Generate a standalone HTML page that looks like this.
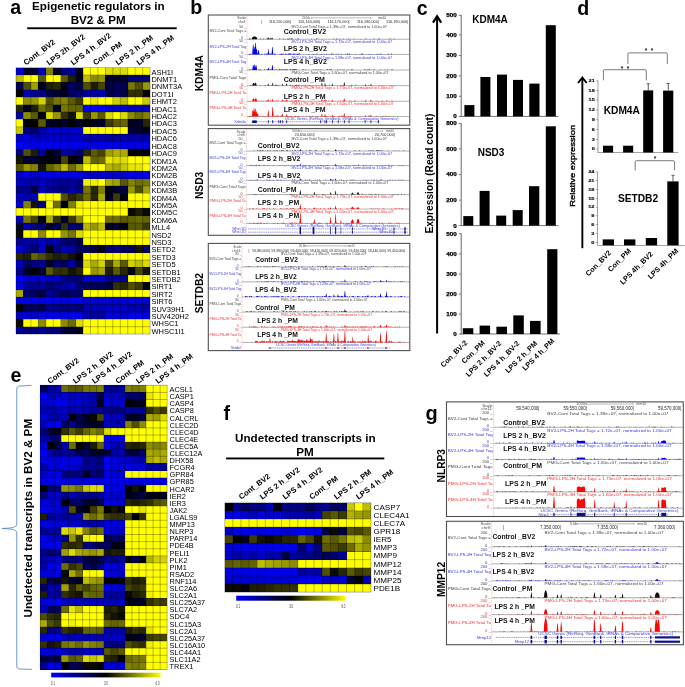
<!DOCTYPE html>
<html lang="en"><head><meta charset="utf-8"><title>Figure</title>
<style>html,body{margin:0;padding:0;background:#fff}svg{display:block}</style>
</head><body>
<svg width="685" height="687" viewBox="0 0 685 687" font-family="'Liberation Sans', Arial, sans-serif">
<rect width="685" height="687" fill="#fff"/>
<text x="10.30" y="14.40" font-size="19.6" font-weight="bold" text-anchor="start" fill="#000" >a</text>
<text x="98.40" y="10.40" font-size="11.65" font-weight="bold" text-anchor="middle" fill="#000" >Epigenetic regulators in</text>
<text x="98.20" y="24.10" font-size="11.65" font-weight="bold" text-anchor="middle" fill="#000" >BV2 &amp; PM</text>
<rect x="27.2" y="27.3" width="149.5" height="1.9" fill="#000"/>
<g shape-rendering="crispEdges">
<rect x="16.00" y="67.50" width="134.10" height="266.58" fill="#000"/>
<rect x="16.00" y="67.50" width="7.45" height="7.41" fill="#0000c8"/>
<rect x="23.45" y="67.50" width="7.45" height="7.41" fill="#000028"/>
<rect x="30.90" y="67.50" width="7.45" height="7.41" fill="#000028"/>
<rect x="38.35" y="67.50" width="7.45" height="7.41" fill="#0000b4"/>
<rect x="45.80" y="67.50" width="7.45" height="7.41" fill="#828200"/>
<rect x="53.25" y="67.50" width="7.45" height="7.41" fill="#000028"/>
<rect x="60.70" y="67.50" width="7.45" height="7.41" fill="#000082"/>
<rect x="68.15" y="67.50" width="7.45" height="7.41" fill="#000096"/>
<rect x="75.60" y="67.50" width="7.45" height="7.41" fill="#00001e"/>
<rect x="83.05" y="67.50" width="7.45" height="7.41" fill="#ffff00"/>
<rect x="90.50" y="67.50" width="7.45" height="7.41" fill="#ffff00"/>
<rect x="97.95" y="67.50" width="7.45" height="7.41" fill="#ffff00"/>
<rect x="105.40" y="67.50" width="7.45" height="7.41" fill="#dcdc00"/>
<rect x="112.85" y="67.50" width="7.45" height="7.41" fill="#dcdc00"/>
<rect x="120.30" y="67.50" width="7.45" height="7.41" fill="#dcdc00"/>
<rect x="127.75" y="67.50" width="7.45" height="7.41" fill="#ffff00"/>
<rect x="135.20" y="67.50" width="7.45" height="7.41" fill="#ffff00"/>
<rect x="142.65" y="67.50" width="7.45" height="7.41" fill="#ffff00"/>
<rect x="16.00" y="74.91" width="7.45" height="7.41" fill="#bebe00"/>
<rect x="23.45" y="74.91" width="7.45" height="7.41" fill="#ffff00"/>
<rect x="30.90" y="74.91" width="7.45" height="7.41" fill="#ffff00"/>
<rect x="38.35" y="74.91" width="7.45" height="7.41" fill="#5a5a00"/>
<rect x="45.80" y="74.91" width="7.45" height="7.41" fill="#ffff00"/>
<rect x="53.25" y="74.91" width="7.45" height="7.41" fill="#ffff00"/>
<rect x="60.70" y="74.91" width="7.45" height="7.41" fill="#5a5a00"/>
<rect x="68.15" y="74.91" width="7.45" height="7.41" fill="#1e1e00"/>
<rect x="75.60" y="74.91" width="7.45" height="7.41" fill="#00001e"/>
<rect x="83.05" y="74.91" width="7.45" height="7.41" fill="#bebe00"/>
<rect x="90.50" y="74.91" width="7.45" height="7.41" fill="#8c8c00"/>
<rect x="97.95" y="74.91" width="7.45" height="7.41" fill="#969600"/>
<rect x="105.40" y="74.91" width="7.45" height="7.41" fill="#000028"/>
<rect x="112.85" y="74.91" width="7.45" height="7.41" fill="#000028"/>
<rect x="120.30" y="74.91" width="7.45" height="7.41" fill="#000028"/>
<rect x="127.75" y="74.91" width="7.45" height="7.41" fill="#000078"/>
<rect x="135.20" y="74.91" width="7.45" height="7.41" fill="#000078"/>
<rect x="142.65" y="74.91" width="7.45" height="7.41" fill="#000078"/>
<rect x="16.00" y="82.31" width="7.45" height="7.41" fill="#000050"/>
<rect x="23.45" y="82.31" width="7.45" height="7.41" fill="#505000"/>
<rect x="30.90" y="82.31" width="7.45" height="7.41" fill="#a0a000"/>
<rect x="38.35" y="82.31" width="7.45" height="7.41" fill="#00001e"/>
<rect x="45.80" y="82.31" width="7.45" height="7.41" fill="#1e1e00"/>
<rect x="53.25" y="82.31" width="7.45" height="7.41" fill="#282800"/>
<rect x="60.70" y="82.31" width="7.45" height="7.41" fill="#00001e"/>
<rect x="68.15" y="82.31" width="7.45" height="7.41" fill="#00005a"/>
<rect x="75.60" y="82.31" width="7.45" height="7.41" fill="#00003c"/>
<rect x="83.05" y="82.31" width="7.45" height="7.41" fill="#505000"/>
<rect x="90.50" y="82.31" width="7.45" height="7.41" fill="#1e1e00"/>
<rect x="97.95" y="82.31" width="7.45" height="7.41" fill="#464600"/>
<rect x="105.40" y="82.31" width="7.45" height="7.41" fill="#000046"/>
<rect x="112.85" y="82.31" width="7.45" height="7.41" fill="#000050"/>
<rect x="120.30" y="82.31" width="7.45" height="7.41" fill="#00005a"/>
<rect x="127.75" y="82.31" width="7.45" height="7.41" fill="#787800"/>
<rect x="135.20" y="82.31" width="7.45" height="7.41" fill="#505000"/>
<rect x="142.65" y="82.31" width="7.45" height="7.41" fill="#969600"/>
<rect x="16.00" y="89.72" width="7.45" height="7.41" fill="#000000"/>
<rect x="23.45" y="89.72" width="7.45" height="7.41" fill="#0000b4"/>
<rect x="30.90" y="89.72" width="7.45" height="7.41" fill="#00008c"/>
<rect x="38.35" y="89.72" width="7.45" height="7.41" fill="#000082"/>
<rect x="45.80" y="89.72" width="7.45" height="7.41" fill="#000046"/>
<rect x="53.25" y="89.72" width="7.45" height="7.41" fill="#000028"/>
<rect x="60.70" y="89.72" width="7.45" height="7.41" fill="#00001e"/>
<rect x="68.15" y="89.72" width="7.45" height="7.41" fill="#000064"/>
<rect x="75.60" y="89.72" width="7.45" height="7.41" fill="#00006e"/>
<rect x="83.05" y="89.72" width="7.45" height="7.41" fill="#000096"/>
<rect x="90.50" y="89.72" width="7.45" height="7.41" fill="#0000a0"/>
<rect x="97.95" y="89.72" width="7.45" height="7.41" fill="#0000aa"/>
<rect x="105.40" y="89.72" width="7.45" height="7.41" fill="#000046"/>
<rect x="112.85" y="89.72" width="7.45" height="7.41" fill="#000064"/>
<rect x="120.30" y="89.72" width="7.45" height="7.41" fill="#000046"/>
<rect x="127.75" y="89.72" width="7.45" height="7.41" fill="#323200"/>
<rect x="135.20" y="89.72" width="7.45" height="7.41" fill="#323200"/>
<rect x="142.65" y="89.72" width="7.45" height="7.41" fill="#000000"/>
<rect x="16.00" y="97.12" width="7.45" height="7.41" fill="#ffff00"/>
<rect x="23.45" y="97.12" width="7.45" height="7.41" fill="#8c8c00"/>
<rect x="30.90" y="97.12" width="7.45" height="7.41" fill="#969600"/>
<rect x="38.35" y="97.12" width="7.45" height="7.41" fill="#d2d200"/>
<rect x="45.80" y="97.12" width="7.45" height="7.41" fill="#505000"/>
<rect x="53.25" y="97.12" width="7.45" height="7.41" fill="#787800"/>
<rect x="60.70" y="97.12" width="7.45" height="7.41" fill="#828200"/>
<rect x="68.15" y="97.12" width="7.45" height="7.41" fill="#5a5a00"/>
<rect x="75.60" y="97.12" width="7.45" height="7.41" fill="#3c3c00"/>
<rect x="83.05" y="97.12" width="7.45" height="7.41" fill="#ffff00"/>
<rect x="90.50" y="97.12" width="7.45" height="7.41" fill="#e6e600"/>
<rect x="97.95" y="97.12" width="7.45" height="7.41" fill="#ffff00"/>
<rect x="105.40" y="97.12" width="7.45" height="7.41" fill="#ffff00"/>
<rect x="112.85" y="97.12" width="7.45" height="7.41" fill="#d2d200"/>
<rect x="120.30" y="97.12" width="7.45" height="7.41" fill="#bebe00"/>
<rect x="127.75" y="97.12" width="7.45" height="7.41" fill="#ffff00"/>
<rect x="135.20" y="97.12" width="7.45" height="7.41" fill="#ffff00"/>
<rect x="142.65" y="97.12" width="7.45" height="7.41" fill="#c8c800"/>
<rect x="16.00" y="104.53" width="7.45" height="7.41" fill="#282800"/>
<rect x="23.45" y="104.53" width="7.45" height="7.41" fill="#00001e"/>
<rect x="30.90" y="104.53" width="7.45" height="7.41" fill="#1e1e00"/>
<rect x="38.35" y="104.53" width="7.45" height="7.41" fill="#6e6e00"/>
<rect x="45.80" y="104.53" width="7.45" height="7.41" fill="#505000"/>
<rect x="53.25" y="104.53" width="7.45" height="7.41" fill="#000032"/>
<rect x="60.70" y="104.53" width="7.45" height="7.41" fill="#787800"/>
<rect x="68.15" y="104.53" width="7.45" height="7.41" fill="#646400"/>
<rect x="75.60" y="104.53" width="7.45" height="7.41" fill="#646400"/>
<rect x="83.05" y="104.53" width="7.45" height="7.41" fill="#0000ff"/>
<rect x="90.50" y="104.53" width="7.45" height="7.41" fill="#0000ff"/>
<rect x="97.95" y="104.53" width="7.45" height="7.41" fill="#0000ff"/>
<rect x="105.40" y="104.53" width="7.45" height="7.41" fill="#0000d2"/>
<rect x="112.85" y="104.53" width="7.45" height="7.41" fill="#0000d2"/>
<rect x="120.30" y="104.53" width="7.45" height="7.41" fill="#0000d2"/>
<rect x="127.75" y="104.53" width="7.45" height="7.41" fill="#0000be"/>
<rect x="135.20" y="104.53" width="7.45" height="7.41" fill="#0000be"/>
<rect x="142.65" y="104.53" width="7.45" height="7.41" fill="#0000be"/>
<rect x="16.00" y="111.93" width="7.45" height="7.41" fill="#000096"/>
<rect x="23.45" y="111.93" width="7.45" height="7.41" fill="#8c8c00"/>
<rect x="30.90" y="111.93" width="7.45" height="7.41" fill="#5a5a00"/>
<rect x="38.35" y="111.93" width="7.45" height="7.41" fill="#000000"/>
<rect x="45.80" y="111.93" width="7.45" height="7.41" fill="#dcdc00"/>
<rect x="53.25" y="111.93" width="7.45" height="7.41" fill="#969600"/>
<rect x="60.70" y="111.93" width="7.45" height="7.41" fill="#323200"/>
<rect x="68.15" y="111.93" width="7.45" height="7.41" fill="#141400"/>
<rect x="75.60" y="111.93" width="7.45" height="7.41" fill="#dcdc00"/>
<rect x="83.05" y="111.93" width="7.45" height="7.41" fill="#3c3c00"/>
<rect x="90.50" y="111.93" width="7.45" height="7.41" fill="#969600"/>
<rect x="97.95" y="111.93" width="7.45" height="7.41" fill="#5a5a00"/>
<rect x="105.40" y="111.93" width="7.45" height="7.41" fill="#dcdc00"/>
<rect x="112.85" y="111.93" width="7.45" height="7.41" fill="#ffff00"/>
<rect x="120.30" y="111.93" width="7.45" height="7.41" fill="#dcdc00"/>
<rect x="127.75" y="111.93" width="7.45" height="7.41" fill="#8c8c00"/>
<rect x="135.20" y="111.93" width="7.45" height="7.41" fill="#6e6e00"/>
<rect x="142.65" y="111.93" width="7.45" height="7.41" fill="#828200"/>
<rect x="16.00" y="119.34" width="7.45" height="7.41" fill="#ffff00"/>
<rect x="23.45" y="119.34" width="7.45" height="7.41" fill="#000000"/>
<rect x="30.90" y="119.34" width="7.45" height="7.41" fill="#000000"/>
<rect x="38.35" y="119.34" width="7.45" height="7.41" fill="#5a5a00"/>
<rect x="45.80" y="119.34" width="7.45" height="7.41" fill="#000028"/>
<rect x="53.25" y="119.34" width="7.45" height="7.41" fill="#00001e"/>
<rect x="60.70" y="119.34" width="7.45" height="7.41" fill="#000028"/>
<rect x="68.15" y="119.34" width="7.45" height="7.41" fill="#00000a"/>
<rect x="75.60" y="119.34" width="7.45" height="7.41" fill="#000028"/>
<rect x="83.05" y="119.34" width="7.45" height="7.41" fill="#000000"/>
<rect x="90.50" y="119.34" width="7.45" height="7.41" fill="#00001e"/>
<rect x="97.95" y="119.34" width="7.45" height="7.41" fill="#000028"/>
<rect x="105.40" y="119.34" width="7.45" height="7.41" fill="#3c3c00"/>
<rect x="112.85" y="119.34" width="7.45" height="7.41" fill="#5a5a00"/>
<rect x="120.30" y="119.34" width="7.45" height="7.41" fill="#646400"/>
<rect x="127.75" y="119.34" width="7.45" height="7.41" fill="#00001e"/>
<rect x="135.20" y="119.34" width="7.45" height="7.41" fill="#000028"/>
<rect x="142.65" y="119.34" width="7.45" height="7.41" fill="#282800"/>
<rect x="16.00" y="126.74" width="7.45" height="7.41" fill="#c8c800"/>
<rect x="23.45" y="126.74" width="7.45" height="7.41" fill="#000082"/>
<rect x="30.90" y="126.74" width="7.45" height="7.41" fill="#000064"/>
<rect x="38.35" y="126.74" width="7.45" height="7.41" fill="#0000aa"/>
<rect x="45.80" y="126.74" width="7.45" height="7.41" fill="#0000c8"/>
<rect x="53.25" y="126.74" width="7.45" height="7.41" fill="#0000c8"/>
<rect x="60.70" y="126.74" width="7.45" height="7.41" fill="#0000c8"/>
<rect x="68.15" y="126.74" width="7.45" height="7.41" fill="#0000c8"/>
<rect x="75.60" y="126.74" width="7.45" height="7.41" fill="#0000c8"/>
<rect x="83.05" y="126.74" width="7.45" height="7.41" fill="#ffff00"/>
<rect x="90.50" y="126.74" width="7.45" height="7.41" fill="#ffff00"/>
<rect x="97.95" y="126.74" width="7.45" height="7.41" fill="#ffff00"/>
<rect x="105.40" y="126.74" width="7.45" height="7.41" fill="#ffff00"/>
<rect x="112.85" y="126.74" width="7.45" height="7.41" fill="#ffff00"/>
<rect x="120.30" y="126.74" width="7.45" height="7.41" fill="#ffff00"/>
<rect x="127.75" y="126.74" width="7.45" height="7.41" fill="#00003c"/>
<rect x="135.20" y="126.74" width="7.45" height="7.41" fill="#000028"/>
<rect x="142.65" y="126.74" width="7.45" height="7.41" fill="#00001e"/>
<rect x="16.00" y="134.14" width="7.45" height="7.41" fill="#0000be"/>
<rect x="23.45" y="134.14" width="7.45" height="7.41" fill="#0000dc"/>
<rect x="30.90" y="134.14" width="7.45" height="7.41" fill="#0000c8"/>
<rect x="38.35" y="134.14" width="7.45" height="7.41" fill="#0000c8"/>
<rect x="45.80" y="134.14" width="7.45" height="7.41" fill="#0000c8"/>
<rect x="53.25" y="134.14" width="7.45" height="7.41" fill="#0000c8"/>
<rect x="60.70" y="134.14" width="7.45" height="7.41" fill="#0000c8"/>
<rect x="68.15" y="134.14" width="7.45" height="7.41" fill="#0000c8"/>
<rect x="75.60" y="134.14" width="7.45" height="7.41" fill="#0000c8"/>
<rect x="83.05" y="134.14" width="7.45" height="7.41" fill="#0000aa"/>
<rect x="90.50" y="134.14" width="7.45" height="7.41" fill="#0000aa"/>
<rect x="97.95" y="134.14" width="7.45" height="7.41" fill="#0000aa"/>
<rect x="105.40" y="134.14" width="7.45" height="7.41" fill="#000096"/>
<rect x="112.85" y="134.14" width="7.45" height="7.41" fill="#000096"/>
<rect x="120.30" y="134.14" width="7.45" height="7.41" fill="#0000aa"/>
<rect x="127.75" y="134.14" width="7.45" height="7.41" fill="#0000aa"/>
<rect x="135.20" y="134.14" width="7.45" height="7.41" fill="#0000aa"/>
<rect x="142.65" y="134.14" width="7.45" height="7.41" fill="#0000aa"/>
<rect x="16.00" y="141.55" width="7.45" height="7.41" fill="#0000ff"/>
<rect x="23.45" y="141.55" width="7.45" height="7.41" fill="#0000f0"/>
<rect x="30.90" y="141.55" width="7.45" height="7.41" fill="#0000f0"/>
<rect x="38.35" y="141.55" width="7.45" height="7.41" fill="#0000f0"/>
<rect x="45.80" y="141.55" width="7.45" height="7.41" fill="#0000f0"/>
<rect x="53.25" y="141.55" width="7.45" height="7.41" fill="#0000f0"/>
<rect x="60.70" y="141.55" width="7.45" height="7.41" fill="#0000f0"/>
<rect x="68.15" y="141.55" width="7.45" height="7.41" fill="#0000f0"/>
<rect x="75.60" y="141.55" width="7.45" height="7.41" fill="#0000f0"/>
<rect x="83.05" y="141.55" width="7.45" height="7.41" fill="#0000e6"/>
<rect x="90.50" y="141.55" width="7.45" height="7.41" fill="#0000e6"/>
<rect x="97.95" y="141.55" width="7.45" height="7.41" fill="#0000e6"/>
<rect x="105.40" y="141.55" width="7.45" height="7.41" fill="#0000e6"/>
<rect x="112.85" y="141.55" width="7.45" height="7.41" fill="#0000e6"/>
<rect x="120.30" y="141.55" width="7.45" height="7.41" fill="#0000e6"/>
<rect x="127.75" y="141.55" width="7.45" height="7.41" fill="#0000e6"/>
<rect x="135.20" y="141.55" width="7.45" height="7.41" fill="#0000e6"/>
<rect x="142.65" y="141.55" width="7.45" height="7.41" fill="#0000e6"/>
<rect x="16.00" y="148.95" width="7.45" height="7.41" fill="#000078"/>
<rect x="23.45" y="148.95" width="7.45" height="7.41" fill="#505000"/>
<rect x="30.90" y="148.95" width="7.45" height="7.41" fill="#1e1e00"/>
<rect x="38.35" y="148.95" width="7.45" height="7.41" fill="#000096"/>
<rect x="45.80" y="148.95" width="7.45" height="7.41" fill="#000014"/>
<rect x="53.25" y="148.95" width="7.45" height="7.41" fill="#000032"/>
<rect x="60.70" y="148.95" width="7.45" height="7.41" fill="#0000a0"/>
<rect x="68.15" y="148.95" width="7.45" height="7.41" fill="#000096"/>
<rect x="75.60" y="148.95" width="7.45" height="7.41" fill="#00006e"/>
<rect x="83.05" y="148.95" width="7.45" height="7.41" fill="#282800"/>
<rect x="90.50" y="148.95" width="7.45" height="7.41" fill="#5a5a00"/>
<rect x="97.95" y="148.95" width="7.45" height="7.41" fill="#464600"/>
<rect x="105.40" y="148.95" width="7.45" height="7.41" fill="#a0a000"/>
<rect x="112.85" y="148.95" width="7.45" height="7.41" fill="#b4b400"/>
<rect x="120.30" y="148.95" width="7.45" height="7.41" fill="#aaaa00"/>
<rect x="127.75" y="148.95" width="7.45" height="7.41" fill="#000000"/>
<rect x="135.20" y="148.95" width="7.45" height="7.41" fill="#000000"/>
<rect x="142.65" y="148.95" width="7.45" height="7.41" fill="#000000"/>
<rect x="16.00" y="156.36" width="7.45" height="7.41" fill="#141400"/>
<rect x="23.45" y="156.36" width="7.45" height="7.41" fill="#000032"/>
<rect x="30.90" y="156.36" width="7.45" height="7.41" fill="#00003c"/>
<rect x="38.35" y="156.36" width="7.45" height="7.41" fill="#000014"/>
<rect x="45.80" y="156.36" width="7.45" height="7.41" fill="#000000"/>
<rect x="53.25" y="156.36" width="7.45" height="7.41" fill="#00001e"/>
<rect x="60.70" y="156.36" width="7.45" height="7.41" fill="#464600"/>
<rect x="68.15" y="156.36" width="7.45" height="7.41" fill="#000000"/>
<rect x="75.60" y="156.36" width="7.45" height="7.41" fill="#000028"/>
<rect x="83.05" y="156.36" width="7.45" height="7.41" fill="#bebe00"/>
<rect x="90.50" y="156.36" width="7.45" height="7.41" fill="#646400"/>
<rect x="97.95" y="156.36" width="7.45" height="7.41" fill="#6e6e00"/>
<rect x="105.40" y="156.36" width="7.45" height="7.41" fill="#e6e600"/>
<rect x="112.85" y="156.36" width="7.45" height="7.41" fill="#dcdc00"/>
<rect x="120.30" y="156.36" width="7.45" height="7.41" fill="#dcdc00"/>
<rect x="127.75" y="156.36" width="7.45" height="7.41" fill="#ffff00"/>
<rect x="135.20" y="156.36" width="7.45" height="7.41" fill="#ffff00"/>
<rect x="142.65" y="156.36" width="7.45" height="7.41" fill="#ffff00"/>
<rect x="16.00" y="163.76" width="7.45" height="7.41" fill="#5a5a00"/>
<rect x="23.45" y="163.76" width="7.45" height="7.41" fill="#969600"/>
<rect x="30.90" y="163.76" width="7.45" height="7.41" fill="#828200"/>
<rect x="38.35" y="163.76" width="7.45" height="7.41" fill="#141400"/>
<rect x="45.80" y="163.76" width="7.45" height="7.41" fill="#646400"/>
<rect x="53.25" y="163.76" width="7.45" height="7.41" fill="#828200"/>
<rect x="60.70" y="163.76" width="7.45" height="7.41" fill="#bebe00"/>
<rect x="68.15" y="163.76" width="7.45" height="7.41" fill="#6e6e00"/>
<rect x="75.60" y="163.76" width="7.45" height="7.41" fill="#a0a000"/>
<rect x="83.05" y="163.76" width="7.45" height="7.41" fill="#ffff00"/>
<rect x="90.50" y="163.76" width="7.45" height="7.41" fill="#ffff00"/>
<rect x="97.95" y="163.76" width="7.45" height="7.41" fill="#ffff00"/>
<rect x="105.40" y="163.76" width="7.45" height="7.41" fill="#b4b400"/>
<rect x="112.85" y="163.76" width="7.45" height="7.41" fill="#aaaa00"/>
<rect x="120.30" y="163.76" width="7.45" height="7.41" fill="#c8c800"/>
<rect x="127.75" y="163.76" width="7.45" height="7.41" fill="#e6e600"/>
<rect x="135.20" y="163.76" width="7.45" height="7.41" fill="#e6e600"/>
<rect x="142.65" y="163.76" width="7.45" height="7.41" fill="#ffff00"/>
<rect x="16.00" y="171.17" width="7.45" height="7.41" fill="#0000c8"/>
<rect x="23.45" y="171.17" width="7.45" height="7.41" fill="#0000e6"/>
<rect x="30.90" y="171.17" width="7.45" height="7.41" fill="#0000c8"/>
<rect x="38.35" y="171.17" width="7.45" height="7.41" fill="#0000e6"/>
<rect x="45.80" y="171.17" width="7.45" height="7.41" fill="#0000e6"/>
<rect x="53.25" y="171.17" width="7.45" height="7.41" fill="#0000e6"/>
<rect x="60.70" y="171.17" width="7.45" height="7.41" fill="#0000e6"/>
<rect x="68.15" y="171.17" width="7.45" height="7.41" fill="#0000e6"/>
<rect x="75.60" y="171.17" width="7.45" height="7.41" fill="#0000e6"/>
<rect x="83.05" y="171.17" width="7.45" height="7.41" fill="#0000c8"/>
<rect x="90.50" y="171.17" width="7.45" height="7.41" fill="#0000c8"/>
<rect x="97.95" y="171.17" width="7.45" height="7.41" fill="#0000c8"/>
<rect x="105.40" y="171.17" width="7.45" height="7.41" fill="#0000c8"/>
<rect x="112.85" y="171.17" width="7.45" height="7.41" fill="#0000c8"/>
<rect x="120.30" y="171.17" width="7.45" height="7.41" fill="#0000c8"/>
<rect x="127.75" y="171.17" width="7.45" height="7.41" fill="#0000e6"/>
<rect x="135.20" y="171.17" width="7.45" height="7.41" fill="#0000e6"/>
<rect x="142.65" y="171.17" width="7.45" height="7.41" fill="#0000e6"/>
<rect x="16.00" y="178.57" width="7.45" height="7.41" fill="#0000c8"/>
<rect x="23.45" y="178.57" width="7.45" height="7.41" fill="#0000aa"/>
<rect x="30.90" y="178.57" width="7.45" height="7.41" fill="#0000b4"/>
<rect x="38.35" y="178.57" width="7.45" height="7.41" fill="#0000c8"/>
<rect x="45.80" y="178.57" width="7.45" height="7.41" fill="#0000a0"/>
<rect x="53.25" y="178.57" width="7.45" height="7.41" fill="#000096"/>
<rect x="60.70" y="178.57" width="7.45" height="7.41" fill="#000096"/>
<rect x="68.15" y="178.57" width="7.45" height="7.41" fill="#000096"/>
<rect x="75.60" y="178.57" width="7.45" height="7.41" fill="#000082"/>
<rect x="83.05" y="178.57" width="7.45" height="7.41" fill="#f0f000"/>
<rect x="90.50" y="178.57" width="7.45" height="7.41" fill="#f0f000"/>
<rect x="97.95" y="178.57" width="7.45" height="7.41" fill="#ffff00"/>
<rect x="105.40" y="178.57" width="7.45" height="7.41" fill="#aaaa00"/>
<rect x="112.85" y="178.57" width="7.45" height="7.41" fill="#a0a000"/>
<rect x="120.30" y="178.57" width="7.45" height="7.41" fill="#5a5a00"/>
<rect x="127.75" y="178.57" width="7.45" height="7.41" fill="#828200"/>
<rect x="135.20" y="178.57" width="7.45" height="7.41" fill="#6e6e00"/>
<rect x="142.65" y="178.57" width="7.45" height="7.41" fill="#787800"/>
<rect x="16.00" y="185.98" width="7.45" height="7.41" fill="#000082"/>
<rect x="23.45" y="185.98" width="7.45" height="7.41" fill="#000096"/>
<rect x="30.90" y="185.98" width="7.45" height="7.41" fill="#000046"/>
<rect x="38.35" y="185.98" width="7.45" height="7.41" fill="#0000b4"/>
<rect x="45.80" y="185.98" width="7.45" height="7.41" fill="#000096"/>
<rect x="53.25" y="185.98" width="7.45" height="7.41" fill="#00008c"/>
<rect x="60.70" y="185.98" width="7.45" height="7.41" fill="#000082"/>
<rect x="68.15" y="185.98" width="7.45" height="7.41" fill="#0000aa"/>
<rect x="75.60" y="185.98" width="7.45" height="7.41" fill="#000082"/>
<rect x="83.05" y="185.98" width="7.45" height="7.41" fill="#787800"/>
<rect x="90.50" y="185.98" width="7.45" height="7.41" fill="#282800"/>
<rect x="97.95" y="185.98" width="7.45" height="7.41" fill="#828200"/>
<rect x="105.40" y="185.98" width="7.45" height="7.41" fill="#000014"/>
<rect x="112.85" y="185.98" width="7.45" height="7.41" fill="#000032"/>
<rect x="120.30" y="185.98" width="7.45" height="7.41" fill="#000046"/>
<rect x="127.75" y="185.98" width="7.45" height="7.41" fill="#969600"/>
<rect x="135.20" y="185.98" width="7.45" height="7.41" fill="#505000"/>
<rect x="142.65" y="185.98" width="7.45" height="7.41" fill="#a0a000"/>
<rect x="16.00" y="193.38" width="7.45" height="7.41" fill="#0000be"/>
<rect x="23.45" y="193.38" width="7.45" height="7.41" fill="#0000aa"/>
<rect x="30.90" y="193.38" width="7.45" height="7.41" fill="#0000b4"/>
<rect x="38.35" y="193.38" width="7.45" height="7.41" fill="#ffff00"/>
<rect x="45.80" y="193.38" width="7.45" height="7.41" fill="#ffff00"/>
<rect x="53.25" y="193.38" width="7.45" height="7.41" fill="#ffff00"/>
<rect x="60.70" y="193.38" width="7.45" height="7.41" fill="#505000"/>
<rect x="68.15" y="193.38" width="7.45" height="7.41" fill="#282800"/>
<rect x="75.60" y="193.38" width="7.45" height="7.41" fill="#3c3c00"/>
<rect x="83.05" y="193.38" width="7.45" height="7.41" fill="#6e6e00"/>
<rect x="90.50" y="193.38" width="7.45" height="7.41" fill="#282800"/>
<rect x="97.95" y="193.38" width="7.45" height="7.41" fill="#aaaa00"/>
<rect x="105.40" y="193.38" width="7.45" height="7.41" fill="#00001e"/>
<rect x="112.85" y="193.38" width="7.45" height="7.41" fill="#3c3c00"/>
<rect x="120.30" y="193.38" width="7.45" height="7.41" fill="#000014"/>
<rect x="127.75" y="193.38" width="7.45" height="7.41" fill="#ffff00"/>
<rect x="135.20" y="193.38" width="7.45" height="7.41" fill="#ffff00"/>
<rect x="142.65" y="193.38" width="7.45" height="7.41" fill="#ffff00"/>
<rect x="16.00" y="200.79" width="7.45" height="7.41" fill="#0000c8"/>
<rect x="23.45" y="200.79" width="7.45" height="7.41" fill="#828200"/>
<rect x="30.90" y="200.79" width="7.45" height="7.41" fill="#141400"/>
<rect x="38.35" y="200.79" width="7.45" height="7.41" fill="#00008c"/>
<rect x="45.80" y="200.79" width="7.45" height="7.41" fill="#ffff00"/>
<rect x="53.25" y="200.79" width="7.45" height="7.41" fill="#6e6e00"/>
<rect x="60.70" y="200.79" width="7.45" height="7.41" fill="#000000"/>
<rect x="68.15" y="200.79" width="7.45" height="7.41" fill="#828200"/>
<rect x="75.60" y="200.79" width="7.45" height="7.41" fill="#f0f000"/>
<rect x="83.05" y="200.79" width="7.45" height="7.41" fill="#ffff00"/>
<rect x="90.50" y="200.79" width="7.45" height="7.41" fill="#ffff00"/>
<rect x="97.95" y="200.79" width="7.45" height="7.41" fill="#ffff00"/>
<rect x="105.40" y="200.79" width="7.45" height="7.41" fill="#ffff00"/>
<rect x="112.85" y="200.79" width="7.45" height="7.41" fill="#ffff00"/>
<rect x="120.30" y="200.79" width="7.45" height="7.41" fill="#ffff00"/>
<rect x="127.75" y="200.79" width="7.45" height="7.41" fill="#ffff00"/>
<rect x="135.20" y="200.79" width="7.45" height="7.41" fill="#ffff00"/>
<rect x="142.65" y="200.79" width="7.45" height="7.41" fill="#ffff00"/>
<rect x="16.00" y="208.19" width="7.45" height="7.41" fill="#ffff00"/>
<rect x="23.45" y="208.19" width="7.45" height="7.41" fill="#ffff00"/>
<rect x="30.90" y="208.19" width="7.45" height="7.41" fill="#ffff00"/>
<rect x="38.35" y="208.19" width="7.45" height="7.41" fill="#ffff00"/>
<rect x="45.80" y="208.19" width="7.45" height="7.41" fill="#ffff00"/>
<rect x="53.25" y="208.19" width="7.45" height="7.41" fill="#ffff00"/>
<rect x="60.70" y="208.19" width="7.45" height="7.41" fill="#ffff00"/>
<rect x="68.15" y="208.19" width="7.45" height="7.41" fill="#ffff00"/>
<rect x="75.60" y="208.19" width="7.45" height="7.41" fill="#ffff00"/>
<rect x="83.05" y="208.19" width="7.45" height="7.41" fill="#ffff00"/>
<rect x="90.50" y="208.19" width="7.45" height="7.41" fill="#ffff00"/>
<rect x="97.95" y="208.19" width="7.45" height="7.41" fill="#ffff00"/>
<rect x="105.40" y="208.19" width="7.45" height="7.41" fill="#ffff00"/>
<rect x="112.85" y="208.19" width="7.45" height="7.41" fill="#ffff00"/>
<rect x="120.30" y="208.19" width="7.45" height="7.41" fill="#ffff00"/>
<rect x="127.75" y="208.19" width="7.45" height="7.41" fill="#0a0a00"/>
<rect x="135.20" y="208.19" width="7.45" height="7.41" fill="#1e1e00"/>
<rect x="142.65" y="208.19" width="7.45" height="7.41" fill="#0a0a00"/>
<rect x="16.00" y="215.60" width="7.45" height="7.41" fill="#0000aa"/>
<rect x="23.45" y="215.60" width="7.45" height="7.41" fill="#787800"/>
<rect x="30.90" y="215.60" width="7.45" height="7.41" fill="#464600"/>
<rect x="38.35" y="215.60" width="7.45" height="7.41" fill="#000014"/>
<rect x="45.80" y="215.60" width="7.45" height="7.41" fill="#aaaa00"/>
<rect x="53.25" y="215.60" width="7.45" height="7.41" fill="#323200"/>
<rect x="60.70" y="215.60" width="7.45" height="7.41" fill="#000028"/>
<rect x="68.15" y="215.60" width="7.45" height="7.41" fill="#3c3c00"/>
<rect x="75.60" y="215.60" width="7.45" height="7.41" fill="#8c8c00"/>
<rect x="83.05" y="215.60" width="7.45" height="7.41" fill="#ffff00"/>
<rect x="90.50" y="215.60" width="7.45" height="7.41" fill="#ffff00"/>
<rect x="97.95" y="215.60" width="7.45" height="7.41" fill="#ffff00"/>
<rect x="105.40" y="215.60" width="7.45" height="7.41" fill="#6e6e00"/>
<rect x="112.85" y="215.60" width="7.45" height="7.41" fill="#6e6e00"/>
<rect x="120.30" y="215.60" width="7.45" height="7.41" fill="#5a5a00"/>
<rect x="127.75" y="215.60" width="7.45" height="7.41" fill="#646400"/>
<rect x="135.20" y="215.60" width="7.45" height="7.41" fill="#6e6e00"/>
<rect x="142.65" y="215.60" width="7.45" height="7.41" fill="#646400"/>
<rect x="16.00" y="223.00" width="7.45" height="7.41" fill="#000028"/>
<rect x="23.45" y="223.00" width="7.45" height="7.41" fill="#0000b4"/>
<rect x="30.90" y="223.00" width="7.45" height="7.41" fill="#000082"/>
<rect x="38.35" y="223.00" width="7.45" height="7.41" fill="#000078"/>
<rect x="45.80" y="223.00" width="7.45" height="7.41" fill="#000028"/>
<rect x="53.25" y="223.00" width="7.45" height="7.41" fill="#00005a"/>
<rect x="60.70" y="223.00" width="7.45" height="7.41" fill="#323200"/>
<rect x="68.15" y="223.00" width="7.45" height="7.41" fill="#000078"/>
<rect x="75.60" y="223.00" width="7.45" height="7.41" fill="#000064"/>
<rect x="83.05" y="223.00" width="7.45" height="7.41" fill="#b4b400"/>
<rect x="90.50" y="223.00" width="7.45" height="7.41" fill="#969600"/>
<rect x="97.95" y="223.00" width="7.45" height="7.41" fill="#bebe00"/>
<rect x="105.40" y="223.00" width="7.45" height="7.41" fill="#000014"/>
<rect x="112.85" y="223.00" width="7.45" height="7.41" fill="#00003c"/>
<rect x="120.30" y="223.00" width="7.45" height="7.41" fill="#000014"/>
<rect x="127.75" y="223.00" width="7.45" height="7.41" fill="#5a5a00"/>
<rect x="135.20" y="223.00" width="7.45" height="7.41" fill="#5a5a00"/>
<rect x="142.65" y="223.00" width="7.45" height="7.41" fill="#3c3c00"/>
<rect x="16.00" y="230.41" width="7.45" height="7.41" fill="#0a0a00"/>
<rect x="23.45" y="230.41" width="7.45" height="7.41" fill="#ffff00"/>
<rect x="30.90" y="230.41" width="7.45" height="7.41" fill="#ffff00"/>
<rect x="38.35" y="230.41" width="7.45" height="7.41" fill="#8c8c00"/>
<rect x="45.80" y="230.41" width="7.45" height="7.41" fill="#ffff00"/>
<rect x="53.25" y="230.41" width="7.45" height="7.41" fill="#ffff00"/>
<rect x="60.70" y="230.41" width="7.45" height="7.41" fill="#969600"/>
<rect x="68.15" y="230.41" width="7.45" height="7.41" fill="#787800"/>
<rect x="75.60" y="230.41" width="7.45" height="7.41" fill="#dcdc00"/>
<rect x="83.05" y="230.41" width="7.45" height="7.41" fill="#ffff00"/>
<rect x="90.50" y="230.41" width="7.45" height="7.41" fill="#ffff00"/>
<rect x="97.95" y="230.41" width="7.45" height="7.41" fill="#ffff00"/>
<rect x="105.40" y="230.41" width="7.45" height="7.41" fill="#ffff00"/>
<rect x="112.85" y="230.41" width="7.45" height="7.41" fill="#ffff00"/>
<rect x="120.30" y="230.41" width="7.45" height="7.41" fill="#ffff00"/>
<rect x="127.75" y="230.41" width="7.45" height="7.41" fill="#ffff00"/>
<rect x="135.20" y="230.41" width="7.45" height="7.41" fill="#ffff00"/>
<rect x="142.65" y="230.41" width="7.45" height="7.41" fill="#ffff00"/>
<rect x="16.00" y="237.81" width="7.45" height="7.41" fill="#00008c"/>
<rect x="23.45" y="237.81" width="7.45" height="7.41" fill="#0000aa"/>
<rect x="30.90" y="237.81" width="7.45" height="7.41" fill="#000096"/>
<rect x="38.35" y="237.81" width="7.45" height="7.41" fill="#0000be"/>
<rect x="45.80" y="237.81" width="7.45" height="7.41" fill="#0000a0"/>
<rect x="53.25" y="237.81" width="7.45" height="7.41" fill="#0000aa"/>
<rect x="60.70" y="237.81" width="7.45" height="7.41" fill="#00006e"/>
<rect x="68.15" y="237.81" width="7.45" height="7.41" fill="#000064"/>
<rect x="75.60" y="237.81" width="7.45" height="7.41" fill="#000046"/>
<rect x="83.05" y="237.81" width="7.45" height="7.41" fill="#ffff00"/>
<rect x="90.50" y="237.81" width="7.45" height="7.41" fill="#ffff00"/>
<rect x="97.95" y="237.81" width="7.45" height="7.41" fill="#ffff00"/>
<rect x="105.40" y="237.81" width="7.45" height="7.41" fill="#ffff00"/>
<rect x="112.85" y="237.81" width="7.45" height="7.41" fill="#ffff00"/>
<rect x="120.30" y="237.81" width="7.45" height="7.41" fill="#ffff00"/>
<rect x="127.75" y="237.81" width="7.45" height="7.41" fill="#ffff00"/>
<rect x="135.20" y="237.81" width="7.45" height="7.41" fill="#ffff00"/>
<rect x="142.65" y="237.81" width="7.45" height="7.41" fill="#ffff00"/>
<rect x="16.00" y="245.22" width="7.45" height="7.41" fill="#0000dc"/>
<rect x="23.45" y="245.22" width="7.45" height="7.41" fill="#000096"/>
<rect x="30.90" y="245.22" width="7.45" height="7.41" fill="#00006e"/>
<rect x="38.35" y="245.22" width="7.45" height="7.41" fill="#0000c8"/>
<rect x="45.80" y="245.22" width="7.45" height="7.41" fill="#000014"/>
<rect x="53.25" y="245.22" width="7.45" height="7.41" fill="#000082"/>
<rect x="60.70" y="245.22" width="7.45" height="7.41" fill="#0000be"/>
<rect x="68.15" y="245.22" width="7.45" height="7.41" fill="#0000aa"/>
<rect x="75.60" y="245.22" width="7.45" height="7.41" fill="#00005a"/>
<rect x="83.05" y="245.22" width="7.45" height="7.41" fill="#00005a"/>
<rect x="90.50" y="245.22" width="7.45" height="7.41" fill="#000046"/>
<rect x="97.95" y="245.22" width="7.45" height="7.41" fill="#00001e"/>
<rect x="105.40" y="245.22" width="7.45" height="7.41" fill="#00006e"/>
<rect x="112.85" y="245.22" width="7.45" height="7.41" fill="#000082"/>
<rect x="120.30" y="245.22" width="7.45" height="7.41" fill="#000064"/>
<rect x="127.75" y="245.22" width="7.45" height="7.41" fill="#00005a"/>
<rect x="135.20" y="245.22" width="7.45" height="7.41" fill="#141400"/>
<rect x="142.65" y="245.22" width="7.45" height="7.41" fill="#000064"/>
<rect x="16.00" y="252.62" width="7.45" height="7.41" fill="#282800"/>
<rect x="23.45" y="252.62" width="7.45" height="7.41" fill="#1e1e00"/>
<rect x="30.90" y="252.62" width="7.45" height="7.41" fill="#646400"/>
<rect x="38.35" y="252.62" width="7.45" height="7.41" fill="#505000"/>
<rect x="45.80" y="252.62" width="7.45" height="7.41" fill="#323200"/>
<rect x="53.25" y="252.62" width="7.45" height="7.41" fill="#1e1e00"/>
<rect x="60.70" y="252.62" width="7.45" height="7.41" fill="#282800"/>
<rect x="68.15" y="252.62" width="7.45" height="7.41" fill="#141400"/>
<rect x="75.60" y="252.62" width="7.45" height="7.41" fill="#000000"/>
<rect x="83.05" y="252.62" width="7.45" height="7.41" fill="#ffff00"/>
<rect x="90.50" y="252.62" width="7.45" height="7.41" fill="#ffff00"/>
<rect x="97.95" y="252.62" width="7.45" height="7.41" fill="#ffff00"/>
<rect x="105.40" y="252.62" width="7.45" height="7.41" fill="#ffff00"/>
<rect x="112.85" y="252.62" width="7.45" height="7.41" fill="#ffff00"/>
<rect x="120.30" y="252.62" width="7.45" height="7.41" fill="#ffff00"/>
<rect x="127.75" y="252.62" width="7.45" height="7.41" fill="#ffff00"/>
<rect x="135.20" y="252.62" width="7.45" height="7.41" fill="#ffff00"/>
<rect x="142.65" y="252.62" width="7.45" height="7.41" fill="#ffff00"/>
<rect x="16.00" y="260.03" width="7.45" height="7.41" fill="#0000be"/>
<rect x="23.45" y="260.03" width="7.45" height="7.41" fill="#000064"/>
<rect x="30.90" y="260.03" width="7.45" height="7.41" fill="#000082"/>
<rect x="38.35" y="260.03" width="7.45" height="7.41" fill="#000096"/>
<rect x="45.80" y="260.03" width="7.45" height="7.41" fill="#00001e"/>
<rect x="53.25" y="260.03" width="7.45" height="7.41" fill="#00006e"/>
<rect x="60.70" y="260.03" width="7.45" height="7.41" fill="#00005a"/>
<rect x="68.15" y="260.03" width="7.45" height="7.41" fill="#0000a0"/>
<rect x="75.60" y="260.03" width="7.45" height="7.41" fill="#00003c"/>
<rect x="83.05" y="260.03" width="7.45" height="7.41" fill="#dcdc00"/>
<rect x="90.50" y="260.03" width="7.45" height="7.41" fill="#aaaa00"/>
<rect x="97.95" y="260.03" width="7.45" height="7.41" fill="#d2d200"/>
<rect x="105.40" y="260.03" width="7.45" height="7.41" fill="#464600"/>
<rect x="112.85" y="260.03" width="7.45" height="7.41" fill="#aaaa00"/>
<rect x="120.30" y="260.03" width="7.45" height="7.41" fill="#5a5a00"/>
<rect x="127.75" y="260.03" width="7.45" height="7.41" fill="#d2d200"/>
<rect x="135.20" y="260.03" width="7.45" height="7.41" fill="#bebe00"/>
<rect x="142.65" y="260.03" width="7.45" height="7.41" fill="#dcdc00"/>
<rect x="16.00" y="267.44" width="7.45" height="7.41" fill="#00008c"/>
<rect x="23.45" y="267.44" width="7.45" height="7.41" fill="#000028"/>
<rect x="30.90" y="267.44" width="7.45" height="7.41" fill="#00000a"/>
<rect x="38.35" y="267.44" width="7.45" height="7.41" fill="#000032"/>
<rect x="45.80" y="267.44" width="7.45" height="7.41" fill="#5a5a00"/>
<rect x="53.25" y="267.44" width="7.45" height="7.41" fill="#323200"/>
<rect x="60.70" y="267.44" width="7.45" height="7.41" fill="#323200"/>
<rect x="68.15" y="267.44" width="7.45" height="7.41" fill="#141400"/>
<rect x="75.60" y="267.44" width="7.45" height="7.41" fill="#282800"/>
<rect x="83.05" y="267.44" width="7.45" height="7.41" fill="#ffff00"/>
<rect x="90.50" y="267.44" width="7.45" height="7.41" fill="#969600"/>
<rect x="97.95" y="267.44" width="7.45" height="7.41" fill="#aaaa00"/>
<rect x="105.40" y="267.44" width="7.45" height="7.41" fill="#1e1e00"/>
<rect x="112.85" y="267.44" width="7.45" height="7.41" fill="#5a5a00"/>
<rect x="120.30" y="267.44" width="7.45" height="7.41" fill="#282800"/>
<rect x="127.75" y="267.44" width="7.45" height="7.41" fill="#000014"/>
<rect x="135.20" y="267.44" width="7.45" height="7.41" fill="#464600"/>
<rect x="142.65" y="267.44" width="7.45" height="7.41" fill="#141400"/>
<rect x="16.00" y="274.84" width="7.45" height="7.41" fill="#0000f0"/>
<rect x="23.45" y="274.84" width="7.45" height="7.41" fill="#0000d2"/>
<rect x="30.90" y="274.84" width="7.45" height="7.41" fill="#0000c8"/>
<rect x="38.35" y="274.84" width="7.45" height="7.41" fill="#0000d2"/>
<rect x="45.80" y="274.84" width="7.45" height="7.41" fill="#0000be"/>
<rect x="53.25" y="274.84" width="7.45" height="7.41" fill="#0000c8"/>
<rect x="60.70" y="274.84" width="7.45" height="7.41" fill="#000082"/>
<rect x="68.15" y="274.84" width="7.45" height="7.41" fill="#000078"/>
<rect x="75.60" y="274.84" width="7.45" height="7.41" fill="#00006e"/>
<rect x="83.05" y="274.84" width="7.45" height="7.41" fill="#0000d2"/>
<rect x="90.50" y="274.84" width="7.45" height="7.41" fill="#0000c8"/>
<rect x="97.95" y="274.84" width="7.45" height="7.41" fill="#0000c8"/>
<rect x="105.40" y="274.84" width="7.45" height="7.41" fill="#000082"/>
<rect x="112.85" y="274.84" width="7.45" height="7.41" fill="#0000aa"/>
<rect x="120.30" y="274.84" width="7.45" height="7.41" fill="#000096"/>
<rect x="127.75" y="274.84" width="7.45" height="7.41" fill="#ffff00"/>
<rect x="135.20" y="274.84" width="7.45" height="7.41" fill="#ffff00"/>
<rect x="142.65" y="274.84" width="7.45" height="7.41" fill="#ffff00"/>
<rect x="16.00" y="282.25" width="7.45" height="7.41" fill="#0000e6"/>
<rect x="23.45" y="282.25" width="7.45" height="7.41" fill="#0000a0"/>
<rect x="30.90" y="282.25" width="7.45" height="7.41" fill="#000096"/>
<rect x="38.35" y="282.25" width="7.45" height="7.41" fill="#0000a0"/>
<rect x="45.80" y="282.25" width="7.45" height="7.41" fill="#00006e"/>
<rect x="53.25" y="282.25" width="7.45" height="7.41" fill="#00008c"/>
<rect x="60.70" y="282.25" width="7.45" height="7.41" fill="#0000aa"/>
<rect x="68.15" y="282.25" width="7.45" height="7.41" fill="#0000b4"/>
<rect x="75.60" y="282.25" width="7.45" height="7.41" fill="#000078"/>
<rect x="83.05" y="282.25" width="7.45" height="7.41" fill="#000064"/>
<rect x="90.50" y="282.25" width="7.45" height="7.41" fill="#00005a"/>
<rect x="97.95" y="282.25" width="7.45" height="7.41" fill="#00005a"/>
<rect x="105.40" y="282.25" width="7.45" height="7.41" fill="#000046"/>
<rect x="112.85" y="282.25" width="7.45" height="7.41" fill="#323200"/>
<rect x="120.30" y="282.25" width="7.45" height="7.41" fill="#282800"/>
<rect x="127.75" y="282.25" width="7.45" height="7.41" fill="#505000"/>
<rect x="135.20" y="282.25" width="7.45" height="7.41" fill="#3c3c00"/>
<rect x="142.65" y="282.25" width="7.45" height="7.41" fill="#000000"/>
<rect x="16.00" y="289.65" width="7.45" height="7.41" fill="#aaaa00"/>
<rect x="23.45" y="289.65" width="7.45" height="7.41" fill="#00006e"/>
<rect x="30.90" y="289.65" width="7.45" height="7.41" fill="#000064"/>
<rect x="38.35" y="289.65" width="7.45" height="7.41" fill="#00003c"/>
<rect x="45.80" y="289.65" width="7.45" height="7.41" fill="#000096"/>
<rect x="53.25" y="289.65" width="7.45" height="7.41" fill="#000078"/>
<rect x="60.70" y="289.65" width="7.45" height="7.41" fill="#00005a"/>
<rect x="68.15" y="289.65" width="7.45" height="7.41" fill="#000064"/>
<rect x="75.60" y="289.65" width="7.45" height="7.41" fill="#000064"/>
<rect x="83.05" y="289.65" width="7.45" height="7.41" fill="#ffff00"/>
<rect x="90.50" y="289.65" width="7.45" height="7.41" fill="#ffff00"/>
<rect x="97.95" y="289.65" width="7.45" height="7.41" fill="#ffff00"/>
<rect x="105.40" y="289.65" width="7.45" height="7.41" fill="#ffff00"/>
<rect x="112.85" y="289.65" width="7.45" height="7.41" fill="#ffff00"/>
<rect x="120.30" y="289.65" width="7.45" height="7.41" fill="#ffff00"/>
<rect x="127.75" y="289.65" width="7.45" height="7.41" fill="#ffff00"/>
<rect x="135.20" y="289.65" width="7.45" height="7.41" fill="#ffff00"/>
<rect x="142.65" y="289.65" width="7.45" height="7.41" fill="#ffff00"/>
<rect x="16.00" y="297.06" width="7.45" height="7.41" fill="#0000e6"/>
<rect x="23.45" y="297.06" width="7.45" height="7.41" fill="#0000e6"/>
<rect x="30.90" y="297.06" width="7.45" height="7.41" fill="#0000e6"/>
<rect x="38.35" y="297.06" width="7.45" height="7.41" fill="#0000e6"/>
<rect x="45.80" y="297.06" width="7.45" height="7.41" fill="#0000e6"/>
<rect x="53.25" y="297.06" width="7.45" height="7.41" fill="#0000e6"/>
<rect x="60.70" y="297.06" width="7.45" height="7.41" fill="#0000e6"/>
<rect x="68.15" y="297.06" width="7.45" height="7.41" fill="#0000e6"/>
<rect x="75.60" y="297.06" width="7.45" height="7.41" fill="#0000e6"/>
<rect x="83.05" y="297.06" width="7.45" height="7.41" fill="#0000d2"/>
<rect x="90.50" y="297.06" width="7.45" height="7.41" fill="#0000d2"/>
<rect x="97.95" y="297.06" width="7.45" height="7.41" fill="#0000d2"/>
<rect x="105.40" y="297.06" width="7.45" height="7.41" fill="#0000d2"/>
<rect x="112.85" y="297.06" width="7.45" height="7.41" fill="#0000d2"/>
<rect x="120.30" y="297.06" width="7.45" height="7.41" fill="#0000d2"/>
<rect x="127.75" y="297.06" width="7.45" height="7.41" fill="#0000d2"/>
<rect x="135.20" y="297.06" width="7.45" height="7.41" fill="#0000d2"/>
<rect x="142.65" y="297.06" width="7.45" height="7.41" fill="#0000d2"/>
<rect x="16.00" y="304.46" width="7.45" height="7.41" fill="#000000"/>
<rect x="23.45" y="304.46" width="7.45" height="7.41" fill="#00005a"/>
<rect x="30.90" y="304.46" width="7.45" height="7.41" fill="#000064"/>
<rect x="38.35" y="304.46" width="7.45" height="7.41" fill="#000050"/>
<rect x="45.80" y="304.46" width="7.45" height="7.41" fill="#00008c"/>
<rect x="53.25" y="304.46" width="7.45" height="7.41" fill="#000082"/>
<rect x="60.70" y="304.46" width="7.45" height="7.41" fill="#000078"/>
<rect x="68.15" y="304.46" width="7.45" height="7.41" fill="#000082"/>
<rect x="75.60" y="304.46" width="7.45" height="7.41" fill="#00006e"/>
<rect x="83.05" y="304.46" width="7.45" height="7.41" fill="#0000b4"/>
<rect x="90.50" y="304.46" width="7.45" height="7.41" fill="#0000b4"/>
<rect x="97.95" y="304.46" width="7.45" height="7.41" fill="#0000b4"/>
<rect x="105.40" y="304.46" width="7.45" height="7.41" fill="#0000be"/>
<rect x="112.85" y="304.46" width="7.45" height="7.41" fill="#0000be"/>
<rect x="120.30" y="304.46" width="7.45" height="7.41" fill="#0000be"/>
<rect x="127.75" y="304.46" width="7.45" height="7.41" fill="#0000aa"/>
<rect x="135.20" y="304.46" width="7.45" height="7.41" fill="#0000aa"/>
<rect x="142.65" y="304.46" width="7.45" height="7.41" fill="#0000aa"/>
<rect x="16.00" y="311.87" width="7.45" height="7.41" fill="#0000be"/>
<rect x="23.45" y="311.87" width="7.45" height="7.41" fill="#0000dc"/>
<rect x="30.90" y="311.87" width="7.45" height="7.41" fill="#0000c8"/>
<rect x="38.35" y="311.87" width="7.45" height="7.41" fill="#0000e6"/>
<rect x="45.80" y="311.87" width="7.45" height="7.41" fill="#0000e6"/>
<rect x="53.25" y="311.87" width="7.45" height="7.41" fill="#0000e6"/>
<rect x="60.70" y="311.87" width="7.45" height="7.41" fill="#0000e6"/>
<rect x="68.15" y="311.87" width="7.45" height="7.41" fill="#0000e6"/>
<rect x="75.60" y="311.87" width="7.45" height="7.41" fill="#0000e6"/>
<rect x="83.05" y="311.87" width="7.45" height="7.41" fill="#0000aa"/>
<rect x="90.50" y="311.87" width="7.45" height="7.41" fill="#0000a0"/>
<rect x="97.95" y="311.87" width="7.45" height="7.41" fill="#000096"/>
<rect x="105.40" y="311.87" width="7.45" height="7.41" fill="#0000dc"/>
<rect x="112.85" y="311.87" width="7.45" height="7.41" fill="#0000d2"/>
<rect x="120.30" y="311.87" width="7.45" height="7.41" fill="#0000c8"/>
<rect x="127.75" y="311.87" width="7.45" height="7.41" fill="#0000e6"/>
<rect x="135.20" y="311.87" width="7.45" height="7.41" fill="#0000e6"/>
<rect x="142.65" y="311.87" width="7.45" height="7.41" fill="#0000e6"/>
<rect x="16.00" y="319.27" width="7.45" height="7.41" fill="#0a0a00"/>
<rect x="23.45" y="319.27" width="7.45" height="7.41" fill="#ffff00"/>
<rect x="30.90" y="319.27" width="7.45" height="7.41" fill="#ffff00"/>
<rect x="38.35" y="319.27" width="7.45" height="7.41" fill="#8c8c00"/>
<rect x="45.80" y="319.27" width="7.45" height="7.41" fill="#ffff00"/>
<rect x="53.25" y="319.27" width="7.45" height="7.41" fill="#ffff00"/>
<rect x="60.70" y="319.27" width="7.45" height="7.41" fill="#8c8c00"/>
<rect x="68.15" y="319.27" width="7.45" height="7.41" fill="#6e6e00"/>
<rect x="75.60" y="319.27" width="7.45" height="7.41" fill="#dcdc00"/>
<rect x="83.05" y="319.27" width="7.45" height="7.41" fill="#ffff00"/>
<rect x="90.50" y="319.27" width="7.45" height="7.41" fill="#ffff00"/>
<rect x="97.95" y="319.27" width="7.45" height="7.41" fill="#ffff00"/>
<rect x="105.40" y="319.27" width="7.45" height="7.41" fill="#ffff00"/>
<rect x="112.85" y="319.27" width="7.45" height="7.41" fill="#ffff00"/>
<rect x="120.30" y="319.27" width="7.45" height="7.41" fill="#ffff00"/>
<rect x="127.75" y="319.27" width="7.45" height="7.41" fill="#ffff00"/>
<rect x="135.20" y="319.27" width="7.45" height="7.41" fill="#ffff00"/>
<rect x="142.65" y="319.27" width="7.45" height="7.41" fill="#ffff00"/>
<rect x="16.00" y="326.68" width="7.45" height="7.41" fill="#000096"/>
<rect x="23.45" y="326.68" width="7.45" height="7.41" fill="#000078"/>
<rect x="30.90" y="326.68" width="7.45" height="7.41" fill="#000082"/>
<rect x="38.35" y="326.68" width="7.45" height="7.41" fill="#000096"/>
<rect x="45.80" y="326.68" width="7.45" height="7.41" fill="#000078"/>
<rect x="53.25" y="326.68" width="7.45" height="7.41" fill="#000082"/>
<rect x="60.70" y="326.68" width="7.45" height="7.41" fill="#00003c"/>
<rect x="68.15" y="326.68" width="7.45" height="7.41" fill="#000032"/>
<rect x="75.60" y="326.68" width="7.45" height="7.41" fill="#00001e"/>
<rect x="83.05" y="326.68" width="7.45" height="7.41" fill="#ffff00"/>
<rect x="90.50" y="326.68" width="7.45" height="7.41" fill="#ffff00"/>
<rect x="97.95" y="326.68" width="7.45" height="7.41" fill="#ffff00"/>
<rect x="105.40" y="326.68" width="7.45" height="7.41" fill="#ffff00"/>
<rect x="112.85" y="326.68" width="7.45" height="7.41" fill="#ffff00"/>
<rect x="120.30" y="326.68" width="7.45" height="7.41" fill="#ffff00"/>
<rect x="127.75" y="326.68" width="7.45" height="7.41" fill="#ffff00"/>
<rect x="135.20" y="326.68" width="7.45" height="7.41" fill="#ffff00"/>
<rect x="142.65" y="326.68" width="7.45" height="7.41" fill="#ffff00"/>
</g>
<g stroke="#000" stroke-opacity="0.55" stroke-width="0.5">
<line x1="16.00" y1="67.50" x2="150.10" y2="67.50"/>
<line x1="16.00" y1="74.91" x2="150.10" y2="74.91"/>
<line x1="16.00" y1="82.31" x2="150.10" y2="82.31"/>
<line x1="16.00" y1="89.72" x2="150.10" y2="89.72"/>
<line x1="16.00" y1="97.12" x2="150.10" y2="97.12"/>
<line x1="16.00" y1="104.53" x2="150.10" y2="104.53"/>
<line x1="16.00" y1="111.93" x2="150.10" y2="111.93"/>
<line x1="16.00" y1="119.34" x2="150.10" y2="119.34"/>
<line x1="16.00" y1="126.74" x2="150.10" y2="126.74"/>
<line x1="16.00" y1="134.14" x2="150.10" y2="134.14"/>
<line x1="16.00" y1="141.55" x2="150.10" y2="141.55"/>
<line x1="16.00" y1="148.95" x2="150.10" y2="148.95"/>
<line x1="16.00" y1="156.36" x2="150.10" y2="156.36"/>
<line x1="16.00" y1="163.76" x2="150.10" y2="163.76"/>
<line x1="16.00" y1="171.17" x2="150.10" y2="171.17"/>
<line x1="16.00" y1="178.57" x2="150.10" y2="178.57"/>
<line x1="16.00" y1="185.98" x2="150.10" y2="185.98"/>
<line x1="16.00" y1="193.38" x2="150.10" y2="193.38"/>
<line x1="16.00" y1="200.79" x2="150.10" y2="200.79"/>
<line x1="16.00" y1="208.19" x2="150.10" y2="208.19"/>
<line x1="16.00" y1="215.60" x2="150.10" y2="215.60"/>
<line x1="16.00" y1="223.00" x2="150.10" y2="223.00"/>
<line x1="16.00" y1="230.41" x2="150.10" y2="230.41"/>
<line x1="16.00" y1="237.81" x2="150.10" y2="237.81"/>
<line x1="16.00" y1="245.22" x2="150.10" y2="245.22"/>
<line x1="16.00" y1="252.62" x2="150.10" y2="252.62"/>
<line x1="16.00" y1="260.03" x2="150.10" y2="260.03"/>
<line x1="16.00" y1="267.44" x2="150.10" y2="267.44"/>
<line x1="16.00" y1="274.84" x2="150.10" y2="274.84"/>
<line x1="16.00" y1="282.25" x2="150.10" y2="282.25"/>
<line x1="16.00" y1="289.65" x2="150.10" y2="289.65"/>
<line x1="16.00" y1="297.06" x2="150.10" y2="297.06"/>
<line x1="16.00" y1="304.46" x2="150.10" y2="304.46"/>
<line x1="16.00" y1="311.87" x2="150.10" y2="311.87"/>
<line x1="16.00" y1="319.27" x2="150.10" y2="319.27"/>
<line x1="16.00" y1="326.68" x2="150.10" y2="326.68"/>
<line x1="16.00" y1="334.08" x2="150.10" y2="334.08"/>
<line x1="16.00" y1="67.50" x2="16.00" y2="334.08"/>
<line x1="23.45" y1="67.50" x2="23.45" y2="334.08"/>
<line x1="30.90" y1="67.50" x2="30.90" y2="334.08"/>
<line x1="38.35" y1="67.50" x2="38.35" y2="334.08"/>
<line x1="45.80" y1="67.50" x2="45.80" y2="334.08"/>
<line x1="53.25" y1="67.50" x2="53.25" y2="334.08"/>
<line x1="60.70" y1="67.50" x2="60.70" y2="334.08"/>
<line x1="68.15" y1="67.50" x2="68.15" y2="334.08"/>
<line x1="75.60" y1="67.50" x2="75.60" y2="334.08"/>
<line x1="83.05" y1="67.50" x2="83.05" y2="334.08"/>
<line x1="90.50" y1="67.50" x2="90.50" y2="334.08"/>
<line x1="97.95" y1="67.50" x2="97.95" y2="334.08"/>
<line x1="105.40" y1="67.50" x2="105.40" y2="334.08"/>
<line x1="112.85" y1="67.50" x2="112.85" y2="334.08"/>
<line x1="120.30" y1="67.50" x2="120.30" y2="334.08"/>
<line x1="127.75" y1="67.50" x2="127.75" y2="334.08"/>
<line x1="135.20" y1="67.50" x2="135.20" y2="334.08"/>
<line x1="142.65" y1="67.50" x2="142.65" y2="334.08"/>
<line x1="150.10" y1="67.50" x2="150.10" y2="334.08"/>
</g>
<g font-size="7.5" fill="#000">
<text x="151.40" y="74.65">ASH1I</text>
<text x="151.40" y="82.06">DNMT1</text>
<text x="151.40" y="89.46">DNMT3A</text>
<text x="151.40" y="96.87">DOT1I</text>
<text x="151.40" y="104.27">EHMT2</text>
<text x="151.40" y="111.68">HDAC1</text>
<text x="151.40" y="119.08">HDAC2</text>
<text x="151.40" y="126.49">HDAC3</text>
<text x="151.40" y="133.89">HDAC5</text>
<text x="151.40" y="141.30">HDAC6</text>
<text x="151.40" y="148.70">HDAC8</text>
<text x="151.40" y="156.11">HDAC9</text>
<text x="151.40" y="163.51">KDM1A</text>
<text x="151.40" y="170.92">KDM2A</text>
<text x="151.40" y="178.32">KDM2B</text>
<text x="151.40" y="185.73">KDM3A</text>
<text x="151.40" y="193.13">KDM3B</text>
<text x="151.40" y="200.54">KDM4A</text>
<text x="151.40" y="207.94">KDM5A</text>
<text x="151.40" y="215.35">KDM5C</text>
<text x="151.40" y="222.75">KDM6A</text>
<text x="151.40" y="230.16">MLL4</text>
<text x="151.40" y="237.56">NSD2</text>
<text x="151.40" y="244.97">NSD3</text>
<text x="151.40" y="252.37">SETD2</text>
<text x="151.40" y="259.78">SETD3</text>
<text x="151.40" y="267.18">SETD5</text>
<text x="151.40" y="274.59">SETDB1</text>
<text x="151.40" y="281.99">SETDB2</text>
<text x="151.40" y="289.40">SIRT1</text>
<text x="151.40" y="296.80">SIRT2</text>
<text x="151.40" y="304.21">SIRT6</text>
<text x="151.40" y="311.61">SUV39H1</text>
<text x="151.40" y="319.02">SUV420H2</text>
<text x="151.40" y="326.42">WHSC1</text>
<text x="151.40" y="333.83">WHSC1I1</text>
</g>
<g font-size="7.8" font-weight="bold" fill="#000" text-anchor="start" style="white-space:pre">
<text transform="translate(26.00,65.60) rotate(-37)">Cont_BV2</text>
<text transform="translate(49.00,65.60) rotate(-37)">LPS 2h_BV2</text>
<text transform="translate(73.30,65.60) rotate(-37)">LPS 4 h_BV2</text>
<text transform="translate(95.60,65.60) rotate(-37)">Cont_PM</text>
<text transform="translate(118.00,65.60) rotate(-37)">LPS 2 h_PM</text>
<text transform="translate(139.00,65.60) rotate(-37)">LPS 4 h_PM</text>
</g>
<text x="10.60" y="381.50" font-size="19.6" font-weight="bold" text-anchor="start" fill="#000" >e</text>
<g shape-rendering="crispEdges">
<rect x="40.30" y="385.30" width="126.90" height="284.20" fill="#000"/>
<rect x="40.30" y="385.30" width="7.05" height="7.11" fill="#000050"/>
<rect x="47.35" y="385.30" width="7.05" height="7.11" fill="#0000a0"/>
<rect x="54.40" y="385.30" width="7.05" height="7.11" fill="#0000aa"/>
<rect x="61.45" y="385.30" width="7.05" height="7.11" fill="#6e6e00"/>
<rect x="68.50" y="385.30" width="7.05" height="7.11" fill="#5a5a00"/>
<rect x="75.55" y="385.30" width="7.05" height="7.11" fill="#5a5a00"/>
<rect x="82.60" y="385.30" width="7.05" height="7.11" fill="#787800"/>
<rect x="89.65" y="385.30" width="7.05" height="7.11" fill="#787800"/>
<rect x="96.70" y="385.30" width="7.05" height="7.11" fill="#828200"/>
<rect x="103.75" y="385.30" width="7.05" height="7.11" fill="#000096"/>
<rect x="110.80" y="385.30" width="7.05" height="7.11" fill="#00008c"/>
<rect x="117.85" y="385.30" width="7.05" height="7.11" fill="#0000a0"/>
<rect x="124.90" y="385.30" width="7.05" height="7.11" fill="#828200"/>
<rect x="131.95" y="385.30" width="7.05" height="7.11" fill="#787800"/>
<rect x="139.00" y="385.30" width="7.05" height="7.11" fill="#828200"/>
<rect x="146.05" y="385.30" width="7.05" height="7.11" fill="#ffff00"/>
<rect x="153.10" y="385.30" width="7.05" height="7.11" fill="#ffff00"/>
<rect x="160.15" y="385.30" width="7.05" height="7.11" fill="#ffff00"/>
<rect x="40.30" y="392.41" width="7.05" height="7.11" fill="#0000f0"/>
<rect x="47.35" y="392.41" width="7.05" height="7.11" fill="#0000b4"/>
<rect x="54.40" y="392.41" width="7.05" height="7.11" fill="#0000c8"/>
<rect x="61.45" y="392.41" width="7.05" height="7.11" fill="#0000d2"/>
<rect x="68.50" y="392.41" width="7.05" height="7.11" fill="#0000b4"/>
<rect x="75.55" y="392.41" width="7.05" height="7.11" fill="#0000be"/>
<rect x="82.60" y="392.41" width="7.05" height="7.11" fill="#0000b4"/>
<rect x="89.65" y="392.41" width="7.05" height="7.11" fill="#0000aa"/>
<rect x="96.70" y="392.41" width="7.05" height="7.11" fill="#000046"/>
<rect x="103.75" y="392.41" width="7.05" height="7.11" fill="#0000c8"/>
<rect x="110.80" y="392.41" width="7.05" height="7.11" fill="#0000be"/>
<rect x="117.85" y="392.41" width="7.05" height="7.11" fill="#0000be"/>
<rect x="124.90" y="392.41" width="7.05" height="7.11" fill="#000064"/>
<rect x="131.95" y="392.41" width="7.05" height="7.11" fill="#00006e"/>
<rect x="139.00" y="392.41" width="7.05" height="7.11" fill="#00005a"/>
<rect x="146.05" y="392.41" width="7.05" height="7.11" fill="#e6e600"/>
<rect x="153.10" y="392.41" width="7.05" height="7.11" fill="#ffff00"/>
<rect x="160.15" y="392.41" width="7.05" height="7.11" fill="#ffff00"/>
<rect x="40.30" y="399.51" width="7.05" height="7.11" fill="#0000d2"/>
<rect x="47.35" y="399.51" width="7.05" height="7.11" fill="#0000d2"/>
<rect x="54.40" y="399.51" width="7.05" height="7.11" fill="#0000f0"/>
<rect x="61.45" y="399.51" width="7.05" height="7.11" fill="#0000e6"/>
<rect x="68.50" y="399.51" width="7.05" height="7.11" fill="#0000c8"/>
<rect x="75.55" y="399.51" width="7.05" height="7.11" fill="#0000d2"/>
<rect x="82.60" y="399.51" width="7.05" height="7.11" fill="#0000be"/>
<rect x="89.65" y="399.51" width="7.05" height="7.11" fill="#0000aa"/>
<rect x="96.70" y="399.51" width="7.05" height="7.11" fill="#00001e"/>
<rect x="103.75" y="399.51" width="7.05" height="7.11" fill="#0000dc"/>
<rect x="110.80" y="399.51" width="7.05" height="7.11" fill="#0000c8"/>
<rect x="117.85" y="399.51" width="7.05" height="7.11" fill="#0000d2"/>
<rect x="124.90" y="399.51" width="7.05" height="7.11" fill="#000000"/>
<rect x="131.95" y="399.51" width="7.05" height="7.11" fill="#00001e"/>
<rect x="139.00" y="399.51" width="7.05" height="7.11" fill="#00001e"/>
<rect x="146.05" y="399.51" width="7.05" height="7.11" fill="#ffff00"/>
<rect x="153.10" y="399.51" width="7.05" height="7.11" fill="#ffff00"/>
<rect x="160.15" y="399.51" width="7.05" height="7.11" fill="#ffff00"/>
<rect x="40.30" y="406.62" width="7.05" height="7.11" fill="#0000b4"/>
<rect x="47.35" y="406.62" width="7.05" height="7.11" fill="#0000aa"/>
<rect x="54.40" y="406.62" width="7.05" height="7.11" fill="#0000b4"/>
<rect x="61.45" y="406.62" width="7.05" height="7.11" fill="#0000c8"/>
<rect x="68.50" y="406.62" width="7.05" height="7.11" fill="#0000aa"/>
<rect x="75.55" y="406.62" width="7.05" height="7.11" fill="#0000b4"/>
<rect x="82.60" y="406.62" width="7.05" height="7.11" fill="#0000aa"/>
<rect x="89.65" y="406.62" width="7.05" height="7.11" fill="#0000a0"/>
<rect x="96.70" y="406.62" width="7.05" height="7.11" fill="#000096"/>
<rect x="103.75" y="406.62" width="7.05" height="7.11" fill="#000082"/>
<rect x="110.80" y="406.62" width="7.05" height="7.11" fill="#000078"/>
<rect x="117.85" y="406.62" width="7.05" height="7.11" fill="#000082"/>
<rect x="124.90" y="406.62" width="7.05" height="7.11" fill="#0000a0"/>
<rect x="131.95" y="406.62" width="7.05" height="7.11" fill="#000096"/>
<rect x="139.00" y="406.62" width="7.05" height="7.11" fill="#00008c"/>
<rect x="146.05" y="406.62" width="7.05" height="7.11" fill="#323200"/>
<rect x="153.10" y="406.62" width="7.05" height="7.11" fill="#505000"/>
<rect x="160.15" y="406.62" width="7.05" height="7.11" fill="#3c3c00"/>
<rect x="40.30" y="413.72" width="7.05" height="7.11" fill="#0000dc"/>
<rect x="47.35" y="413.72" width="7.05" height="7.11" fill="#0000b4"/>
<rect x="54.40" y="413.72" width="7.05" height="7.11" fill="#0000aa"/>
<rect x="61.45" y="413.72" width="7.05" height="7.11" fill="#0000b4"/>
<rect x="68.50" y="413.72" width="7.05" height="7.11" fill="#000000"/>
<rect x="75.55" y="413.72" width="7.05" height="7.11" fill="#000050"/>
<rect x="82.60" y="413.72" width="7.05" height="7.11" fill="#00001e"/>
<rect x="89.65" y="413.72" width="7.05" height="7.11" fill="#0a0a00"/>
<rect x="96.70" y="413.72" width="7.05" height="7.11" fill="#464600"/>
<rect x="103.75" y="413.72" width="7.05" height="7.11" fill="#0000c8"/>
<rect x="110.80" y="413.72" width="7.05" height="7.11" fill="#0000be"/>
<rect x="117.85" y="413.72" width="7.05" height="7.11" fill="#0000b4"/>
<rect x="124.90" y="413.72" width="7.05" height="7.11" fill="#000028"/>
<rect x="131.95" y="413.72" width="7.05" height="7.11" fill="#00001e"/>
<rect x="139.00" y="413.72" width="7.05" height="7.11" fill="#000046"/>
<rect x="146.05" y="413.72" width="7.05" height="7.11" fill="#aaaa00"/>
<rect x="153.10" y="413.72" width="7.05" height="7.11" fill="#a0a000"/>
<rect x="160.15" y="413.72" width="7.05" height="7.11" fill="#dcdc00"/>
<rect x="40.30" y="420.83" width="7.05" height="7.11" fill="#0000be"/>
<rect x="47.35" y="420.83" width="7.05" height="7.11" fill="#0000e6"/>
<rect x="54.40" y="420.83" width="7.05" height="7.11" fill="#0000fa"/>
<rect x="61.45" y="420.83" width="7.05" height="7.11" fill="#00005a"/>
<rect x="68.50" y="420.83" width="7.05" height="7.11" fill="#000096"/>
<rect x="75.55" y="420.83" width="7.05" height="7.11" fill="#000050"/>
<rect x="82.60" y="420.83" width="7.05" height="7.11" fill="#000032"/>
<rect x="89.65" y="420.83" width="7.05" height="7.11" fill="#000028"/>
<rect x="96.70" y="420.83" width="7.05" height="7.11" fill="#000032"/>
<rect x="103.75" y="420.83" width="7.05" height="7.11" fill="#0000c8"/>
<rect x="110.80" y="420.83" width="7.05" height="7.11" fill="#0000aa"/>
<rect x="117.85" y="420.83" width="7.05" height="7.11" fill="#0000b4"/>
<rect x="124.90" y="420.83" width="7.05" height="7.11" fill="#828200"/>
<rect x="131.95" y="420.83" width="7.05" height="7.11" fill="#505000"/>
<rect x="139.00" y="420.83" width="7.05" height="7.11" fill="#8c8c00"/>
<rect x="146.05" y="420.83" width="7.05" height="7.11" fill="#ffff00"/>
<rect x="153.10" y="420.83" width="7.05" height="7.11" fill="#ffff00"/>
<rect x="160.15" y="420.83" width="7.05" height="7.11" fill="#ffff00"/>
<rect x="40.30" y="427.93" width="7.05" height="7.11" fill="#000078"/>
<rect x="47.35" y="427.93" width="7.05" height="7.11" fill="#00003c"/>
<rect x="54.40" y="427.93" width="7.05" height="7.11" fill="#00001e"/>
<rect x="61.45" y="427.93" width="7.05" height="7.11" fill="#323200"/>
<rect x="68.50" y="427.93" width="7.05" height="7.11" fill="#5a5a00"/>
<rect x="75.55" y="427.93" width="7.05" height="7.11" fill="#3c3c00"/>
<rect x="82.60" y="427.93" width="7.05" height="7.11" fill="#646400"/>
<rect x="89.65" y="427.93" width="7.05" height="7.11" fill="#828200"/>
<rect x="96.70" y="427.93" width="7.05" height="7.11" fill="#6e6e00"/>
<rect x="103.75" y="427.93" width="7.05" height="7.11" fill="#dcdc00"/>
<rect x="110.80" y="427.93" width="7.05" height="7.11" fill="#ffff00"/>
<rect x="117.85" y="427.93" width="7.05" height="7.11" fill="#ffff00"/>
<rect x="124.90" y="427.93" width="7.05" height="7.11" fill="#ffff00"/>
<rect x="131.95" y="427.93" width="7.05" height="7.11" fill="#ffff00"/>
<rect x="139.00" y="427.93" width="7.05" height="7.11" fill="#ffff00"/>
<rect x="146.05" y="427.93" width="7.05" height="7.11" fill="#ffff00"/>
<rect x="153.10" y="427.93" width="7.05" height="7.11" fill="#ffff00"/>
<rect x="160.15" y="427.93" width="7.05" height="7.11" fill="#ffff00"/>
<rect x="40.30" y="435.04" width="7.05" height="7.11" fill="#0000aa"/>
<rect x="47.35" y="435.04" width="7.05" height="7.11" fill="#00008c"/>
<rect x="54.40" y="435.04" width="7.05" height="7.11" fill="#00006e"/>
<rect x="61.45" y="435.04" width="7.05" height="7.11" fill="#ffff00"/>
<rect x="68.50" y="435.04" width="7.05" height="7.11" fill="#ffff00"/>
<rect x="75.55" y="435.04" width="7.05" height="7.11" fill="#ffff00"/>
<rect x="82.60" y="435.04" width="7.05" height="7.11" fill="#ffff00"/>
<rect x="89.65" y="435.04" width="7.05" height="7.11" fill="#ffff00"/>
<rect x="96.70" y="435.04" width="7.05" height="7.11" fill="#ffff00"/>
<rect x="103.75" y="435.04" width="7.05" height="7.11" fill="#0000f0"/>
<rect x="110.80" y="435.04" width="7.05" height="7.11" fill="#0000e6"/>
<rect x="117.85" y="435.04" width="7.05" height="7.11" fill="#0000e6"/>
<rect x="124.90" y="435.04" width="7.05" height="7.11" fill="#ffff00"/>
<rect x="131.95" y="435.04" width="7.05" height="7.11" fill="#ffff00"/>
<rect x="139.00" y="435.04" width="7.05" height="7.11" fill="#ffff00"/>
<rect x="146.05" y="435.04" width="7.05" height="7.11" fill="#ffff00"/>
<rect x="153.10" y="435.04" width="7.05" height="7.11" fill="#ffff00"/>
<rect x="160.15" y="435.04" width="7.05" height="7.11" fill="#ffff00"/>
<rect x="40.30" y="442.14" width="7.05" height="7.11" fill="#0000dc"/>
<rect x="47.35" y="442.14" width="7.05" height="7.11" fill="#000000"/>
<rect x="54.40" y="442.14" width="7.05" height="7.11" fill="#00003c"/>
<rect x="61.45" y="442.14" width="7.05" height="7.11" fill="#0000aa"/>
<rect x="68.50" y="442.14" width="7.05" height="7.11" fill="#6e6e00"/>
<rect x="75.55" y="442.14" width="7.05" height="7.11" fill="#000000"/>
<rect x="82.60" y="442.14" width="7.05" height="7.11" fill="#000032"/>
<rect x="89.65" y="442.14" width="7.05" height="7.11" fill="#1e1e00"/>
<rect x="96.70" y="442.14" width="7.05" height="7.11" fill="#646400"/>
<rect x="103.75" y="442.14" width="7.05" height="7.11" fill="#0000e6"/>
<rect x="110.80" y="442.14" width="7.05" height="7.11" fill="#0000be"/>
<rect x="117.85" y="442.14" width="7.05" height="7.11" fill="#0000aa"/>
<rect x="124.90" y="442.14" width="7.05" height="7.11" fill="#282800"/>
<rect x="131.95" y="442.14" width="7.05" height="7.11" fill="#1e1e00"/>
<rect x="139.00" y="442.14" width="7.05" height="7.11" fill="#282800"/>
<rect x="146.05" y="442.14" width="7.05" height="7.11" fill="#8c8c00"/>
<rect x="153.10" y="442.14" width="7.05" height="7.11" fill="#828200"/>
<rect x="160.15" y="442.14" width="7.05" height="7.11" fill="#8c8c00"/>
<rect x="40.30" y="449.25" width="7.05" height="7.11" fill="#0000fa"/>
<rect x="47.35" y="449.25" width="7.05" height="7.11" fill="#0000aa"/>
<rect x="54.40" y="449.25" width="7.05" height="7.11" fill="#000082"/>
<rect x="61.45" y="449.25" width="7.05" height="7.11" fill="#000096"/>
<rect x="68.50" y="449.25" width="7.05" height="7.11" fill="#000082"/>
<rect x="75.55" y="449.25" width="7.05" height="7.11" fill="#000050"/>
<rect x="82.60" y="449.25" width="7.05" height="7.11" fill="#00005a"/>
<rect x="89.65" y="449.25" width="7.05" height="7.11" fill="#000028"/>
<rect x="96.70" y="449.25" width="7.05" height="7.11" fill="#00001e"/>
<rect x="103.75" y="449.25" width="7.05" height="7.11" fill="#00003c"/>
<rect x="110.80" y="449.25" width="7.05" height="7.11" fill="#0000a0"/>
<rect x="117.85" y="449.25" width="7.05" height="7.11" fill="#0000aa"/>
<rect x="124.90" y="449.25" width="7.05" height="7.11" fill="#000046"/>
<rect x="131.95" y="449.25" width="7.05" height="7.11" fill="#000032"/>
<rect x="139.00" y="449.25" width="7.05" height="7.11" fill="#00006e"/>
<rect x="146.05" y="449.25" width="7.05" height="7.11" fill="#aaaa00"/>
<rect x="153.10" y="449.25" width="7.05" height="7.11" fill="#a0a000"/>
<rect x="160.15" y="449.25" width="7.05" height="7.11" fill="#aaaa00"/>
<rect x="40.30" y="456.35" width="7.05" height="7.11" fill="#0000f0"/>
<rect x="47.35" y="456.35" width="7.05" height="7.11" fill="#0000dc"/>
<rect x="54.40" y="456.35" width="7.05" height="7.11" fill="#0000dc"/>
<rect x="61.45" y="456.35" width="7.05" height="7.11" fill="#0000e6"/>
<rect x="68.50" y="456.35" width="7.05" height="7.11" fill="#0000dc"/>
<rect x="75.55" y="456.35" width="7.05" height="7.11" fill="#0000dc"/>
<rect x="82.60" y="456.35" width="7.05" height="7.11" fill="#000082"/>
<rect x="89.65" y="456.35" width="7.05" height="7.11" fill="#00008c"/>
<rect x="96.70" y="456.35" width="7.05" height="7.11" fill="#000078"/>
<rect x="103.75" y="456.35" width="7.05" height="7.11" fill="#0000f0"/>
<rect x="110.80" y="456.35" width="7.05" height="7.11" fill="#0000dc"/>
<rect x="117.85" y="456.35" width="7.05" height="7.11" fill="#0000d2"/>
<rect x="124.90" y="456.35" width="7.05" height="7.11" fill="#0000c8"/>
<rect x="131.95" y="456.35" width="7.05" height="7.11" fill="#0000be"/>
<rect x="139.00" y="456.35" width="7.05" height="7.11" fill="#0000aa"/>
<rect x="146.05" y="456.35" width="7.05" height="7.11" fill="#aaaa00"/>
<rect x="153.10" y="456.35" width="7.05" height="7.11" fill="#bebe00"/>
<rect x="160.15" y="456.35" width="7.05" height="7.11" fill="#aaaa00"/>
<rect x="40.30" y="463.46" width="7.05" height="7.11" fill="#0000aa"/>
<rect x="47.35" y="463.46" width="7.05" height="7.11" fill="#0000dc"/>
<rect x="54.40" y="463.46" width="7.05" height="7.11" fill="#0000d2"/>
<rect x="61.45" y="463.46" width="7.05" height="7.11" fill="#0000dc"/>
<rect x="68.50" y="463.46" width="7.05" height="7.11" fill="#0000d2"/>
<rect x="75.55" y="463.46" width="7.05" height="7.11" fill="#0000be"/>
<rect x="82.60" y="463.46" width="7.05" height="7.11" fill="#00008c"/>
<rect x="89.65" y="463.46" width="7.05" height="7.11" fill="#000096"/>
<rect x="96.70" y="463.46" width="7.05" height="7.11" fill="#000082"/>
<rect x="103.75" y="463.46" width="7.05" height="7.11" fill="#0000f0"/>
<rect x="110.80" y="463.46" width="7.05" height="7.11" fill="#0000dc"/>
<rect x="117.85" y="463.46" width="7.05" height="7.11" fill="#0000d2"/>
<rect x="124.90" y="463.46" width="7.05" height="7.11" fill="#0000e6"/>
<rect x="131.95" y="463.46" width="7.05" height="7.11" fill="#0000d2"/>
<rect x="139.00" y="463.46" width="7.05" height="7.11" fill="#0000dc"/>
<rect x="146.05" y="463.46" width="7.05" height="7.11" fill="#0000a0"/>
<rect x="153.10" y="463.46" width="7.05" height="7.11" fill="#0000aa"/>
<rect x="160.15" y="463.46" width="7.05" height="7.11" fill="#0000a0"/>
<rect x="40.30" y="470.56" width="7.05" height="7.11" fill="#0000c8"/>
<rect x="47.35" y="470.56" width="7.05" height="7.11" fill="#0000e6"/>
<rect x="54.40" y="470.56" width="7.05" height="7.11" fill="#0000e6"/>
<rect x="61.45" y="470.56" width="7.05" height="7.11" fill="#000078"/>
<rect x="68.50" y="470.56" width="7.05" height="7.11" fill="#00006e"/>
<rect x="75.55" y="470.56" width="7.05" height="7.11" fill="#000078"/>
<rect x="82.60" y="470.56" width="7.05" height="7.11" fill="#00001e"/>
<rect x="89.65" y="470.56" width="7.05" height="7.11" fill="#000078"/>
<rect x="96.70" y="470.56" width="7.05" height="7.11" fill="#00005a"/>
<rect x="103.75" y="470.56" width="7.05" height="7.11" fill="#0000e6"/>
<rect x="110.80" y="470.56" width="7.05" height="7.11" fill="#0000dc"/>
<rect x="117.85" y="470.56" width="7.05" height="7.11" fill="#0000d2"/>
<rect x="124.90" y="470.56" width="7.05" height="7.11" fill="#ffff00"/>
<rect x="131.95" y="470.56" width="7.05" height="7.11" fill="#ffff00"/>
<rect x="139.00" y="470.56" width="7.05" height="7.11" fill="#ffff00"/>
<rect x="146.05" y="470.56" width="7.05" height="7.11" fill="#ffff00"/>
<rect x="153.10" y="470.56" width="7.05" height="7.11" fill="#ffff00"/>
<rect x="160.15" y="470.56" width="7.05" height="7.11" fill="#ffff00"/>
<rect x="40.30" y="477.67" width="7.05" height="7.11" fill="#0000e6"/>
<rect x="47.35" y="477.67" width="7.05" height="7.11" fill="#0000f0"/>
<rect x="54.40" y="477.67" width="7.05" height="7.11" fill="#0000f0"/>
<rect x="61.45" y="477.67" width="7.05" height="7.11" fill="#0000dc"/>
<rect x="68.50" y="477.67" width="7.05" height="7.11" fill="#0000dc"/>
<rect x="75.55" y="477.67" width="7.05" height="7.11" fill="#0000dc"/>
<rect x="82.60" y="477.67" width="7.05" height="7.11" fill="#0000dc"/>
<rect x="89.65" y="477.67" width="7.05" height="7.11" fill="#0000dc"/>
<rect x="96.70" y="477.67" width="7.05" height="7.11" fill="#0000dc"/>
<rect x="103.75" y="477.67" width="7.05" height="7.11" fill="#0000f0"/>
<rect x="110.80" y="477.67" width="7.05" height="7.11" fill="#0000f0"/>
<rect x="117.85" y="477.67" width="7.05" height="7.11" fill="#0000f0"/>
<rect x="124.90" y="477.67" width="7.05" height="7.11" fill="#0000e6"/>
<rect x="131.95" y="477.67" width="7.05" height="7.11" fill="#0000e6"/>
<rect x="139.00" y="477.67" width="7.05" height="7.11" fill="#0000e6"/>
<rect x="146.05" y="477.67" width="7.05" height="7.11" fill="#0000e6"/>
<rect x="153.10" y="477.67" width="7.05" height="7.11" fill="#0000e6"/>
<rect x="160.15" y="477.67" width="7.05" height="7.11" fill="#0000e6"/>
<rect x="40.30" y="484.77" width="7.05" height="7.11" fill="#000000"/>
<rect x="47.35" y="484.77" width="7.05" height="7.11" fill="#00006e"/>
<rect x="54.40" y="484.77" width="7.05" height="7.11" fill="#000078"/>
<rect x="61.45" y="484.77" width="7.05" height="7.11" fill="#969600"/>
<rect x="68.50" y="484.77" width="7.05" height="7.11" fill="#8c8c00"/>
<rect x="75.55" y="484.77" width="7.05" height="7.11" fill="#787800"/>
<rect x="82.60" y="484.77" width="7.05" height="7.11" fill="#c8c800"/>
<rect x="89.65" y="484.77" width="7.05" height="7.11" fill="#dcdc00"/>
<rect x="96.70" y="484.77" width="7.05" height="7.11" fill="#dcdc00"/>
<rect x="103.75" y="484.77" width="7.05" height="7.11" fill="#0000f0"/>
<rect x="110.80" y="484.77" width="7.05" height="7.11" fill="#0000e6"/>
<rect x="117.85" y="484.77" width="7.05" height="7.11" fill="#0000e6"/>
<rect x="124.90" y="484.77" width="7.05" height="7.11" fill="#000000"/>
<rect x="131.95" y="484.77" width="7.05" height="7.11" fill="#141400"/>
<rect x="139.00" y="484.77" width="7.05" height="7.11" fill="#000000"/>
<rect x="146.05" y="484.77" width="7.05" height="7.11" fill="#ffff00"/>
<rect x="153.10" y="484.77" width="7.05" height="7.11" fill="#ffff00"/>
<rect x="160.15" y="484.77" width="7.05" height="7.11" fill="#ffff00"/>
<rect x="40.30" y="491.88" width="7.05" height="7.11" fill="#000082"/>
<rect x="47.35" y="491.88" width="7.05" height="7.11" fill="#0000c8"/>
<rect x="54.40" y="491.88" width="7.05" height="7.11" fill="#0000c8"/>
<rect x="61.45" y="491.88" width="7.05" height="7.11" fill="#000082"/>
<rect x="68.50" y="491.88" width="7.05" height="7.11" fill="#0000b4"/>
<rect x="75.55" y="491.88" width="7.05" height="7.11" fill="#000096"/>
<rect x="82.60" y="491.88" width="7.05" height="7.11" fill="#00008c"/>
<rect x="89.65" y="491.88" width="7.05" height="7.11" fill="#000082"/>
<rect x="96.70" y="491.88" width="7.05" height="7.11" fill="#000096"/>
<rect x="103.75" y="491.88" width="7.05" height="7.11" fill="#0000dc"/>
<rect x="110.80" y="491.88" width="7.05" height="7.11" fill="#0000d2"/>
<rect x="117.85" y="491.88" width="7.05" height="7.11" fill="#0000d2"/>
<rect x="124.90" y="491.88" width="7.05" height="7.11" fill="#000014"/>
<rect x="131.95" y="491.88" width="7.05" height="7.11" fill="#000032"/>
<rect x="139.00" y="491.88" width="7.05" height="7.11" fill="#000046"/>
<rect x="146.05" y="491.88" width="7.05" height="7.11" fill="#000014"/>
<rect x="153.10" y="491.88" width="7.05" height="7.11" fill="#000014"/>
<rect x="160.15" y="491.88" width="7.05" height="7.11" fill="#00001e"/>
<rect x="40.30" y="498.98" width="7.05" height="7.11" fill="#0000dc"/>
<rect x="47.35" y="498.98" width="7.05" height="7.11" fill="#0000d2"/>
<rect x="54.40" y="498.98" width="7.05" height="7.11" fill="#0000d2"/>
<rect x="61.45" y="498.98" width="7.05" height="7.11" fill="#000000"/>
<rect x="68.50" y="498.98" width="7.05" height="7.11" fill="#00005a"/>
<rect x="75.55" y="498.98" width="7.05" height="7.11" fill="#000064"/>
<rect x="82.60" y="498.98" width="7.05" height="7.11" fill="#000028"/>
<rect x="89.65" y="498.98" width="7.05" height="7.11" fill="#000028"/>
<rect x="96.70" y="498.98" width="7.05" height="7.11" fill="#000050"/>
<rect x="103.75" y="498.98" width="7.05" height="7.11" fill="#0000e6"/>
<rect x="110.80" y="498.98" width="7.05" height="7.11" fill="#0000dc"/>
<rect x="117.85" y="498.98" width="7.05" height="7.11" fill="#0000d2"/>
<rect x="124.90" y="498.98" width="7.05" height="7.11" fill="#282800"/>
<rect x="131.95" y="498.98" width="7.05" height="7.11" fill="#1e1e00"/>
<rect x="139.00" y="498.98" width="7.05" height="7.11" fill="#282800"/>
<rect x="146.05" y="498.98" width="7.05" height="7.11" fill="#323200"/>
<rect x="153.10" y="498.98" width="7.05" height="7.11" fill="#505000"/>
<rect x="160.15" y="498.98" width="7.05" height="7.11" fill="#5a5a00"/>
<rect x="40.30" y="506.09" width="7.05" height="7.11" fill="#0000f0"/>
<rect x="47.35" y="506.09" width="7.05" height="7.11" fill="#0000dc"/>
<rect x="54.40" y="506.09" width="7.05" height="7.11" fill="#0000dc"/>
<rect x="61.45" y="506.09" width="7.05" height="7.11" fill="#0000aa"/>
<rect x="68.50" y="506.09" width="7.05" height="7.11" fill="#505000"/>
<rect x="75.55" y="506.09" width="7.05" height="7.11" fill="#000028"/>
<rect x="82.60" y="506.09" width="7.05" height="7.11" fill="#000014"/>
<rect x="89.65" y="506.09" width="7.05" height="7.11" fill="#3c3c00"/>
<rect x="96.70" y="506.09" width="7.05" height="7.11" fill="#787800"/>
<rect x="103.75" y="506.09" width="7.05" height="7.11" fill="#000000"/>
<rect x="110.80" y="506.09" width="7.05" height="7.11" fill="#141400"/>
<rect x="117.85" y="506.09" width="7.05" height="7.11" fill="#000014"/>
<rect x="124.90" y="506.09" width="7.05" height="7.11" fill="#ffff00"/>
<rect x="131.95" y="506.09" width="7.05" height="7.11" fill="#ffff00"/>
<rect x="139.00" y="506.09" width="7.05" height="7.11" fill="#e6e600"/>
<rect x="146.05" y="506.09" width="7.05" height="7.11" fill="#ffff00"/>
<rect x="153.10" y="506.09" width="7.05" height="7.11" fill="#ffff00"/>
<rect x="160.15" y="506.09" width="7.05" height="7.11" fill="#ffff00"/>
<rect x="40.30" y="513.19" width="7.05" height="7.11" fill="#1e1e00"/>
<rect x="47.35" y="513.19" width="7.05" height="7.11" fill="#000096"/>
<rect x="54.40" y="513.19" width="7.05" height="7.11" fill="#0000aa"/>
<rect x="61.45" y="513.19" width="7.05" height="7.11" fill="#000096"/>
<rect x="68.50" y="513.19" width="7.05" height="7.11" fill="#0000a0"/>
<rect x="75.55" y="513.19" width="7.05" height="7.11" fill="#0000aa"/>
<rect x="82.60" y="513.19" width="7.05" height="7.11" fill="#8c8c00"/>
<rect x="89.65" y="513.19" width="7.05" height="7.11" fill="#6e6e00"/>
<rect x="96.70" y="513.19" width="7.05" height="7.11" fill="#8c8c00"/>
<rect x="103.75" y="513.19" width="7.05" height="7.11" fill="#3c3c00"/>
<rect x="110.80" y="513.19" width="7.05" height="7.11" fill="#323200"/>
<rect x="117.85" y="513.19" width="7.05" height="7.11" fill="#323200"/>
<rect x="124.90" y="513.19" width="7.05" height="7.11" fill="#464600"/>
<rect x="131.95" y="513.19" width="7.05" height="7.11" fill="#000000"/>
<rect x="139.00" y="513.19" width="7.05" height="7.11" fill="#323200"/>
<rect x="146.05" y="513.19" width="7.05" height="7.11" fill="#ffff00"/>
<rect x="153.10" y="513.19" width="7.05" height="7.11" fill="#ffff00"/>
<rect x="160.15" y="513.19" width="7.05" height="7.11" fill="#ffff00"/>
<rect x="40.30" y="520.30" width="7.05" height="7.11" fill="#0000e6"/>
<rect x="47.35" y="520.30" width="7.05" height="7.11" fill="#0000e6"/>
<rect x="54.40" y="520.30" width="7.05" height="7.11" fill="#0000dc"/>
<rect x="61.45" y="520.30" width="7.05" height="7.11" fill="#0000d2"/>
<rect x="68.50" y="520.30" width="7.05" height="7.11" fill="#0000c8"/>
<rect x="75.55" y="520.30" width="7.05" height="7.11" fill="#0000c8"/>
<rect x="82.60" y="520.30" width="7.05" height="7.11" fill="#0000aa"/>
<rect x="89.65" y="520.30" width="7.05" height="7.11" fill="#0000a0"/>
<rect x="96.70" y="520.30" width="7.05" height="7.11" fill="#0000a0"/>
<rect x="103.75" y="520.30" width="7.05" height="7.11" fill="#0000e6"/>
<rect x="110.80" y="520.30" width="7.05" height="7.11" fill="#0000dc"/>
<rect x="117.85" y="520.30" width="7.05" height="7.11" fill="#0000dc"/>
<rect x="124.90" y="520.30" width="7.05" height="7.11" fill="#ffff00"/>
<rect x="131.95" y="520.30" width="7.05" height="7.11" fill="#ffff00"/>
<rect x="139.00" y="520.30" width="7.05" height="7.11" fill="#ffff00"/>
<rect x="146.05" y="520.30" width="7.05" height="7.11" fill="#ffff00"/>
<rect x="153.10" y="520.30" width="7.05" height="7.11" fill="#ffff00"/>
<rect x="160.15" y="520.30" width="7.05" height="7.11" fill="#ffff00"/>
<rect x="40.30" y="527.40" width="7.05" height="7.11" fill="#000096"/>
<rect x="47.35" y="527.40" width="7.05" height="7.11" fill="#0000aa"/>
<rect x="54.40" y="527.40" width="7.05" height="7.11" fill="#0000a0"/>
<rect x="61.45" y="527.40" width="7.05" height="7.11" fill="#dcdc00"/>
<rect x="68.50" y="527.40" width="7.05" height="7.11" fill="#c8c800"/>
<rect x="75.55" y="527.40" width="7.05" height="7.11" fill="#e6e600"/>
<rect x="82.60" y="527.40" width="7.05" height="7.11" fill="#828200"/>
<rect x="89.65" y="527.40" width="7.05" height="7.11" fill="#5a5a00"/>
<rect x="96.70" y="527.40" width="7.05" height="7.11" fill="#6e6e00"/>
<rect x="103.75" y="527.40" width="7.05" height="7.11" fill="#0000dc"/>
<rect x="110.80" y="527.40" width="7.05" height="7.11" fill="#0000d2"/>
<rect x="117.85" y="527.40" width="7.05" height="7.11" fill="#0000c8"/>
<rect x="124.90" y="527.40" width="7.05" height="7.11" fill="#ffff00"/>
<rect x="131.95" y="527.40" width="7.05" height="7.11" fill="#ffff00"/>
<rect x="139.00" y="527.40" width="7.05" height="7.11" fill="#ffff00"/>
<rect x="146.05" y="527.40" width="7.05" height="7.11" fill="#ffff00"/>
<rect x="153.10" y="527.40" width="7.05" height="7.11" fill="#ffff00"/>
<rect x="160.15" y="527.40" width="7.05" height="7.11" fill="#ffff00"/>
<rect x="40.30" y="534.50" width="7.05" height="7.11" fill="#0000f0"/>
<rect x="47.35" y="534.50" width="7.05" height="7.11" fill="#0000c8"/>
<rect x="54.40" y="534.50" width="7.05" height="7.11" fill="#0000c8"/>
<rect x="61.45" y="534.50" width="7.05" height="7.11" fill="#000078"/>
<rect x="68.50" y="534.50" width="7.05" height="7.11" fill="#969600"/>
<rect x="75.55" y="534.50" width="7.05" height="7.11" fill="#323200"/>
<rect x="82.60" y="534.50" width="7.05" height="7.11" fill="#f0f000"/>
<rect x="89.65" y="534.50" width="7.05" height="7.11" fill="#ffff00"/>
<rect x="96.70" y="534.50" width="7.05" height="7.11" fill="#ffff00"/>
<rect x="103.75" y="534.50" width="7.05" height="7.11" fill="#000046"/>
<rect x="110.80" y="534.50" width="7.05" height="7.11" fill="#00006e"/>
<rect x="117.85" y="534.50" width="7.05" height="7.11" fill="#00005a"/>
<rect x="124.90" y="534.50" width="7.05" height="7.11" fill="#ffff00"/>
<rect x="131.95" y="534.50" width="7.05" height="7.11" fill="#ffff00"/>
<rect x="139.00" y="534.50" width="7.05" height="7.11" fill="#ffff00"/>
<rect x="146.05" y="534.50" width="7.05" height="7.11" fill="#ffff00"/>
<rect x="153.10" y="534.50" width="7.05" height="7.11" fill="#ffff00"/>
<rect x="160.15" y="534.50" width="7.05" height="7.11" fill="#ffff00"/>
<rect x="40.30" y="541.61" width="7.05" height="7.11" fill="#0000e6"/>
<rect x="47.35" y="541.61" width="7.05" height="7.11" fill="#0000f0"/>
<rect x="54.40" y="541.61" width="7.05" height="7.11" fill="#0000f0"/>
<rect x="61.45" y="541.61" width="7.05" height="7.11" fill="#323200"/>
<rect x="68.50" y="541.61" width="7.05" height="7.11" fill="#282800"/>
<rect x="75.55" y="541.61" width="7.05" height="7.11" fill="#323200"/>
<rect x="82.60" y="541.61" width="7.05" height="7.11" fill="#000082"/>
<rect x="89.65" y="541.61" width="7.05" height="7.11" fill="#000078"/>
<rect x="96.70" y="541.61" width="7.05" height="7.11" fill="#000050"/>
<rect x="103.75" y="541.61" width="7.05" height="7.11" fill="#000064"/>
<rect x="110.80" y="541.61" width="7.05" height="7.11" fill="#000014"/>
<rect x="117.85" y="541.61" width="7.05" height="7.11" fill="#00001e"/>
<rect x="124.90" y="541.61" width="7.05" height="7.11" fill="#ffff00"/>
<rect x="131.95" y="541.61" width="7.05" height="7.11" fill="#ffff00"/>
<rect x="139.00" y="541.61" width="7.05" height="7.11" fill="#ffff00"/>
<rect x="146.05" y="541.61" width="7.05" height="7.11" fill="#ffff00"/>
<rect x="153.10" y="541.61" width="7.05" height="7.11" fill="#ffff00"/>
<rect x="160.15" y="541.61" width="7.05" height="7.11" fill="#ffff00"/>
<rect x="40.30" y="548.72" width="7.05" height="7.11" fill="#000082"/>
<rect x="47.35" y="548.72" width="7.05" height="7.11" fill="#000064"/>
<rect x="54.40" y="548.72" width="7.05" height="7.11" fill="#000082"/>
<rect x="61.45" y="548.72" width="7.05" height="7.11" fill="#a0a000"/>
<rect x="68.50" y="548.72" width="7.05" height="7.11" fill="#dcdc00"/>
<rect x="75.55" y="548.72" width="7.05" height="7.11" fill="#aaaa00"/>
<rect x="82.60" y="548.72" width="7.05" height="7.11" fill="#a0a000"/>
<rect x="89.65" y="548.72" width="7.05" height="7.11" fill="#969600"/>
<rect x="96.70" y="548.72" width="7.05" height="7.11" fill="#aaaa00"/>
<rect x="103.75" y="548.72" width="7.05" height="7.11" fill="#141400"/>
<rect x="110.80" y="548.72" width="7.05" height="7.11" fill="#1e1e00"/>
<rect x="117.85" y="548.72" width="7.05" height="7.11" fill="#1e1e00"/>
<rect x="124.90" y="548.72" width="7.05" height="7.11" fill="#ffff00"/>
<rect x="131.95" y="548.72" width="7.05" height="7.11" fill="#ffff00"/>
<rect x="139.00" y="548.72" width="7.05" height="7.11" fill="#ffff00"/>
<rect x="146.05" y="548.72" width="7.05" height="7.11" fill="#ffff00"/>
<rect x="153.10" y="548.72" width="7.05" height="7.11" fill="#ffff00"/>
<rect x="160.15" y="548.72" width="7.05" height="7.11" fill="#ffff00"/>
<rect x="40.30" y="555.82" width="7.05" height="7.11" fill="#0000aa"/>
<rect x="47.35" y="555.82" width="7.05" height="7.11" fill="#0000be"/>
<rect x="54.40" y="555.82" width="7.05" height="7.11" fill="#0000c8"/>
<rect x="61.45" y="555.82" width="7.05" height="7.11" fill="#000082"/>
<rect x="68.50" y="555.82" width="7.05" height="7.11" fill="#00006e"/>
<rect x="75.55" y="555.82" width="7.05" height="7.11" fill="#000082"/>
<rect x="82.60" y="555.82" width="7.05" height="7.11" fill="#000046"/>
<rect x="89.65" y="555.82" width="7.05" height="7.11" fill="#000032"/>
<rect x="96.70" y="555.82" width="7.05" height="7.11" fill="#000046"/>
<rect x="103.75" y="555.82" width="7.05" height="7.11" fill="#000096"/>
<rect x="110.80" y="555.82" width="7.05" height="7.11" fill="#000078"/>
<rect x="117.85" y="555.82" width="7.05" height="7.11" fill="#0000a0"/>
<rect x="124.90" y="555.82" width="7.05" height="7.11" fill="#00000a"/>
<rect x="131.95" y="555.82" width="7.05" height="7.11" fill="#000046"/>
<rect x="139.00" y="555.82" width="7.05" height="7.11" fill="#00000a"/>
<rect x="146.05" y="555.82" width="7.05" height="7.11" fill="#b4b400"/>
<rect x="153.10" y="555.82" width="7.05" height="7.11" fill="#d2d200"/>
<rect x="160.15" y="555.82" width="7.05" height="7.11" fill="#d2d200"/>
<rect x="40.30" y="562.92" width="7.05" height="7.11" fill="#0000aa"/>
<rect x="47.35" y="562.92" width="7.05" height="7.11" fill="#0000f0"/>
<rect x="54.40" y="562.92" width="7.05" height="7.11" fill="#0000f0"/>
<rect x="61.45" y="562.92" width="7.05" height="7.11" fill="#6e6e00"/>
<rect x="68.50" y="562.92" width="7.05" height="7.11" fill="#323200"/>
<rect x="75.55" y="562.92" width="7.05" height="7.11" fill="#464600"/>
<rect x="82.60" y="562.92" width="7.05" height="7.11" fill="#00005a"/>
<rect x="89.65" y="562.92" width="7.05" height="7.11" fill="#000050"/>
<rect x="96.70" y="562.92" width="7.05" height="7.11" fill="#000082"/>
<rect x="103.75" y="562.92" width="7.05" height="7.11" fill="#0000e6"/>
<rect x="110.80" y="562.92" width="7.05" height="7.11" fill="#0000dc"/>
<rect x="117.85" y="562.92" width="7.05" height="7.11" fill="#0000d2"/>
<rect x="124.90" y="562.92" width="7.05" height="7.11" fill="#ffff00"/>
<rect x="131.95" y="562.92" width="7.05" height="7.11" fill="#ffff00"/>
<rect x="139.00" y="562.92" width="7.05" height="7.11" fill="#ffff00"/>
<rect x="146.05" y="562.92" width="7.05" height="7.11" fill="#ffff00"/>
<rect x="153.10" y="562.92" width="7.05" height="7.11" fill="#ffff00"/>
<rect x="160.15" y="562.92" width="7.05" height="7.11" fill="#ffff00"/>
<rect x="40.30" y="570.03" width="7.05" height="7.11" fill="#0000e6"/>
<rect x="47.35" y="570.03" width="7.05" height="7.11" fill="#0000dc"/>
<rect x="54.40" y="570.03" width="7.05" height="7.11" fill="#0000e6"/>
<rect x="61.45" y="570.03" width="7.05" height="7.11" fill="#0a0a00"/>
<rect x="68.50" y="570.03" width="7.05" height="7.11" fill="#aaaa00"/>
<rect x="75.55" y="570.03" width="7.05" height="7.11" fill="#6e6e00"/>
<rect x="82.60" y="570.03" width="7.05" height="7.11" fill="#ffff00"/>
<rect x="89.65" y="570.03" width="7.05" height="7.11" fill="#ffff00"/>
<rect x="96.70" y="570.03" width="7.05" height="7.11" fill="#ffff00"/>
<rect x="103.75" y="570.03" width="7.05" height="7.11" fill="#0000e6"/>
<rect x="110.80" y="570.03" width="7.05" height="7.11" fill="#0000dc"/>
<rect x="117.85" y="570.03" width="7.05" height="7.11" fill="#0000d2"/>
<rect x="124.90" y="570.03" width="7.05" height="7.11" fill="#ffff00"/>
<rect x="131.95" y="570.03" width="7.05" height="7.11" fill="#ffff00"/>
<rect x="139.00" y="570.03" width="7.05" height="7.11" fill="#ffff00"/>
<rect x="146.05" y="570.03" width="7.05" height="7.11" fill="#ffff00"/>
<rect x="153.10" y="570.03" width="7.05" height="7.11" fill="#ffff00"/>
<rect x="160.15" y="570.03" width="7.05" height="7.11" fill="#ffff00"/>
<rect x="40.30" y="577.13" width="7.05" height="7.11" fill="#282800"/>
<rect x="47.35" y="577.13" width="7.05" height="7.11" fill="#000050"/>
<rect x="54.40" y="577.13" width="7.05" height="7.11" fill="#000032"/>
<rect x="61.45" y="577.13" width="7.05" height="7.11" fill="#141400"/>
<rect x="68.50" y="577.13" width="7.05" height="7.11" fill="#00003c"/>
<rect x="75.55" y="577.13" width="7.05" height="7.11" fill="#00001e"/>
<rect x="82.60" y="577.13" width="7.05" height="7.11" fill="#bebe00"/>
<rect x="89.65" y="577.13" width="7.05" height="7.11" fill="#a0a000"/>
<rect x="96.70" y="577.13" width="7.05" height="7.11" fill="#969600"/>
<rect x="103.75" y="577.13" width="7.05" height="7.11" fill="#000000"/>
<rect x="110.80" y="577.13" width="7.05" height="7.11" fill="#000000"/>
<rect x="117.85" y="577.13" width="7.05" height="7.11" fill="#000014"/>
<rect x="124.90" y="577.13" width="7.05" height="7.11" fill="#323200"/>
<rect x="131.95" y="577.13" width="7.05" height="7.11" fill="#1e1e00"/>
<rect x="139.00" y="577.13" width="7.05" height="7.11" fill="#282800"/>
<rect x="146.05" y="577.13" width="7.05" height="7.11" fill="#ffff00"/>
<rect x="153.10" y="577.13" width="7.05" height="7.11" fill="#ffff00"/>
<rect x="160.15" y="577.13" width="7.05" height="7.11" fill="#ffff00"/>
<rect x="40.30" y="584.24" width="7.05" height="7.11" fill="#000064"/>
<rect x="47.35" y="584.24" width="7.05" height="7.11" fill="#0000aa"/>
<rect x="54.40" y="584.24" width="7.05" height="7.11" fill="#0000a0"/>
<rect x="61.45" y="584.24" width="7.05" height="7.11" fill="#a0a000"/>
<rect x="68.50" y="584.24" width="7.05" height="7.11" fill="#282800"/>
<rect x="75.55" y="584.24" width="7.05" height="7.11" fill="#5a5a00"/>
<rect x="82.60" y="584.24" width="7.05" height="7.11" fill="#464600"/>
<rect x="89.65" y="584.24" width="7.05" height="7.11" fill="#646400"/>
<rect x="96.70" y="584.24" width="7.05" height="7.11" fill="#6e6e00"/>
<rect x="103.75" y="584.24" width="7.05" height="7.11" fill="#0000e6"/>
<rect x="110.80" y="584.24" width="7.05" height="7.11" fill="#0000d2"/>
<rect x="117.85" y="584.24" width="7.05" height="7.11" fill="#0000c8"/>
<rect x="124.90" y="584.24" width="7.05" height="7.11" fill="#464600"/>
<rect x="131.95" y="584.24" width="7.05" height="7.11" fill="#323200"/>
<rect x="139.00" y="584.24" width="7.05" height="7.11" fill="#3c3c00"/>
<rect x="146.05" y="584.24" width="7.05" height="7.11" fill="#ffff00"/>
<rect x="153.10" y="584.24" width="7.05" height="7.11" fill="#ffff00"/>
<rect x="160.15" y="584.24" width="7.05" height="7.11" fill="#ffff00"/>
<rect x="40.30" y="591.35" width="7.05" height="7.11" fill="#1e1e00"/>
<rect x="47.35" y="591.35" width="7.05" height="7.11" fill="#0000a0"/>
<rect x="54.40" y="591.35" width="7.05" height="7.11" fill="#000096"/>
<rect x="61.45" y="591.35" width="7.05" height="7.11" fill="#323200"/>
<rect x="68.50" y="591.35" width="7.05" height="7.11" fill="#1e1e00"/>
<rect x="75.55" y="591.35" width="7.05" height="7.11" fill="#141400"/>
<rect x="82.60" y="591.35" width="7.05" height="7.11" fill="#6e6e00"/>
<rect x="89.65" y="591.35" width="7.05" height="7.11" fill="#646400"/>
<rect x="96.70" y="591.35" width="7.05" height="7.11" fill="#646400"/>
<rect x="103.75" y="591.35" width="7.05" height="7.11" fill="#0000aa"/>
<rect x="110.80" y="591.35" width="7.05" height="7.11" fill="#000096"/>
<rect x="117.85" y="591.35" width="7.05" height="7.11" fill="#0000a0"/>
<rect x="124.90" y="591.35" width="7.05" height="7.11" fill="#0a0a00"/>
<rect x="131.95" y="591.35" width="7.05" height="7.11" fill="#1e1e00"/>
<rect x="139.00" y="591.35" width="7.05" height="7.11" fill="#282800"/>
<rect x="146.05" y="591.35" width="7.05" height="7.11" fill="#f0f000"/>
<rect x="153.10" y="591.35" width="7.05" height="7.11" fill="#ffff00"/>
<rect x="160.15" y="591.35" width="7.05" height="7.11" fill="#ffff00"/>
<rect x="40.30" y="598.45" width="7.05" height="7.11" fill="#0000dc"/>
<rect x="47.35" y="598.45" width="7.05" height="7.11" fill="#0000e6"/>
<rect x="54.40" y="598.45" width="7.05" height="7.11" fill="#0000f0"/>
<rect x="61.45" y="598.45" width="7.05" height="7.11" fill="#0000c8"/>
<rect x="68.50" y="598.45" width="7.05" height="7.11" fill="#0000be"/>
<rect x="75.55" y="598.45" width="7.05" height="7.11" fill="#0000c8"/>
<rect x="82.60" y="598.45" width="7.05" height="7.11" fill="#0000b4"/>
<rect x="89.65" y="598.45" width="7.05" height="7.11" fill="#0000be"/>
<rect x="96.70" y="598.45" width="7.05" height="7.11" fill="#0000b4"/>
<rect x="103.75" y="598.45" width="7.05" height="7.11" fill="#0000be"/>
<rect x="110.80" y="598.45" width="7.05" height="7.11" fill="#0000b4"/>
<rect x="117.85" y="598.45" width="7.05" height="7.11" fill="#0000c8"/>
<rect x="124.90" y="598.45" width="7.05" height="7.11" fill="#000014"/>
<rect x="131.95" y="598.45" width="7.05" height="7.11" fill="#00001e"/>
<rect x="139.00" y="598.45" width="7.05" height="7.11" fill="#000032"/>
<rect x="146.05" y="598.45" width="7.05" height="7.11" fill="#323200"/>
<rect x="153.10" y="598.45" width="7.05" height="7.11" fill="#464600"/>
<rect x="160.15" y="598.45" width="7.05" height="7.11" fill="#3c3c00"/>
<rect x="40.30" y="605.56" width="7.05" height="7.11" fill="#0000b4"/>
<rect x="47.35" y="605.56" width="7.05" height="7.11" fill="#00005a"/>
<rect x="54.40" y="605.56" width="7.05" height="7.11" fill="#000064"/>
<rect x="61.45" y="605.56" width="7.05" height="7.11" fill="#6e6e00"/>
<rect x="68.50" y="605.56" width="7.05" height="7.11" fill="#e6e600"/>
<rect x="75.55" y="605.56" width="7.05" height="7.11" fill="#bebe00"/>
<rect x="82.60" y="605.56" width="7.05" height="7.11" fill="#ffff00"/>
<rect x="89.65" y="605.56" width="7.05" height="7.11" fill="#ffff00"/>
<rect x="96.70" y="605.56" width="7.05" height="7.11" fill="#ffff00"/>
<rect x="103.75" y="605.56" width="7.05" height="7.11" fill="#1e1e00"/>
<rect x="110.80" y="605.56" width="7.05" height="7.11" fill="#282800"/>
<rect x="117.85" y="605.56" width="7.05" height="7.11" fill="#141400"/>
<rect x="124.90" y="605.56" width="7.05" height="7.11" fill="#ffff00"/>
<rect x="131.95" y="605.56" width="7.05" height="7.11" fill="#ffff00"/>
<rect x="139.00" y="605.56" width="7.05" height="7.11" fill="#ffff00"/>
<rect x="146.05" y="605.56" width="7.05" height="7.11" fill="#ffff00"/>
<rect x="153.10" y="605.56" width="7.05" height="7.11" fill="#ffff00"/>
<rect x="160.15" y="605.56" width="7.05" height="7.11" fill="#ffff00"/>
<rect x="40.30" y="612.66" width="7.05" height="7.11" fill="#505000"/>
<rect x="47.35" y="612.66" width="7.05" height="7.11" fill="#323200"/>
<rect x="54.40" y="612.66" width="7.05" height="7.11" fill="#282800"/>
<rect x="61.45" y="612.66" width="7.05" height="7.11" fill="#ffff00"/>
<rect x="68.50" y="612.66" width="7.05" height="7.11" fill="#ffff00"/>
<rect x="75.55" y="612.66" width="7.05" height="7.11" fill="#ffff00"/>
<rect x="82.60" y="612.66" width="7.05" height="7.11" fill="#ffff00"/>
<rect x="89.65" y="612.66" width="7.05" height="7.11" fill="#ffff00"/>
<rect x="96.70" y="612.66" width="7.05" height="7.11" fill="#ffff00"/>
<rect x="103.75" y="612.66" width="7.05" height="7.11" fill="#282800"/>
<rect x="110.80" y="612.66" width="7.05" height="7.11" fill="#141400"/>
<rect x="117.85" y="612.66" width="7.05" height="7.11" fill="#0a0a00"/>
<rect x="124.90" y="612.66" width="7.05" height="7.11" fill="#ffff00"/>
<rect x="131.95" y="612.66" width="7.05" height="7.11" fill="#ffff00"/>
<rect x="139.00" y="612.66" width="7.05" height="7.11" fill="#ffff00"/>
<rect x="146.05" y="612.66" width="7.05" height="7.11" fill="#ffff00"/>
<rect x="153.10" y="612.66" width="7.05" height="7.11" fill="#ffff00"/>
<rect x="160.15" y="612.66" width="7.05" height="7.11" fill="#ffff00"/>
<rect x="40.30" y="619.76" width="7.05" height="7.11" fill="#aaaa00"/>
<rect x="47.35" y="619.76" width="7.05" height="7.11" fill="#505000"/>
<rect x="54.40" y="619.76" width="7.05" height="7.11" fill="#3c3c00"/>
<rect x="61.45" y="619.76" width="7.05" height="7.11" fill="#ffff00"/>
<rect x="68.50" y="619.76" width="7.05" height="7.11" fill="#f0f000"/>
<rect x="75.55" y="619.76" width="7.05" height="7.11" fill="#ffff00"/>
<rect x="82.60" y="619.76" width="7.05" height="7.11" fill="#ffff00"/>
<rect x="89.65" y="619.76" width="7.05" height="7.11" fill="#ffff00"/>
<rect x="96.70" y="619.76" width="7.05" height="7.11" fill="#ffff00"/>
<rect x="103.75" y="619.76" width="7.05" height="7.11" fill="#6e6e00"/>
<rect x="110.80" y="619.76" width="7.05" height="7.11" fill="#646400"/>
<rect x="117.85" y="619.76" width="7.05" height="7.11" fill="#6e6e00"/>
<rect x="124.90" y="619.76" width="7.05" height="7.11" fill="#ffff00"/>
<rect x="131.95" y="619.76" width="7.05" height="7.11" fill="#ffff00"/>
<rect x="139.00" y="619.76" width="7.05" height="7.11" fill="#ffff00"/>
<rect x="146.05" y="619.76" width="7.05" height="7.11" fill="#ffff00"/>
<rect x="153.10" y="619.76" width="7.05" height="7.11" fill="#ffff00"/>
<rect x="160.15" y="619.76" width="7.05" height="7.11" fill="#ffff00"/>
<rect x="40.30" y="626.87" width="7.05" height="7.11" fill="#282800"/>
<rect x="47.35" y="626.87" width="7.05" height="7.11" fill="#00008c"/>
<rect x="54.40" y="626.87" width="7.05" height="7.11" fill="#000096"/>
<rect x="61.45" y="626.87" width="7.05" height="7.11" fill="#323200"/>
<rect x="68.50" y="626.87" width="7.05" height="7.11" fill="#1e1e00"/>
<rect x="75.55" y="626.87" width="7.05" height="7.11" fill="#1e1e00"/>
<rect x="82.60" y="626.87" width="7.05" height="7.11" fill="#646400"/>
<rect x="89.65" y="626.87" width="7.05" height="7.11" fill="#646400"/>
<rect x="96.70" y="626.87" width="7.05" height="7.11" fill="#5a5a00"/>
<rect x="103.75" y="626.87" width="7.05" height="7.11" fill="#0000aa"/>
<rect x="110.80" y="626.87" width="7.05" height="7.11" fill="#0000a0"/>
<rect x="117.85" y="626.87" width="7.05" height="7.11" fill="#0000aa"/>
<rect x="124.90" y="626.87" width="7.05" height="7.11" fill="#1e1e00"/>
<rect x="131.95" y="626.87" width="7.05" height="7.11" fill="#323200"/>
<rect x="139.00" y="626.87" width="7.05" height="7.11" fill="#282800"/>
<rect x="146.05" y="626.87" width="7.05" height="7.11" fill="#e6e600"/>
<rect x="153.10" y="626.87" width="7.05" height="7.11" fill="#ffff00"/>
<rect x="160.15" y="626.87" width="7.05" height="7.11" fill="#ffff00"/>
<rect x="40.30" y="633.98" width="7.05" height="7.11" fill="#0000dc"/>
<rect x="47.35" y="633.98" width="7.05" height="7.11" fill="#0000e6"/>
<rect x="54.40" y="633.98" width="7.05" height="7.11" fill="#0000f0"/>
<rect x="61.45" y="633.98" width="7.05" height="7.11" fill="#0000be"/>
<rect x="68.50" y="633.98" width="7.05" height="7.11" fill="#0000b4"/>
<rect x="75.55" y="633.98" width="7.05" height="7.11" fill="#0000be"/>
<rect x="82.60" y="633.98" width="7.05" height="7.11" fill="#0000aa"/>
<rect x="89.65" y="633.98" width="7.05" height="7.11" fill="#0000be"/>
<rect x="96.70" y="633.98" width="7.05" height="7.11" fill="#0000aa"/>
<rect x="103.75" y="633.98" width="7.05" height="7.11" fill="#0000c8"/>
<rect x="110.80" y="633.98" width="7.05" height="7.11" fill="#0000c8"/>
<rect x="117.85" y="633.98" width="7.05" height="7.11" fill="#0000c8"/>
<rect x="124.90" y="633.98" width="7.05" height="7.11" fill="#000014"/>
<rect x="131.95" y="633.98" width="7.05" height="7.11" fill="#00001e"/>
<rect x="139.00" y="633.98" width="7.05" height="7.11" fill="#000032"/>
<rect x="146.05" y="633.98" width="7.05" height="7.11" fill="#3c3c00"/>
<rect x="153.10" y="633.98" width="7.05" height="7.11" fill="#464600"/>
<rect x="160.15" y="633.98" width="7.05" height="7.11" fill="#464600"/>
<rect x="40.30" y="641.08" width="7.05" height="7.11" fill="#323200"/>
<rect x="47.35" y="641.08" width="7.05" height="7.11" fill="#141400"/>
<rect x="54.40" y="641.08" width="7.05" height="7.11" fill="#1e1e00"/>
<rect x="61.45" y="641.08" width="7.05" height="7.11" fill="#787800"/>
<rect x="68.50" y="641.08" width="7.05" height="7.11" fill="#828200"/>
<rect x="75.55" y="641.08" width="7.05" height="7.11" fill="#6e6e00"/>
<rect x="82.60" y="641.08" width="7.05" height="7.11" fill="#969600"/>
<rect x="89.65" y="641.08" width="7.05" height="7.11" fill="#828200"/>
<rect x="96.70" y="641.08" width="7.05" height="7.11" fill="#787800"/>
<rect x="103.75" y="641.08" width="7.05" height="7.11" fill="#00008c"/>
<rect x="110.80" y="641.08" width="7.05" height="7.11" fill="#000078"/>
<rect x="117.85" y="641.08" width="7.05" height="7.11" fill="#000082"/>
<rect x="124.90" y="641.08" width="7.05" height="7.11" fill="#505000"/>
<rect x="131.95" y="641.08" width="7.05" height="7.11" fill="#3c3c00"/>
<rect x="139.00" y="641.08" width="7.05" height="7.11" fill="#323200"/>
<rect x="146.05" y="641.08" width="7.05" height="7.11" fill="#f0f000"/>
<rect x="153.10" y="641.08" width="7.05" height="7.11" fill="#ffff00"/>
<rect x="160.15" y="641.08" width="7.05" height="7.11" fill="#ffff00"/>
<rect x="40.30" y="648.18" width="7.05" height="7.11" fill="#0000e6"/>
<rect x="47.35" y="648.18" width="7.05" height="7.11" fill="#0000d2"/>
<rect x="54.40" y="648.18" width="7.05" height="7.11" fill="#0000dc"/>
<rect x="61.45" y="648.18" width="7.05" height="7.11" fill="#0000be"/>
<rect x="68.50" y="648.18" width="7.05" height="7.11" fill="#0000aa"/>
<rect x="75.55" y="648.18" width="7.05" height="7.11" fill="#0000aa"/>
<rect x="82.60" y="648.18" width="7.05" height="7.11" fill="#0000c8"/>
<rect x="89.65" y="648.18" width="7.05" height="7.11" fill="#0000be"/>
<rect x="96.70" y="648.18" width="7.05" height="7.11" fill="#0000b4"/>
<rect x="103.75" y="648.18" width="7.05" height="7.11" fill="#5a5a00"/>
<rect x="110.80" y="648.18" width="7.05" height="7.11" fill="#464600"/>
<rect x="117.85" y="648.18" width="7.05" height="7.11" fill="#5a5a00"/>
<rect x="124.90" y="648.18" width="7.05" height="7.11" fill="#ffff00"/>
<rect x="131.95" y="648.18" width="7.05" height="7.11" fill="#ffff00"/>
<rect x="139.00" y="648.18" width="7.05" height="7.11" fill="#ffff00"/>
<rect x="146.05" y="648.18" width="7.05" height="7.11" fill="#ffff00"/>
<rect x="153.10" y="648.18" width="7.05" height="7.11" fill="#ffff00"/>
<rect x="160.15" y="648.18" width="7.05" height="7.11" fill="#ffff00"/>
<rect x="40.30" y="655.29" width="7.05" height="7.11" fill="#00003c"/>
<rect x="47.35" y="655.29" width="7.05" height="7.11" fill="#000050"/>
<rect x="54.40" y="655.29" width="7.05" height="7.11" fill="#00003c"/>
<rect x="61.45" y="655.29" width="7.05" height="7.11" fill="#969600"/>
<rect x="68.50" y="655.29" width="7.05" height="7.11" fill="#5a5a00"/>
<rect x="75.55" y="655.29" width="7.05" height="7.11" fill="#646400"/>
<rect x="82.60" y="655.29" width="7.05" height="7.11" fill="#dcdc00"/>
<rect x="89.65" y="655.29" width="7.05" height="7.11" fill="#c8c800"/>
<rect x="96.70" y="655.29" width="7.05" height="7.11" fill="#dcdc00"/>
<rect x="103.75" y="655.29" width="7.05" height="7.11" fill="#282800"/>
<rect x="110.80" y="655.29" width="7.05" height="7.11" fill="#1e1e00"/>
<rect x="117.85" y="655.29" width="7.05" height="7.11" fill="#000000"/>
<rect x="124.90" y="655.29" width="7.05" height="7.11" fill="#6e6e00"/>
<rect x="131.95" y="655.29" width="7.05" height="7.11" fill="#787800"/>
<rect x="139.00" y="655.29" width="7.05" height="7.11" fill="#787800"/>
<rect x="146.05" y="655.29" width="7.05" height="7.11" fill="#ffff00"/>
<rect x="153.10" y="655.29" width="7.05" height="7.11" fill="#ffff00"/>
<rect x="160.15" y="655.29" width="7.05" height="7.11" fill="#ffff00"/>
<rect x="40.30" y="662.39" width="7.05" height="7.11" fill="#000096"/>
<rect x="47.35" y="662.39" width="7.05" height="7.11" fill="#0000e6"/>
<rect x="54.40" y="662.39" width="7.05" height="7.11" fill="#0000dc"/>
<rect x="61.45" y="662.39" width="7.05" height="7.11" fill="#00000a"/>
<rect x="68.50" y="662.39" width="7.05" height="7.11" fill="#00005a"/>
<rect x="75.55" y="662.39" width="7.05" height="7.11" fill="#000046"/>
<rect x="82.60" y="662.39" width="7.05" height="7.11" fill="#0a0a00"/>
<rect x="89.65" y="662.39" width="7.05" height="7.11" fill="#0a0a00"/>
<rect x="96.70" y="662.39" width="7.05" height="7.11" fill="#000014"/>
<rect x="103.75" y="662.39" width="7.05" height="7.11" fill="#0000dc"/>
<rect x="110.80" y="662.39" width="7.05" height="7.11" fill="#0000d2"/>
<rect x="117.85" y="662.39" width="7.05" height="7.11" fill="#0000d2"/>
<rect x="124.90" y="662.39" width="7.05" height="7.11" fill="#828200"/>
<rect x="131.95" y="662.39" width="7.05" height="7.11" fill="#787800"/>
<rect x="139.00" y="662.39" width="7.05" height="7.11" fill="#828200"/>
<rect x="146.05" y="662.39" width="7.05" height="7.11" fill="#ffff00"/>
<rect x="153.10" y="662.39" width="7.05" height="7.11" fill="#ffff00"/>
<rect x="160.15" y="662.39" width="7.05" height="7.11" fill="#ffff00"/>
</g>
<g stroke="#000" stroke-opacity="0.55" stroke-width="0.5">
<line x1="40.30" y1="385.30" x2="167.20" y2="385.30"/>
<line x1="40.30" y1="392.41" x2="167.20" y2="392.41"/>
<line x1="40.30" y1="399.51" x2="167.20" y2="399.51"/>
<line x1="40.30" y1="406.62" x2="167.20" y2="406.62"/>
<line x1="40.30" y1="413.72" x2="167.20" y2="413.72"/>
<line x1="40.30" y1="420.83" x2="167.20" y2="420.83"/>
<line x1="40.30" y1="427.93" x2="167.20" y2="427.93"/>
<line x1="40.30" y1="435.04" x2="167.20" y2="435.04"/>
<line x1="40.30" y1="442.14" x2="167.20" y2="442.14"/>
<line x1="40.30" y1="449.25" x2="167.20" y2="449.25"/>
<line x1="40.30" y1="456.35" x2="167.20" y2="456.35"/>
<line x1="40.30" y1="463.46" x2="167.20" y2="463.46"/>
<line x1="40.30" y1="470.56" x2="167.20" y2="470.56"/>
<line x1="40.30" y1="477.67" x2="167.20" y2="477.67"/>
<line x1="40.30" y1="484.77" x2="167.20" y2="484.77"/>
<line x1="40.30" y1="491.88" x2="167.20" y2="491.88"/>
<line x1="40.30" y1="498.98" x2="167.20" y2="498.98"/>
<line x1="40.30" y1="506.09" x2="167.20" y2="506.09"/>
<line x1="40.30" y1="513.19" x2="167.20" y2="513.19"/>
<line x1="40.30" y1="520.30" x2="167.20" y2="520.30"/>
<line x1="40.30" y1="527.40" x2="167.20" y2="527.40"/>
<line x1="40.30" y1="534.50" x2="167.20" y2="534.50"/>
<line x1="40.30" y1="541.61" x2="167.20" y2="541.61"/>
<line x1="40.30" y1="548.72" x2="167.20" y2="548.72"/>
<line x1="40.30" y1="555.82" x2="167.20" y2="555.82"/>
<line x1="40.30" y1="562.92" x2="167.20" y2="562.92"/>
<line x1="40.30" y1="570.03" x2="167.20" y2="570.03"/>
<line x1="40.30" y1="577.13" x2="167.20" y2="577.13"/>
<line x1="40.30" y1="584.24" x2="167.20" y2="584.24"/>
<line x1="40.30" y1="591.35" x2="167.20" y2="591.35"/>
<line x1="40.30" y1="598.45" x2="167.20" y2="598.45"/>
<line x1="40.30" y1="605.56" x2="167.20" y2="605.56"/>
<line x1="40.30" y1="612.66" x2="167.20" y2="612.66"/>
<line x1="40.30" y1="619.76" x2="167.20" y2="619.76"/>
<line x1="40.30" y1="626.87" x2="167.20" y2="626.87"/>
<line x1="40.30" y1="633.98" x2="167.20" y2="633.98"/>
<line x1="40.30" y1="641.08" x2="167.20" y2="641.08"/>
<line x1="40.30" y1="648.18" x2="167.20" y2="648.18"/>
<line x1="40.30" y1="655.29" x2="167.20" y2="655.29"/>
<line x1="40.30" y1="662.39" x2="167.20" y2="662.39"/>
<line x1="40.30" y1="669.50" x2="167.20" y2="669.50"/>
<line x1="40.30" y1="385.30" x2="40.30" y2="669.50"/>
<line x1="47.35" y1="385.30" x2="47.35" y2="669.50"/>
<line x1="54.40" y1="385.30" x2="54.40" y2="669.50"/>
<line x1="61.45" y1="385.30" x2="61.45" y2="669.50"/>
<line x1="68.50" y1="385.30" x2="68.50" y2="669.50"/>
<line x1="75.55" y1="385.30" x2="75.55" y2="669.50"/>
<line x1="82.60" y1="385.30" x2="82.60" y2="669.50"/>
<line x1="89.65" y1="385.30" x2="89.65" y2="669.50"/>
<line x1="96.70" y1="385.30" x2="96.70" y2="669.50"/>
<line x1="103.75" y1="385.30" x2="103.75" y2="669.50"/>
<line x1="110.80" y1="385.30" x2="110.80" y2="669.50"/>
<line x1="117.85" y1="385.30" x2="117.85" y2="669.50"/>
<line x1="124.90" y1="385.30" x2="124.90" y2="669.50"/>
<line x1="131.95" y1="385.30" x2="131.95" y2="669.50"/>
<line x1="139.00" y1="385.30" x2="139.00" y2="669.50"/>
<line x1="146.05" y1="385.30" x2="146.05" y2="669.50"/>
<line x1="153.10" y1="385.30" x2="153.10" y2="669.50"/>
<line x1="160.15" y1="385.30" x2="160.15" y2="669.50"/>
<line x1="167.20" y1="385.30" x2="167.20" y2="669.50"/>
</g>
<g font-size="7.36" fill="#000">
<text x="169.60" y="392.09">ACSL1</text>
<text x="169.60" y="399.20">CASP1</text>
<text x="169.60" y="406.30">CASP4</text>
<text x="169.60" y="413.41">CASP8</text>
<text x="169.60" y="420.51">CALCRL</text>
<text x="169.60" y="427.62">CLEC2D</text>
<text x="169.60" y="434.72">CLEC4D</text>
<text x="169.60" y="441.83">CLEC4E</text>
<text x="169.60" y="448.93">CLEC5A</text>
<text x="169.60" y="456.04">CLEC12A</text>
<text x="169.60" y="463.14">DHX58</text>
<text x="169.60" y="470.25">FCGR4</text>
<text x="169.60" y="477.35">GPR84</text>
<text x="169.60" y="484.46">GPR85</text>
<text x="169.60" y="491.56">HCAR2</text>
<text x="169.60" y="498.67">IER2</text>
<text x="169.60" y="505.77">IER3</text>
<text x="169.60" y="512.88">JAK2</text>
<text x="169.60" y="519.98">LGALS9</text>
<text x="169.60" y="527.09">MMP13</text>
<text x="169.60" y="534.19">NLRP3</text>
<text x="169.60" y="541.30">PARP14</text>
<text x="169.60" y="548.40">PDE4B</text>
<text x="169.60" y="555.51">PELI1</text>
<text x="169.60" y="562.61">PLK2</text>
<text x="169.60" y="569.72">PIM1</text>
<text x="169.60" y="576.82">RSAD2</text>
<text x="169.60" y="583.93">RNF114</text>
<text x="169.60" y="591.03">SLC2A6</text>
<text x="169.60" y="598.14">SLC2A1</text>
<text x="169.60" y="605.24">SLC25A37</text>
<text x="169.60" y="612.35">SLC7A2</text>
<text x="169.60" y="619.45">SDC4</text>
<text x="169.60" y="626.56">SLC15A3</text>
<text x="169.60" y="633.66">SLC2A1</text>
<text x="169.60" y="640.77">SLC25A37</text>
<text x="169.60" y="647.87">SLC16A10</text>
<text x="169.60" y="654.98">SLC44A1</text>
<text x="169.60" y="662.08">SLC11A2</text>
<text x="169.60" y="669.19">TREX1</text>
</g>
<g font-size="7.75" font-weight="bold" fill="#000" text-anchor="start" style="white-space:pre">
<text transform="translate(50.10,384.00) rotate(-37)">Cont_BV2</text>
<text transform="translate(75.50,384.00) rotate(-37)">LPS  2 h_BV2</text>
<text transform="translate(94.50,384.00) rotate(-37)">LPS 4 h_BV2</text>
<text transform="translate(117.90,384.00) rotate(-37)">Cont_PM</text>
<text transform="translate(138.60,384.00) rotate(-37)">LPS 2 h_PM</text>
<text transform="translate(158.10,384.00) rotate(-37)">LPS 4 h_PM</text>
</g>
<text transform="translate(32.20,518.20) rotate(-90)" font-size="11.65" font-weight="bold" text-anchor="middle" fill="#000">Undetected transcripts in BV2 &amp; PM</text>
<path d="M31.5 385.4 L20 386 C17.6 386.2 16.8 387 16.8 389.5 L16.8 524 C16.8 527.6 11 528.2 2 528.5 C11 528.8 16.8 529.4 16.8 533 L16.8 665.5 C16.8 668 17.6 668.8 20 669 L32 669.4" fill="none" stroke="#5a8ac8" stroke-width="0.9"/>
<defs><linearGradient id="gE" x1="0" x2="1" y1="0" y2="0"><stop offset="0" stop-color="#0000ff"/><stop offset="0.5" stop-color="#000"/><stop offset="1" stop-color="#ffff00"/></linearGradient></defs>
<rect x="51.2" y="672.7" width="109.4" height="4.7" fill="url(#gE)"/>
<text x="51.00" y="685.30" font-size="5.5" textLength="4" lengthAdjust="spacingAndGlyphs" fill="#3a3a4a">0.1</text>
<text x="103.90" y="685.30" font-size="5.5" textLength="4" lengthAdjust="spacingAndGlyphs" fill="#3a3a4a">3.0</text>
<text x="155.60" y="685.30" font-size="5.5" textLength="4" lengthAdjust="spacingAndGlyphs" fill="#3a3a4a">6.0</text>
<text x="223.50" y="419.80" font-size="19.6" font-weight="bold" text-anchor="start" fill="#000" >f</text>
<text x="305.30" y="441.70" font-size="11.67" font-weight="bold" text-anchor="middle" fill="#000" >Undetected transcripts in</text>
<text x="304.90" y="455.70" font-size="11.67" font-weight="bold" text-anchor="middle" fill="#000" >PM</text>
<rect x="226.1" y="457.5" width="158.2" height="1.9" fill="#000"/>
<g shape-rendering="crispEdges">
<rect x="224.70" y="502.70" width="146.16" height="89.48" fill="#000"/>
<rect x="224.70" y="502.70" width="8.12" height="8.13" fill="#000000"/>
<rect x="232.82" y="502.70" width="8.12" height="8.13" fill="#000096"/>
<rect x="240.94" y="502.70" width="8.12" height="8.13" fill="#00005a"/>
<rect x="249.06" y="502.70" width="8.12" height="8.13" fill="#000082"/>
<rect x="257.18" y="502.70" width="8.12" height="8.13" fill="#000078"/>
<rect x="265.30" y="502.70" width="8.12" height="8.13" fill="#0000b4"/>
<rect x="273.42" y="502.70" width="8.12" height="8.13" fill="#000014"/>
<rect x="281.54" y="502.70" width="8.12" height="8.13" fill="#000082"/>
<rect x="289.66" y="502.70" width="8.12" height="8.13" fill="#000082"/>
<rect x="297.78" y="502.70" width="8.12" height="8.13" fill="#000082"/>
<rect x="305.90" y="502.70" width="8.12" height="8.13" fill="#000050"/>
<rect x="314.02" y="502.70" width="8.12" height="8.13" fill="#000082"/>
<rect x="322.14" y="502.70" width="8.12" height="8.13" fill="#000096"/>
<rect x="330.26" y="502.70" width="8.12" height="8.13" fill="#00005a"/>
<rect x="338.38" y="502.70" width="8.12" height="8.13" fill="#00006e"/>
<rect x="346.50" y="502.70" width="8.12" height="8.13" fill="#c8c800"/>
<rect x="354.62" y="502.70" width="8.12" height="8.13" fill="#ffff00"/>
<rect x="362.74" y="502.70" width="8.12" height="8.13" fill="#bebe00"/>
<rect x="224.70" y="510.83" width="8.12" height="8.13" fill="#0000dc"/>
<rect x="232.82" y="510.83" width="8.12" height="8.13" fill="#0000e6"/>
<rect x="240.94" y="510.83" width="8.12" height="8.13" fill="#0000d2"/>
<rect x="249.06" y="510.83" width="8.12" height="8.13" fill="#0000b4"/>
<rect x="257.18" y="510.83" width="8.12" height="8.13" fill="#0000dc"/>
<rect x="265.30" y="510.83" width="8.12" height="8.13" fill="#0000be"/>
<rect x="273.42" y="510.83" width="8.12" height="8.13" fill="#0000d2"/>
<rect x="281.54" y="510.83" width="8.12" height="8.13" fill="#0000b4"/>
<rect x="289.66" y="510.83" width="8.12" height="8.13" fill="#0000aa"/>
<rect x="297.78" y="510.83" width="8.12" height="8.13" fill="#0000aa"/>
<rect x="305.90" y="510.83" width="8.12" height="8.13" fill="#0000a0"/>
<rect x="314.02" y="510.83" width="8.12" height="8.13" fill="#0000be"/>
<rect x="322.14" y="510.83" width="8.12" height="8.13" fill="#464600"/>
<rect x="330.26" y="510.83" width="8.12" height="8.13" fill="#5a5a00"/>
<rect x="338.38" y="510.83" width="8.12" height="8.13" fill="#3c3c00"/>
<rect x="346.50" y="510.83" width="8.12" height="8.13" fill="#b4b400"/>
<rect x="354.62" y="510.83" width="8.12" height="8.13" fill="#a0a000"/>
<rect x="362.74" y="510.83" width="8.12" height="8.13" fill="#969600"/>
<rect x="224.70" y="518.97" width="8.12" height="8.13" fill="#ffff00"/>
<rect x="232.82" y="518.97" width="8.12" height="8.13" fill="#ffff00"/>
<rect x="240.94" y="518.97" width="8.12" height="8.13" fill="#ffff00"/>
<rect x="249.06" y="518.97" width="8.12" height="8.13" fill="#ffff00"/>
<rect x="257.18" y="518.97" width="8.12" height="8.13" fill="#ffff00"/>
<rect x="265.30" y="518.97" width="8.12" height="8.13" fill="#ffff00"/>
<rect x="273.42" y="518.97" width="8.12" height="8.13" fill="#ffff00"/>
<rect x="281.54" y="518.97" width="8.12" height="8.13" fill="#ffff00"/>
<rect x="289.66" y="518.97" width="8.12" height="8.13" fill="#ffff00"/>
<rect x="297.78" y="518.97" width="8.12" height="8.13" fill="#ffff00"/>
<rect x="305.90" y="518.97" width="8.12" height="8.13" fill="#ffff00"/>
<rect x="314.02" y="518.97" width="8.12" height="8.13" fill="#ffff00"/>
<rect x="322.14" y="518.97" width="8.12" height="8.13" fill="#ffff00"/>
<rect x="330.26" y="518.97" width="8.12" height="8.13" fill="#ffff00"/>
<rect x="338.38" y="518.97" width="8.12" height="8.13" fill="#ffff00"/>
<rect x="346.50" y="518.97" width="8.12" height="8.13" fill="#ffff00"/>
<rect x="354.62" y="518.97" width="8.12" height="8.13" fill="#ffff00"/>
<rect x="362.74" y="518.97" width="8.12" height="8.13" fill="#ffff00"/>
<rect x="224.70" y="527.11" width="8.12" height="8.13" fill="#0000c8"/>
<rect x="232.82" y="527.11" width="8.12" height="8.13" fill="#0000e6"/>
<rect x="240.94" y="527.11" width="8.12" height="8.13" fill="#0000e6"/>
<rect x="249.06" y="527.11" width="8.12" height="8.13" fill="#0000e6"/>
<rect x="257.18" y="527.11" width="8.12" height="8.13" fill="#0000dc"/>
<rect x="265.30" y="527.11" width="8.12" height="8.13" fill="#0000e6"/>
<rect x="273.42" y="527.11" width="8.12" height="8.13" fill="#0000e6"/>
<rect x="281.54" y="527.11" width="8.12" height="8.13" fill="#0000d2"/>
<rect x="289.66" y="527.11" width="8.12" height="8.13" fill="#0000dc"/>
<rect x="297.78" y="527.11" width="8.12" height="8.13" fill="#0000f0"/>
<rect x="305.90" y="527.11" width="8.12" height="8.13" fill="#0000e6"/>
<rect x="314.02" y="527.11" width="8.12" height="8.13" fill="#0000dc"/>
<rect x="322.14" y="527.11" width="8.12" height="8.13" fill="#000046"/>
<rect x="330.26" y="527.11" width="8.12" height="8.13" fill="#0a0a00"/>
<rect x="338.38" y="527.11" width="8.12" height="8.13" fill="#00003c"/>
<rect x="346.50" y="527.11" width="8.12" height="8.13" fill="#505000"/>
<rect x="354.62" y="527.11" width="8.12" height="8.13" fill="#464600"/>
<rect x="362.74" y="527.11" width="8.12" height="8.13" fill="#5a5a00"/>
<rect x="224.70" y="535.24" width="8.12" height="8.13" fill="#464600"/>
<rect x="232.82" y="535.24" width="8.12" height="8.13" fill="#000000"/>
<rect x="240.94" y="535.24" width="8.12" height="8.13" fill="#00001e"/>
<rect x="249.06" y="535.24" width="8.12" height="8.13" fill="#3c3c00"/>
<rect x="257.18" y="535.24" width="8.12" height="8.13" fill="#141400"/>
<rect x="265.30" y="535.24" width="8.12" height="8.13" fill="#0a0a00"/>
<rect x="273.42" y="535.24" width="8.12" height="8.13" fill="#141400"/>
<rect x="281.54" y="535.24" width="8.12" height="8.13" fill="#282800"/>
<rect x="289.66" y="535.24" width="8.12" height="8.13" fill="#282800"/>
<rect x="297.78" y="535.24" width="8.12" height="8.13" fill="#646400"/>
<rect x="305.90" y="535.24" width="8.12" height="8.13" fill="#464600"/>
<rect x="314.02" y="535.24" width="8.12" height="8.13" fill="#141400"/>
<rect x="322.14" y="535.24" width="8.12" height="8.13" fill="#6e6e00"/>
<rect x="330.26" y="535.24" width="8.12" height="8.13" fill="#5a5a00"/>
<rect x="338.38" y="535.24" width="8.12" height="8.13" fill="#787800"/>
<rect x="346.50" y="535.24" width="8.12" height="8.13" fill="#bebe00"/>
<rect x="354.62" y="535.24" width="8.12" height="8.13" fill="#c8c800"/>
<rect x="362.74" y="535.24" width="8.12" height="8.13" fill="#8c8c00"/>
<rect x="224.70" y="543.38" width="8.12" height="8.13" fill="#0000d2"/>
<rect x="232.82" y="543.38" width="8.12" height="8.13" fill="#0000dc"/>
<rect x="240.94" y="543.38" width="8.12" height="8.13" fill="#0000e6"/>
<rect x="249.06" y="543.38" width="8.12" height="8.13" fill="#0000e6"/>
<rect x="257.18" y="543.38" width="8.12" height="8.13" fill="#0000e6"/>
<rect x="265.30" y="543.38" width="8.12" height="8.13" fill="#0000e6"/>
<rect x="273.42" y="543.38" width="8.12" height="8.13" fill="#0000e6"/>
<rect x="281.54" y="543.38" width="8.12" height="8.13" fill="#0000e6"/>
<rect x="289.66" y="543.38" width="8.12" height="8.13" fill="#0000e6"/>
<rect x="297.78" y="543.38" width="8.12" height="8.13" fill="#00006e"/>
<rect x="305.90" y="543.38" width="8.12" height="8.13" fill="#0000c8"/>
<rect x="314.02" y="543.38" width="8.12" height="8.13" fill="#000078"/>
<rect x="322.14" y="543.38" width="8.12" height="8.13" fill="#5a5a00"/>
<rect x="330.26" y="543.38" width="8.12" height="8.13" fill="#505000"/>
<rect x="338.38" y="543.38" width="8.12" height="8.13" fill="#3c3c00"/>
<rect x="346.50" y="543.38" width="8.12" height="8.13" fill="#6e6e00"/>
<rect x="354.62" y="543.38" width="8.12" height="8.13" fill="#aaaa00"/>
<rect x="362.74" y="543.38" width="8.12" height="8.13" fill="#969600"/>
<rect x="224.70" y="551.51" width="8.12" height="8.13" fill="#0000c8"/>
<rect x="232.82" y="551.51" width="8.12" height="8.13" fill="#0000a0"/>
<rect x="240.94" y="551.51" width="8.12" height="8.13" fill="#0000be"/>
<rect x="249.06" y="551.51" width="8.12" height="8.13" fill="#0000a0"/>
<rect x="257.18" y="551.51" width="8.12" height="8.13" fill="#0000c8"/>
<rect x="265.30" y="551.51" width="8.12" height="8.13" fill="#0000a0"/>
<rect x="273.42" y="551.51" width="8.12" height="8.13" fill="#0000aa"/>
<rect x="281.54" y="551.51" width="8.12" height="8.13" fill="#00003c"/>
<rect x="289.66" y="551.51" width="8.12" height="8.13" fill="#0000a0"/>
<rect x="297.78" y="551.51" width="8.12" height="8.13" fill="#00008c"/>
<rect x="305.90" y="551.51" width="8.12" height="8.13" fill="#000082"/>
<rect x="314.02" y="551.51" width="8.12" height="8.13" fill="#00006e"/>
<rect x="322.14" y="551.51" width="8.12" height="8.13" fill="#00005a"/>
<rect x="330.26" y="551.51" width="8.12" height="8.13" fill="#00006e"/>
<rect x="338.38" y="551.51" width="8.12" height="8.13" fill="#000096"/>
<rect x="346.50" y="551.51" width="8.12" height="8.13" fill="#ffff00"/>
<rect x="354.62" y="551.51" width="8.12" height="8.13" fill="#ffff00"/>
<rect x="362.74" y="551.51" width="8.12" height="8.13" fill="#ffff00"/>
<rect x="224.70" y="559.64" width="8.12" height="8.13" fill="#5a5a00"/>
<rect x="232.82" y="559.64" width="8.12" height="8.13" fill="#646400"/>
<rect x="240.94" y="559.64" width="8.12" height="8.13" fill="#5a5a00"/>
<rect x="249.06" y="559.64" width="8.12" height="8.13" fill="#646400"/>
<rect x="257.18" y="559.64" width="8.12" height="8.13" fill="#bebe00"/>
<rect x="265.30" y="559.64" width="8.12" height="8.13" fill="#aaaa00"/>
<rect x="273.42" y="559.64" width="8.12" height="8.13" fill="#a0a000"/>
<rect x="281.54" y="559.64" width="8.12" height="8.13" fill="#969600"/>
<rect x="289.66" y="559.64" width="8.12" height="8.13" fill="#8c8c00"/>
<rect x="297.78" y="559.64" width="8.12" height="8.13" fill="#ffff00"/>
<rect x="305.90" y="559.64" width="8.12" height="8.13" fill="#ffff00"/>
<rect x="314.02" y="559.64" width="8.12" height="8.13" fill="#ffff00"/>
<rect x="322.14" y="559.64" width="8.12" height="8.13" fill="#ffff00"/>
<rect x="330.26" y="559.64" width="8.12" height="8.13" fill="#ffff00"/>
<rect x="338.38" y="559.64" width="8.12" height="8.13" fill="#ffff00"/>
<rect x="346.50" y="559.64" width="8.12" height="8.13" fill="#ffff00"/>
<rect x="354.62" y="559.64" width="8.12" height="8.13" fill="#ffff00"/>
<rect x="362.74" y="559.64" width="8.12" height="8.13" fill="#ffff00"/>
<rect x="224.70" y="567.78" width="8.12" height="8.13" fill="#0000e6"/>
<rect x="232.82" y="567.78" width="8.12" height="8.13" fill="#0000e6"/>
<rect x="240.94" y="567.78" width="8.12" height="8.13" fill="#0000e6"/>
<rect x="249.06" y="567.78" width="8.12" height="8.13" fill="#0000e6"/>
<rect x="257.18" y="567.78" width="8.12" height="8.13" fill="#0000e6"/>
<rect x="265.30" y="567.78" width="8.12" height="8.13" fill="#0000e6"/>
<rect x="273.42" y="567.78" width="8.12" height="8.13" fill="#0000e6"/>
<rect x="281.54" y="567.78" width="8.12" height="8.13" fill="#0000e6"/>
<rect x="289.66" y="567.78" width="8.12" height="8.13" fill="#0000e6"/>
<rect x="297.78" y="567.78" width="8.12" height="8.13" fill="#000096"/>
<rect x="305.90" y="567.78" width="8.12" height="8.13" fill="#0000aa"/>
<rect x="314.02" y="567.78" width="8.12" height="8.13" fill="#0000a0"/>
<rect x="322.14" y="567.78" width="8.12" height="8.13" fill="#505000"/>
<rect x="330.26" y="567.78" width="8.12" height="8.13" fill="#0a0a00"/>
<rect x="338.38" y="567.78" width="8.12" height="8.13" fill="#282800"/>
<rect x="346.50" y="567.78" width="8.12" height="8.13" fill="#5a5a00"/>
<rect x="354.62" y="567.78" width="8.12" height="8.13" fill="#3c3c00"/>
<rect x="362.74" y="567.78" width="8.12" height="8.13" fill="#464600"/>
<rect x="224.70" y="575.91" width="8.12" height="8.13" fill="#0000d2"/>
<rect x="232.82" y="575.91" width="8.12" height="8.13" fill="#0000d2"/>
<rect x="240.94" y="575.91" width="8.12" height="8.13" fill="#0000d2"/>
<rect x="249.06" y="575.91" width="8.12" height="8.13" fill="#0000d2"/>
<rect x="257.18" y="575.91" width="8.12" height="8.13" fill="#0000d2"/>
<rect x="265.30" y="575.91" width="8.12" height="8.13" fill="#0000d2"/>
<rect x="273.42" y="575.91" width="8.12" height="8.13" fill="#0000d2"/>
<rect x="281.54" y="575.91" width="8.12" height="8.13" fill="#0000d2"/>
<rect x="289.66" y="575.91" width="8.12" height="8.13" fill="#0000d2"/>
<rect x="297.78" y="575.91" width="8.12" height="8.13" fill="#0000f0"/>
<rect x="305.90" y="575.91" width="8.12" height="8.13" fill="#0000f0"/>
<rect x="314.02" y="575.91" width="8.12" height="8.13" fill="#0000f0"/>
<rect x="322.14" y="575.91" width="8.12" height="8.13" fill="#0000c8"/>
<rect x="330.26" y="575.91" width="8.12" height="8.13" fill="#0000be"/>
<rect x="338.38" y="575.91" width="8.12" height="8.13" fill="#0000dc"/>
<rect x="346.50" y="575.91" width="8.12" height="8.13" fill="#000032"/>
<rect x="354.62" y="575.91" width="8.12" height="8.13" fill="#000000"/>
<rect x="362.74" y="575.91" width="8.12" height="8.13" fill="#0000aa"/>
<rect x="224.70" y="584.05" width="8.12" height="8.13" fill="#0a0a00"/>
<rect x="232.82" y="584.05" width="8.12" height="8.13" fill="#0a0a00"/>
<rect x="240.94" y="584.05" width="8.12" height="8.13" fill="#000014"/>
<rect x="249.06" y="584.05" width="8.12" height="8.13" fill="#1e1e00"/>
<rect x="257.18" y="584.05" width="8.12" height="8.13" fill="#1e1e00"/>
<rect x="265.30" y="584.05" width="8.12" height="8.13" fill="#282800"/>
<rect x="273.42" y="584.05" width="8.12" height="8.13" fill="#323200"/>
<rect x="281.54" y="584.05" width="8.12" height="8.13" fill="#323200"/>
<rect x="289.66" y="584.05" width="8.12" height="8.13" fill="#323200"/>
<rect x="297.78" y="584.05" width="8.12" height="8.13" fill="#ffff00"/>
<rect x="305.90" y="584.05" width="8.12" height="8.13" fill="#ffff00"/>
<rect x="314.02" y="584.05" width="8.12" height="8.13" fill="#ffff00"/>
<rect x="322.14" y="584.05" width="8.12" height="8.13" fill="#ffff00"/>
<rect x="330.26" y="584.05" width="8.12" height="8.13" fill="#ffff00"/>
<rect x="338.38" y="584.05" width="8.12" height="8.13" fill="#ffff00"/>
<rect x="346.50" y="584.05" width="8.12" height="8.13" fill="#ffff00"/>
<rect x="354.62" y="584.05" width="8.12" height="8.13" fill="#ffff00"/>
<rect x="362.74" y="584.05" width="8.12" height="8.13" fill="#ffff00"/>
</g>
<g stroke="#000" stroke-opacity="0.55" stroke-width="0.5">
<line x1="224.70" y1="502.70" x2="370.86" y2="502.70"/>
<line x1="224.70" y1="510.83" x2="370.86" y2="510.83"/>
<line x1="224.70" y1="518.97" x2="370.86" y2="518.97"/>
<line x1="224.70" y1="527.11" x2="370.86" y2="527.11"/>
<line x1="224.70" y1="535.24" x2="370.86" y2="535.24"/>
<line x1="224.70" y1="543.38" x2="370.86" y2="543.38"/>
<line x1="224.70" y1="551.51" x2="370.86" y2="551.51"/>
<line x1="224.70" y1="559.64" x2="370.86" y2="559.64"/>
<line x1="224.70" y1="567.78" x2="370.86" y2="567.78"/>
<line x1="224.70" y1="575.91" x2="370.86" y2="575.91"/>
<line x1="224.70" y1="584.05" x2="370.86" y2="584.05"/>
<line x1="224.70" y1="592.18" x2="370.86" y2="592.18"/>
<line x1="224.70" y1="502.70" x2="224.70" y2="592.18"/>
<line x1="232.82" y1="502.70" x2="232.82" y2="592.18"/>
<line x1="240.94" y1="502.70" x2="240.94" y2="592.18"/>
<line x1="249.06" y1="502.70" x2="249.06" y2="592.18"/>
<line x1="257.18" y1="502.70" x2="257.18" y2="592.18"/>
<line x1="265.30" y1="502.70" x2="265.30" y2="592.18"/>
<line x1="273.42" y1="502.70" x2="273.42" y2="592.18"/>
<line x1="281.54" y1="502.70" x2="281.54" y2="592.18"/>
<line x1="289.66" y1="502.70" x2="289.66" y2="592.18"/>
<line x1="297.78" y1="502.70" x2="297.78" y2="592.18"/>
<line x1="305.90" y1="502.70" x2="305.90" y2="592.18"/>
<line x1="314.02" y1="502.70" x2="314.02" y2="592.18"/>
<line x1="322.14" y1="502.70" x2="322.14" y2="592.18"/>
<line x1="330.26" y1="502.70" x2="330.26" y2="592.18"/>
<line x1="338.38" y1="502.70" x2="338.38" y2="592.18"/>
<line x1="346.50" y1="502.70" x2="346.50" y2="592.18"/>
<line x1="354.62" y1="502.70" x2="354.62" y2="592.18"/>
<line x1="362.74" y1="502.70" x2="362.74" y2="592.18"/>
<line x1="370.86" y1="502.70" x2="370.86" y2="592.18"/>
</g>
<g font-size="8.1" fill="#000">
<text x="373.60" y="509.68">CASP7</text>
<text x="373.60" y="517.82">CLEC4A1</text>
<text x="373.60" y="525.95">CLEC7A</text>
<text x="373.60" y="534.09">GPR18</text>
<text x="373.60" y="542.22">IER5</text>
<text x="373.60" y="550.36">MMP3</text>
<text x="373.60" y="558.49">MMP9</text>
<text x="373.60" y="566.63">MMP12</text>
<text x="373.60" y="574.76">MMP14</text>
<text x="373.60" y="582.90">MMP25</text>
<text x="373.60" y="591.03">PDE1B</text>
</g>
<g font-size="7.75" font-weight="bold" fill="#000" text-anchor="start" style="white-space:pre">
<text transform="translate(241.20,499.80) rotate(-37)">Cont_BV2</text>
<text transform="translate(262.20,499.80) rotate(-37)">LPS  2 h_BV2</text>
<text transform="translate(285.00,499.80) rotate(-37)">LPS 4 h_BV2</text>
<text transform="translate(311.80,499.80) rotate(-37)">Cont_PM</text>
<text transform="translate(336.60,499.80) rotate(-37)">LPS 2 h_PM</text>
<text transform="translate(358.50,499.80) rotate(-37)">LPS 4 h_PM</text>
</g>
<defs><linearGradient id="gF" x1="0" x2="1" y1="0" y2="0"><stop offset="0" stop-color="#0000ff"/><stop offset="0.5" stop-color="#000"/><stop offset="1" stop-color="#ffff00"/></linearGradient></defs>
<rect x="236.2" y="595.7" width="109.4" height="5" fill="url(#gF)"/>
<text x="236.00" y="608.20" font-size="5.5" textLength="4" lengthAdjust="spacingAndGlyphs" fill="#3a3a4a">0.1</text>
<text x="289.20" y="608.20" font-size="5.5" textLength="4" lengthAdjust="spacingAndGlyphs" fill="#3a3a4a">3.0</text>
<text x="341.40" y="608.20" font-size="5.5" textLength="4" lengthAdjust="spacingAndGlyphs" fill="#3a3a4a">6.0</text>
<text x="416.80" y="14.80" font-size="19.6" font-weight="bold" text-anchor="start" fill="#000" >c</text>
<g fill="#000">
<rect x="460.60" y="14.80" width="1.3" height="102.00" fill="#8a8a8a"/>
<rect x="460.60" y="115.90" width="97.90" height="1.0" fill="#777"/>
<rect x="458.70" y="14.80" width="2.4" height="0.8" fill="#666"/>
<text x="446.30" y="17.22" font-size="5.6" font-weight="bold" textLength="10.5" lengthAdjust="spacingAndGlyphs" fill="#000" stroke="#000" stroke-width="0.25">500</text>
<rect x="458.70" y="34.50" width="2.4" height="0.8" fill="#666"/>
<text x="446.30" y="36.92" font-size="5.6" font-weight="bold" textLength="10.5" lengthAdjust="spacingAndGlyphs" fill="#000" stroke="#000" stroke-width="0.25">400</text>
<rect x="458.70" y="55.00" width="2.4" height="0.8" fill="#666"/>
<text x="446.30" y="57.42" font-size="5.6" font-weight="bold" textLength="10.5" lengthAdjust="spacingAndGlyphs" fill="#000" stroke="#000" stroke-width="0.25">300</text>
<rect x="458.70" y="75.50" width="2.4" height="0.8" fill="#666"/>
<text x="446.30" y="77.92" font-size="5.6" font-weight="bold" textLength="10.5" lengthAdjust="spacingAndGlyphs" fill="#000" stroke="#000" stroke-width="0.25">200</text>
<rect x="458.70" y="95.80" width="2.4" height="0.8" fill="#666"/>
<text x="446.30" y="98.22" font-size="5.6" font-weight="bold" textLength="10.5" lengthAdjust="spacingAndGlyphs" fill="#000" stroke="#000" stroke-width="0.25">100</text>
<rect x="458.70" y="116.00" width="2.4" height="0.8" fill="#666"/>
<text x="453.30" y="118.42" font-size="5.6" font-weight="bold" textLength="3.5" lengthAdjust="spacingAndGlyphs" fill="#000" stroke="#000" stroke-width="0.25">0</text>
<rect x="464.40" y="105.10" width="10.00" height="11.30"/>
<rect x="480.40" y="77.00" width="10.00" height="39.40"/>
<rect x="497.00" y="74.60" width="10.00" height="41.80"/>
<rect x="513.00" y="79.90" width="10.00" height="36.50"/>
<rect x="529.30" y="83.60" width="10.20" height="32.80"/>
<rect x="545.80" y="25.20" width="10.00" height="91.20"/>
</g>
<g fill="#000">
<rect x="460.60" y="123.00" width="1.3" height="103.00" fill="#8a8a8a"/>
<rect x="460.60" y="225.10" width="97.90" height="1.0" fill="#777"/>
<rect x="458.70" y="123.00" width="2.4" height="0.8" fill="#666"/>
<text x="446.30" y="125.42" font-size="5.6" font-weight="bold" textLength="10.5" lengthAdjust="spacingAndGlyphs" fill="#000" stroke="#000" stroke-width="0.25">800</text>
<rect x="458.70" y="148.50" width="2.4" height="0.8" fill="#666"/>
<text x="446.30" y="150.92" font-size="5.6" font-weight="bold" textLength="10.5" lengthAdjust="spacingAndGlyphs" fill="#000" stroke="#000" stroke-width="0.25">600</text>
<rect x="458.70" y="174.00" width="2.4" height="0.8" fill="#666"/>
<text x="446.30" y="176.42" font-size="5.6" font-weight="bold" textLength="10.5" lengthAdjust="spacingAndGlyphs" fill="#000" stroke="#000" stroke-width="0.25">400</text>
<rect x="458.70" y="199.70" width="2.4" height="0.8" fill="#666"/>
<text x="446.30" y="202.12" font-size="5.6" font-weight="bold" textLength="10.5" lengthAdjust="spacingAndGlyphs" fill="#000" stroke="#000" stroke-width="0.25">200</text>
<rect x="458.70" y="225.20" width="2.4" height="0.8" fill="#666"/>
<text x="453.30" y="227.62" font-size="5.6" font-weight="bold" textLength="3.5" lengthAdjust="spacingAndGlyphs" fill="#000" stroke="#000" stroke-width="0.25">0</text>
<rect x="463.30" y="216.10" width="10.00" height="9.50"/>
<rect x="479.60" y="190.90" width="10.00" height="34.70"/>
<rect x="496.20" y="215.60" width="10.00" height="10.00"/>
<rect x="512.70" y="210.10" width="10.00" height="15.50"/>
<rect x="529.00" y="186.20" width="10.30" height="39.40"/>
<rect x="545.80" y="126.30" width="10.00" height="99.30"/>
</g>
<g fill="#000">
<rect x="460.60" y="233.30" width="1.3" height="101.10" fill="#8a8a8a"/>
<rect x="460.60" y="333.50" width="99.40" height="1.0" fill="#777"/>
<rect x="458.70" y="233.30" width="2.4" height="0.8" fill="#666"/>
<text x="446.30" y="235.72" font-size="5.6" font-weight="bold" textLength="10.5" lengthAdjust="spacingAndGlyphs" fill="#000" stroke="#000" stroke-width="0.25">500</text>
<rect x="458.70" y="253.50" width="2.4" height="0.8" fill="#666"/>
<text x="446.30" y="255.92" font-size="5.6" font-weight="bold" textLength="10.5" lengthAdjust="spacingAndGlyphs" fill="#000" stroke="#000" stroke-width="0.25">400</text>
<rect x="458.70" y="273.70" width="2.4" height="0.8" fill="#666"/>
<text x="446.30" y="276.12" font-size="5.6" font-weight="bold" textLength="10.5" lengthAdjust="spacingAndGlyphs" fill="#000" stroke="#000" stroke-width="0.25">300</text>
<rect x="458.70" y="293.70" width="2.4" height="0.8" fill="#666"/>
<text x="446.30" y="296.12" font-size="5.6" font-weight="bold" textLength="10.5" lengthAdjust="spacingAndGlyphs" fill="#000" stroke="#000" stroke-width="0.25">200</text>
<rect x="458.70" y="313.70" width="2.4" height="0.8" fill="#666"/>
<text x="446.30" y="316.12" font-size="5.6" font-weight="bold" textLength="10.5" lengthAdjust="spacingAndGlyphs" fill="#000" stroke="#000" stroke-width="0.25">100</text>
<rect x="458.70" y="333.60" width="2.4" height="0.8" fill="#666"/>
<text x="453.30" y="336.02" font-size="5.6" font-weight="bold" textLength="3.5" lengthAdjust="spacingAndGlyphs" fill="#000" stroke="#000" stroke-width="0.25">0</text>
<rect x="462.80" y="328.20" width="10.50" height="5.80"/>
<rect x="479.60" y="325.60" width="10.50" height="8.40"/>
<rect x="496.40" y="326.70" width="10.60" height="7.30"/>
<rect x="513.30" y="315.40" width="10.50" height="18.60"/>
<rect x="530.00" y="320.90" width="10.60" height="13.10"/>
<rect x="547.20" y="249.20" width="10.20" height="84.80"/>
</g>
<text x="490.00" y="23.10" font-size="10" font-weight="bold" text-anchor="middle" fill="#000" >KDM4A</text>
<text x="491.00" y="156.00" font-size="10" font-weight="bold" text-anchor="middle" fill="#000" >NSD3</text>
<rect x="436.1" y="17" width="2" height="316.5" fill="#000"/>
<path d="M433 22.6 L437.1 16.3 L441.2 22.6" fill="none" stroke="#000" stroke-width="2.2" stroke-linejoin="miter"/>
<text transform="translate(432.60,173.60) rotate(-90)" font-size="10.2" font-weight="bold" text-anchor="middle" fill="#000">Expression (Read count)</text>
<g font-size="7.3" font-weight="bold" fill="#000" text-anchor="end" style="white-space:pre">
<text transform="translate(467.80,343.40) rotate(-45)">Con_BV-2</text>
<text transform="translate(485.20,343.40) rotate(-45)">Con_PM</text>
<text transform="translate(501.90,344.00) rotate(-45)">LPS 2 h_BV-2</text>
<text transform="translate(519.90,344.00) rotate(-45)">LPS 4 h_BV-2</text>
<text transform="translate(537.70,344.00) rotate(-45)">LPS 2 h_PM</text>
<text transform="translate(554.70,341.50) rotate(-45)">LPS 4 h_PM</text>
</g>
<text x="577.30" y="15.00" font-size="19.6" font-weight="bold" text-anchor="start" fill="#000" >d</text>
<g fill="#000">
<rect x="597.70" y="80.60" width="0.6" height="71.90" fill="#666"/>
<rect x="597.70" y="152.20" width="80.60" height="0.6" fill="#666"/>
<rect x="596.20" y="80.65" width="1.8" height="0.5" fill="#555"/>
<text x="588.60" y="82.25" font-size="3.8" font-weight="bold" textLength="6.2" lengthAdjust="spacingAndGlyphs" fill="#111" stroke="#111" stroke-width="0.15">21</text>
<rect x="596.20" y="90.35" width="1.8" height="0.5" fill="#555"/>
<text x="588.60" y="91.95" font-size="3.8" font-weight="bold" textLength="6.2" lengthAdjust="spacingAndGlyphs" fill="#111" stroke="#111" stroke-width="0.15">18</text>
<rect x="596.20" y="99.85" width="1.8" height="0.5" fill="#555"/>
<text x="588.60" y="101.45" font-size="3.8" font-weight="bold" textLength="6.2" lengthAdjust="spacingAndGlyphs" fill="#111" stroke="#111" stroke-width="0.15">15</text>
<rect x="596.20" y="109.75" width="1.8" height="0.5" fill="#555"/>
<text x="588.60" y="111.35" font-size="3.8" font-weight="bold" textLength="6.2" lengthAdjust="spacingAndGlyphs" fill="#111" stroke="#111" stroke-width="0.15">12</text>
<rect x="596.20" y="119.55" width="1.8" height="0.5" fill="#555"/>
<text x="591.70" y="121.15" font-size="3.8" font-weight="bold" textLength="3.1" lengthAdjust="spacingAndGlyphs" fill="#111" stroke="#111" stroke-width="0.15">9</text>
<rect x="596.20" y="129.25" width="1.8" height="0.5" fill="#555"/>
<text x="591.70" y="130.85" font-size="3.8" font-weight="bold" textLength="3.1" lengthAdjust="spacingAndGlyphs" fill="#111" stroke="#111" stroke-width="0.15">6</text>
<rect x="596.20" y="139.05" width="1.8" height="0.5" fill="#555"/>
<text x="591.70" y="140.65" font-size="3.8" font-weight="bold" textLength="3.1" lengthAdjust="spacingAndGlyphs" fill="#111" stroke="#111" stroke-width="0.15">3</text>
<rect x="596.20" y="148.75" width="1.8" height="0.5" fill="#555"/>
<text x="591.70" y="150.35" font-size="3.8" font-weight="bold" textLength="3.1" lengthAdjust="spacingAndGlyphs" fill="#111" stroke="#111" stroke-width="0.15">0</text>
<rect x="603.00" y="145.70" width="10.10" height="6.80"/>
<rect x="623.10" y="145.70" width="10.10" height="6.80"/>
<rect x="643.20" y="90.40" width="10.00" height="62.10"/>
<rect x="663.10" y="90.60" width="10.20" height="61.90"/>
<rect x="647.80" y="83.70" width="0.8" height="6.70" fill="#333"/>
<rect x="646.60" y="83.40" width="3.2" height="0.7" fill="#333"/>
<rect x="667.80" y="83.30" width="0.8" height="7.30" fill="#333"/>
<rect x="666.60" y="83.00" width="3.2" height="0.7" fill="#333"/>
</g>
<g fill="#000">
<rect x="597.30" y="171.90" width="0.6" height="73.40" fill="#666"/>
<rect x="597.30" y="245.00" width="87.40" height="0.6" fill="#666"/>
<rect x="595.80" y="171.65" width="1.8" height="0.5" fill="#555"/>
<text x="588.20" y="173.25" font-size="3.8" font-weight="bold" textLength="6.2" lengthAdjust="spacingAndGlyphs" fill="#111" stroke="#111" stroke-width="0.15">24</text>
<rect x="595.80" y="180.45" width="1.8" height="0.5" fill="#555"/>
<text x="588.20" y="182.05" font-size="3.8" font-weight="bold" textLength="6.2" lengthAdjust="spacingAndGlyphs" fill="#111" stroke="#111" stroke-width="0.15">21</text>
<rect x="595.80" y="189.15" width="1.8" height="0.5" fill="#555"/>
<text x="588.20" y="190.75" font-size="3.8" font-weight="bold" textLength="6.2" lengthAdjust="spacingAndGlyphs" fill="#111" stroke="#111" stroke-width="0.15">18</text>
<rect x="595.80" y="198.15" width="1.8" height="0.5" fill="#555"/>
<text x="588.20" y="199.75" font-size="3.8" font-weight="bold" textLength="6.2" lengthAdjust="spacingAndGlyphs" fill="#111" stroke="#111" stroke-width="0.15">15</text>
<rect x="595.80" y="206.85" width="1.8" height="0.5" fill="#555"/>
<text x="588.20" y="208.45" font-size="3.8" font-weight="bold" textLength="6.2" lengthAdjust="spacingAndGlyphs" fill="#111" stroke="#111" stroke-width="0.15">12</text>
<rect x="595.80" y="215.65" width="1.8" height="0.5" fill="#555"/>
<text x="591.30" y="217.25" font-size="3.8" font-weight="bold" textLength="3.1" lengthAdjust="spacingAndGlyphs" fill="#111" stroke="#111" stroke-width="0.15">9</text>
<rect x="595.80" y="224.35" width="1.8" height="0.5" fill="#555"/>
<text x="591.30" y="225.95" font-size="3.8" font-weight="bold" textLength="3.1" lengthAdjust="spacingAndGlyphs" fill="#111" stroke="#111" stroke-width="0.15">6</text>
<rect x="595.80" y="233.35" width="1.8" height="0.5" fill="#555"/>
<text x="591.30" y="234.95" font-size="3.8" font-weight="bold" textLength="3.1" lengthAdjust="spacingAndGlyphs" fill="#111" stroke="#111" stroke-width="0.15">3</text>
<rect x="595.80" y="242.05" width="1.8" height="0.5" fill="#555"/>
<text x="591.30" y="243.65" font-size="3.8" font-weight="bold" textLength="3.1" lengthAdjust="spacingAndGlyphs" fill="#111" stroke="#111" stroke-width="0.15">0</text>
<rect x="602.70" y="239.40" width="11.30" height="5.90"/>
<rect x="624.00" y="239.40" width="11.40" height="5.90"/>
<rect x="645.80" y="238.00" width="11.30" height="7.30"/>
<rect x="667.30" y="181.40" width="11.30" height="63.90"/>
<rect x="672.60" y="175.20" width="0.8" height="6.20" fill="#333"/>
<rect x="671.40" y="174.90" width="3.2" height="0.7" fill="#333"/>
</g>
<text x="621.80" y="113.50" font-size="10.2" font-weight="bold" text-anchor="middle" fill="#000" >KDM4A</text>
<text x="638.00" y="201.50" font-size="10.2" font-weight="bold" text-anchor="middle" fill="#000" >SETDB2</text>
<g fill="none" stroke="#444" stroke-width="0.7">
<path d="M603.4 80.3 V70.8 Q603.4 69.7 604.5 69.7 H645.2 Q646.3 69.7 646.3 70.8 V80.3"/>
<path d="M627.9 63.9 V54 Q627.9 52.9 629 52.9 H666.2 Q667.3 52.9 667.3 54 V63.9"/>
<path d="M635.2 170.4 V161.8 Q635.2 160.7 636.3 160.7 H673.5 Q674.6 160.7 674.6 161.8 V170.4"/>
</g>
<text x="625.00" y="70.90" font-size="6.5" font-weight="bold" text-anchor="middle" fill="#222" style="white-space:pre">*  *</text>
<text x="649.00" y="53.30" font-size="6.5" font-weight="bold" text-anchor="middle" fill="#222" style="white-space:pre">*  *</text>
<text x="655.00" y="160.60" font-size="6.5" font-weight="bold" text-anchor="middle" fill="#222" >*</text>
<rect x="581.4" y="79" width="1.9" height="169.2" fill="#000"/>
<path d="M578 83 L582.35 77.6 L586.7 83" fill="none" stroke="#000" stroke-width="1.9"/>
<text transform="translate(575.0,165.8) rotate(-90)" font-size="7.8" text-anchor="middle" textLength="81.8" lengthAdjust="spacingAndGlyphs" fill="#000" stroke="#000" stroke-width="0.36">Relative expression</text>
<g font-size="7.3" font-weight="bold" fill="#000" text-anchor="end" style="white-space:pre">
<text transform="translate(611.50,253.50) rotate(-45)">Con_BV2</text>
<text transform="translate(631.50,251.50) rotate(-45)">Con_PM</text>
<text transform="translate(653.30,254.50) rotate(-45)">LPS 4h_BV2</text>
<text transform="translate(678.80,251.50) rotate(-45)">LPS 4h_PM</text>
</g>
<text x="190.2" y="14.4" font-size="19.6" font-weight="bold">b</text>
<text transform="translate(203.3,73.2) rotate(-90)" font-size="10.2" font-weight="bold" text-anchor="middle" fill="#000">KDM4A</text>
<rect x="208.3" y="15" width="201.50" height="110.20" fill="#fff" stroke="#505050" stroke-width="1.1"/>
<line x1="247.1" y1="15.5" x2="247.1" y2="124.7" stroke="#f7a0a8" stroke-width="0.6" stroke-dasharray="1.2 0.8"/>
<line x1="247.1" y1="39.25" x2="409.40000000000003" y2="39.25" stroke="#7a7a7a" stroke-width="0.6"/>
<line x1="247.1" y1="54.45" x2="409.40000000000003" y2="54.45" stroke="#7a7a7a" stroke-width="0.6"/>
<line x1="247.1" y1="70.05" x2="409.40000000000003" y2="70.05" stroke="#7a7a7a" stroke-width="0.6"/>
<line x1="247.1" y1="85.65" x2="409.40000000000003" y2="85.65" stroke="#7a7a7a" stroke-width="0.6"/>
<line x1="247.1" y1="101.25" x2="409.40000000000003" y2="101.25" stroke="#7a7a7a" stroke-width="0.6"/>
<line x1="247.1" y1="116.55" x2="409.40000000000003" y2="116.55" stroke="#7a7a7a" stroke-width="0.6"/>
<g font-size="3.6" text-anchor="end">
<text x="246.29999999999998" y="19.30" fill="#444">Scale</text>
<text x="246.29999999999998" y="23.20" fill="#444">chr4:</text>
<text x="246.29999999999998" y="27.50" fill="#444">50 _</text>
<text x="246.29999999999998" y="39.10" fill="#444">0 _</text>
<text x="246.29999999999998" y="42.40" fill="#3a3ad8">50 _</text>
<text x="246.29999999999998" y="54.30" fill="#3a3ad8">0 _</text>
<text x="246.29999999999998" y="58.00" fill="#3a3ad8">50 _</text>
<text x="246.29999999999998" y="69.90" fill="#3a3ad8">0 _</text>
<text x="246.29999999999998" y="73.40" fill="#444">50 _</text>
<text x="246.29999999999998" y="85.50" fill="#444">0 _</text>
<text x="246.29999999999998" y="88.80" fill="#f03030">50 _</text>
<text x="246.29999999999998" y="101.10" fill="#f03030">0 _</text>
<text x="246.29999999999998" y="104.40" fill="#f03030">50 _</text>
<text x="246.29999999999998" y="116.40" fill="#f03030">0 _</text>
</g>
<g font-size="3.6" text-anchor="start">
<text x="209.5" y="32.20" fill="#444" textLength="36.8" lengthAdjust="spacingAndGlyphs">BV2-Cont Total Tags =</text>
<text x="209.5" y="48.00" fill="#3a3ad8" textLength="36.8" lengthAdjust="spacingAndGlyphs">BV2-LPS-2H Total Tag</text>
<text x="209.5" y="63.20" fill="#3a3ad8" textLength="36.8" lengthAdjust="spacingAndGlyphs">BV2-LPS-4H Total Tag</text>
<text x="209.5" y="78.60" fill="#444" textLength="36.8" lengthAdjust="spacingAndGlyphs">PMG-Cont Total Tags</text>
<text x="209.5" y="93.50" fill="#f03030" textLength="36.8" lengthAdjust="spacingAndGlyphs">PMG-LPS-2H Total Ta</text>
<text x="209.5" y="109.20" fill="#f03030" textLength="36.8" lengthAdjust="spacingAndGlyphs">PMG-LPS-4H Total Ta</text>
</g>
<g font-size="3.75">
<text x="291.5" y="27.59" fill="#444">BV2-Cont Total Tags = 1.39e+07, normalized to 1.00e+07</text>
<text x="291.5" y="42.99" fill="#3a3ad8">BV2-LPS-2H Total Tags = 1.72e+07, normalized to 1.00e+07</text>
<text x="291.5" y="58.59" fill="#3a3ad8">BV2-LPS-4H Total Tags = 1.58e+07, normalized to 1.00e+07</text>
<text x="291.5" y="73.99" fill="#444">PMG-Cont Total Tags = 1.60e+07, normalized to 1.00e+07</text>
<text x="291.5" y="89.39" fill="#f03030">PMG-LPS-2H Total Tags = 1.73e+07, normalized to 1.00e+07</text>
<text x="291.5" y="104.99" fill="#f03030">PMG-LPS-4H Total Tags = 1.60e+07, normalized to 1.00e+07</text>
</g>
<g font-size="3.82" text-anchor="end" fill="#2a2a2a">
<text x="262" y="23.20">|</text>
<text x="290.9" y="23.20">116,150,000|</text>
<text x="320.2" y="23.20">116,160,000|</text>
<text x="349.5" y="23.20">116,170,000|</text>
<text x="378.8" y="23.20">116,180,000|</text>
<text x="408" y="23.20">116,190,000|</text>
</g>
<text x="310" y="19.00" font-size="3.24" text-anchor="end" fill="#444">20 kb</text>
<line x1="311.4" y1="17.9" x2="370.9" y2="17.9" stroke="#777" stroke-width="0.5"/>
<line x1="311.4" y1="16.9" x2="311.4" y2="18.9" stroke="#777" stroke-width="0.5"/>
<line x1="370.9" y1="16.9" x2="370.9" y2="18.9" stroke="#777" stroke-width="0.5"/>
<text x="378" y="18.70" font-size="2.88" fill="#444">mm10</text>
<path d="M249.0 39.2v-0.6h0.7v0.6zM249.8 39.2v-0.7h0.7v0.7zM251.4 39.2v-0.3h0.7v0.3zM253.0 39.2v-0.4h0.7v0.4zM254.6 39.2v-0.8h0.7v0.8zM255.4 39.2v-0.7h0.7v0.7zM256.2 39.2v-0.7h0.7v0.7zM260.2 39.2v-0.7h0.7v0.7zM261.8 39.2v-0.3h0.7v0.3zM263.4 39.2v-0.7h0.7v0.7zM266.6 39.2v-0.8h0.7v0.8zM267.4 39.2v-0.9h0.7v0.9zM269.0 39.2v-0.4h0.7v0.4zM269.8 39.2v-0.9h0.7v0.9zM270.6 39.2v-0.7h0.7v0.7zM271.4 39.2v-0.6h0.7v0.6zM272.2 39.2v-0.5h0.7v0.5zM279.4 39.2v-0.8h0.7v0.8zM283.4 39.2v-0.8h0.7v0.8zM285.0 39.2v-0.3h0.7v0.3zM287.4 39.2v-0.8h0.7v0.8zM288.2 39.2v-0.4h0.7v0.4zM289.0 39.2v-0.8h0.7v0.8zM290.6 39.2v-0.7h0.7v0.7zM291.4 39.2v-0.7h0.7v0.7zM292.2 39.2v-0.8h0.7v0.8zM295.4 39.2v-0.3h0.7v0.3zM297.0 39.2v-0.4h0.7v0.4zM297.8 39.2v-0.7h0.7v0.7zM298.6 39.2v-0.3h0.7v0.3zM251.75 39.2L252.10 37.6L253.60 36.5L255.40 36.5L256.90 37.6L257.25 39.2zM267.65 39.2L268.00 38.1L268.22 37.4L268.58 37.4L268.80 38.1L269.15 39.2zM271.35 39.2L271.70 38.1L271.92 37.4L272.28 37.4L272.50 38.1L272.85 39.2zM311.2 39.2v-0.4h0.7v0.4zM314.4 39.2v-0.5h0.7v0.5zM316.0 39.2v-0.6h0.7v0.6zM317.6 39.2v-0.6h0.7v0.6zM322.4 39.2v-0.3h0.7v0.3zM333.6 39.2v-0.6h0.7v0.6zM336.0 39.2v-0.7h0.7v0.7zM336.8 39.2v-0.3h0.7v0.3zM339.2 39.2v-0.4h0.7v0.4zM343.2 39.2v-0.4h0.7v0.4zM346.4 39.2v-0.3h0.7v0.3zM348.0 39.2v-0.7h0.7v0.7zM349.6 39.2v-0.4h0.7v0.4zM353.6 39.2v-0.4h0.7v0.4zM360.0 39.2v-0.2h0.7v0.2zM365.6 39.2v-0.7h0.7v0.7zM370.4 39.2v-0.3h0.7v0.3zM373.6 39.2v-0.7h0.7v0.7zM378.4 39.2v-0.7h0.7v0.7zM379.2 39.2v-0.4h0.7v0.4zM388.8 39.2v-0.5h0.7v0.5zM390.4 39.2v-0.7h0.7v0.7zM393.6 39.2v-0.6h0.7v0.6z" fill="#111"/>
<path d="M249.0 54.4v-0.5h0.7v0.5zM249.8 54.4v-0.7h0.7v0.7zM250.6 54.4v-0.6h0.7v0.6zM252.2 54.4v-0.3h0.7v0.3zM253.0 54.4v-0.4h0.7v0.4zM253.8 54.4v-1.0h0.7v1.0zM255.4 54.4v-0.7h0.7v0.7zM256.2 54.4v-0.5h0.7v0.5zM257.0 54.4v-0.8h0.7v0.8zM257.8 54.4v-0.6h0.7v0.6zM258.6 54.4v-0.5h0.7v0.5zM259.4 54.4v-0.7h0.7v0.7zM261.0 54.4v-0.4h0.7v0.4zM261.8 54.4v-0.6h0.7v0.6zM264.2 54.4v-0.9h0.7v0.9zM265.8 54.4v-0.6h0.7v0.6zM266.6 54.4v-0.8h0.7v0.8zM267.4 54.4v-0.8h0.7v0.8zM268.2 54.4v-0.5h0.7v0.5zM269.0 54.4v-0.8h0.7v0.8zM269.8 54.4v-0.6h0.7v0.6zM270.6 54.4v-0.9h0.7v0.9zM272.2 54.4v-0.9h0.7v0.9zM273.8 54.4v-0.6h0.7v0.6zM274.6 54.4v-0.9h0.7v0.9zM279.4 54.4v-0.4h0.7v0.4zM280.2 54.4v-0.3h0.7v0.3zM281.0 54.4v-0.8h0.7v0.8zM281.8 54.4v-0.4h0.7v0.4zM282.6 54.4v-0.9h0.7v0.9zM283.4 54.4v-0.3h0.7v0.3zM285.0 54.4v-0.9h0.7v0.9zM288.2 54.4v-0.9h0.7v0.9zM289.0 54.4v-0.8h0.7v0.8zM289.8 54.4v-0.8h0.7v0.8zM290.6 54.4v-0.8h0.7v0.8zM292.2 54.4v-0.5h0.7v0.5zM293.0 54.4v-0.9h0.7v0.9zM293.8 54.4v-0.4h0.7v0.4zM294.6 54.4v-0.7h0.7v0.7zM296.2 54.4v-0.6h0.7v0.6zM297.0 54.4v-0.5h0.7v0.5zM297.8 54.4v-0.4h0.7v0.4zM298.6 54.4v-1.0h0.7v1.0zM299.4 54.4v-0.8h0.7v0.8zM252.25 54.4L252.60 48.8L252.95 44.4L253.45 44.4L253.80 48.8L254.15 54.4zM253.55 54.4L253.90 50.2L254.18 47.1L254.62 47.1L254.90 50.2L255.25 54.4zM254.65 54.4L255.00 47.9L255.35 42.8L255.85 42.8L256.20 47.9L256.55 54.4zM255.85 54.4L256.20 51.4L256.48 49.1L256.92 49.1L257.20 51.4L257.55 54.4zM257.65 54.4L258.00 51.9L258.28 50.1L258.72 50.1L259.00 51.9L259.35 54.4zM267.65 54.4L268.00 51.4L268.22 49.1L268.58 49.1L268.80 51.4L269.15 54.4zM271.55 54.4L271.90 50.2L272.18 47.1L272.62 47.1L272.90 50.2L273.25 54.4zM275.0 54.4v-0.7h0.7v0.7zM280.6 54.4v-0.3h0.7v0.3zM285.4 54.4v-0.4h0.7v0.4zM286.2 54.4v-0.6h0.7v0.6zM287.8 54.4v-0.7h0.7v0.7zM289.4 54.4v-0.7h0.7v0.7zM292.6 54.4v-0.4h0.7v0.4zM293.4 54.4v-0.6h0.7v0.6zM295.0 54.4v-0.5h0.7v0.5zM297.4 54.4v-0.9h0.7v0.9zM308.6 54.4v-0.4h0.7v0.4zM312.6 54.4v-0.4h0.7v0.4zM313.4 54.4v-0.4h0.7v0.4zM316.6 54.4v-0.8h0.7v0.8zM319.8 54.4v-0.3h0.7v0.3zM321.4 54.4v-0.5h0.7v0.5zM323.8 54.4v-0.5h0.7v0.5zM326.2 54.4v-0.6h0.7v0.6zM329.4 54.4v-0.4h0.7v0.4zM331.0 54.4v-0.8h0.7v0.8zM332.6 54.4v-0.9h0.7v0.9zM335.8 54.4v-0.7h0.7v0.7zM338.2 54.4v-0.7h0.7v0.7zM341.4 54.4v-0.6h0.7v0.6zM345.4 54.4v-0.7h0.7v0.7zM347.0 54.4v-0.8h0.7v0.8zM348.6 54.4v-0.9h0.7v0.9zM349.4 54.4v-0.5h0.7v0.5zM355.0 54.4v-0.3h0.7v0.3zM359.8 54.4v-0.5h0.7v0.5zM361.4 54.4v-0.6h0.7v0.6zM362.2 54.4v-0.8h0.7v0.8zM368.6 54.4v-0.4h0.7v0.4zM369.4 54.4v-0.3h0.7v0.3zM371.8 54.4v-0.4h0.7v0.4zM376.6 54.4v-0.5h0.7v0.5zM377.4 54.4v-0.6h0.7v0.6zM379.0 54.4v-0.4h0.7v0.4zM380.6 54.4v-0.8h0.7v0.8zM387.8 54.4v-0.8h0.7v0.8zM391.0 54.4v-0.8h0.7v0.8z" fill="#0000f5"/>
<path d="M249.0 70.0v-0.6h0.7v0.6zM249.8 70.0v-0.6h0.7v0.6zM251.4 70.0v-0.6h0.7v0.6zM253.8 70.0v-0.8h0.7v0.8zM255.4 70.0v-0.5h0.7v0.5zM256.2 70.0v-0.3h0.7v0.3zM258.6 70.0v-0.8h0.7v0.8zM260.2 70.0v-0.8h0.7v0.8zM264.2 70.0v-0.8h0.7v0.8zM266.6 70.0v-0.7h0.7v0.7zM267.4 70.0v-0.3h0.7v0.3zM268.2 70.0v-0.3h0.7v0.3zM269.0 70.0v-0.4h0.7v0.4zM269.8 70.0v-0.7h0.7v0.7zM271.4 70.0v-0.7h0.7v0.7zM272.2 70.0v-0.6h0.7v0.6zM273.8 70.0v-0.4h0.7v0.4zM276.2 70.0v-0.5h0.7v0.5zM278.6 70.0v-0.3h0.7v0.3zM279.4 70.0v-0.8h0.7v0.8zM280.2 70.0v-0.6h0.7v0.6zM281.0 70.0v-0.4h0.7v0.4zM281.8 70.0v-0.5h0.7v0.5zM282.6 70.0v-0.3h0.7v0.3zM283.4 70.0v-0.4h0.7v0.4zM284.2 70.0v-0.3h0.7v0.3zM285.0 70.0v-0.6h0.7v0.6zM285.8 70.0v-0.7h0.7v0.7zM286.6 70.0v-0.5h0.7v0.5zM287.4 70.0v-0.3h0.7v0.3zM289.0 70.0v-0.3h0.7v0.3zM289.8 70.0v-0.4h0.7v0.4zM291.4 70.0v-0.3h0.7v0.3zM292.2 70.0v-0.7h0.7v0.7zM293.0 70.0v-0.8h0.7v0.8zM293.8 70.0v-0.9h0.7v0.9zM294.6 70.0v-0.4h0.7v0.4zM295.4 70.0v-0.8h0.7v0.8zM297.0 70.0v-0.3h0.7v0.3zM252.30 70.0L252.65 67.2L253.03 65.2L253.57 65.2L253.95 67.2L254.30 70.0zM253.80 70.0L254.15 66.8L254.53 64.4L255.07 64.4L255.45 66.8L255.80 70.0zM255.35 70.0L255.70 67.2L255.98 65.2L256.42 65.2L256.70 67.2L257.05 70.0zM267.65 70.0L268.00 68.6L268.22 67.7L268.58 67.7L268.80 68.6L269.15 70.0zM271.55 70.0L271.90 67.1L272.18 64.9L272.62 64.9L272.90 67.1L273.25 70.0zM275.0 70.0v-0.3h0.7v0.3zM275.8 70.0v-0.3h0.7v0.3zM276.6 70.0v-0.3h0.7v0.3zM279.0 70.0v-0.8h0.7v0.8zM283.0 70.0v-0.4h0.7v0.4zM285.4 70.0v-0.4h0.7v0.4zM287.0 70.0v-0.5h0.7v0.5zM290.2 70.0v-0.7h0.7v0.7zM295.8 70.0v-0.7h0.7v0.7zM297.4 70.0v-0.3h0.7v0.3zM302.2 70.0v-0.6h0.7v0.6zM303.0 70.0v-0.5h0.7v0.5zM305.4 70.0v-0.4h0.7v0.4zM313.4 70.0v-0.5h0.7v0.5zM315.0 70.0v-0.6h0.7v0.6zM315.8 70.0v-0.3h0.7v0.3zM317.4 70.0v-0.3h0.7v0.3zM318.2 70.0v-0.6h0.7v0.6zM319.8 70.0v-0.4h0.7v0.4zM321.4 70.0v-0.6h0.7v0.6zM326.2 70.0v-0.3h0.7v0.3zM327.0 70.0v-0.7h0.7v0.7zM327.8 70.0v-0.3h0.7v0.3zM329.4 70.0v-0.7h0.7v0.7zM330.2 70.0v-0.5h0.7v0.5zM331.0 70.0v-0.7h0.7v0.7zM337.4 70.0v-0.7h0.7v0.7zM339.8 70.0v-0.5h0.7v0.5zM342.2 70.0v-0.4h0.7v0.4zM343.8 70.0v-0.5h0.7v0.5zM347.8 70.0v-0.4h0.7v0.4zM351.0 70.0v-0.4h0.7v0.4zM351.8 70.0v-0.8h0.7v0.8zM364.6 70.0v-0.8h0.7v0.8zM365.4 70.0v-0.3h0.7v0.3zM367.0 70.0v-0.5h0.7v0.5zM368.6 70.0v-0.7h0.7v0.7zM369.4 70.0v-0.5h0.7v0.5zM372.6 70.0v-0.3h0.7v0.3zM373.4 70.0v-0.5h0.7v0.5zM374.2 70.0v-0.3h0.7v0.3zM379.8 70.0v-0.4h0.7v0.4zM384.6 70.0v-0.5h0.7v0.5zM387.0 70.0v-0.4h0.7v0.4zM388.6 70.0v-0.3h0.7v0.3zM391.0 70.0v-0.3h0.7v0.3zM391.8 70.0v-0.7h0.7v0.7z" fill="#0000f5"/>
<path d="M249.8 85.6v-0.4h0.7v0.4zM250.6 85.6v-0.5h0.7v0.5zM251.4 85.6v-0.3h0.7v0.3zM253.0 85.6v-0.5h0.7v0.5zM253.8 85.6v-0.8h0.7v0.8zM254.6 85.6v-0.4h0.7v0.4zM255.4 85.6v-0.5h0.7v0.5zM259.4 85.6v-0.4h0.7v0.4zM264.2 85.6v-0.4h0.7v0.4zM265.0 85.6v-0.7h0.7v0.7zM267.4 85.6v-0.7h0.7v0.7zM270.6 85.6v-0.6h0.7v0.6zM271.4 85.6v-0.4h0.7v0.4zM274.6 85.6v-0.5h0.7v0.5zM275.4 85.6v-0.8h0.7v0.8zM276.2 85.6v-0.9h0.7v0.9zM277.0 85.6v-0.5h0.7v0.5zM278.6 85.6v-0.8h0.7v0.8zM281.8 85.6v-0.6h0.7v0.6zM283.4 85.6v-0.4h0.7v0.4zM285.8 85.6v-0.7h0.7v0.7zM286.6 85.6v-0.6h0.7v0.6zM289.8 85.6v-0.9h0.7v0.9zM290.6 85.6v-0.5h0.7v0.5zM292.2 85.6v-0.4h0.7v0.4zM294.6 85.6v-0.5h0.7v0.5zM295.4 85.6v-0.4h0.7v0.4zM296.2 85.6v-0.9h0.7v0.9zM297.0 85.6v-0.4h0.7v0.4zM297.8 85.6v-0.3h0.7v0.3zM252.25 85.6L252.60 84.1L253.14 83.1L253.86 83.1L254.40 84.1L254.75 85.6zM254.25 85.6L254.60 83.9L255.14 82.7L255.86 82.7L256.40 83.9L256.75 85.6zM267.55 85.6L267.90 84.5L268.12 83.8L268.48 83.8L268.70 84.5L269.05 85.6zM271.95 85.6L272.30 83.9L272.52 82.8L272.88 82.8L273.10 83.9L273.45 85.6zM281.55 85.6L281.90 84.5L282.12 83.8L282.48 83.8L282.70 84.5L283.05 85.6zM285.95 85.6L286.30 84.2L286.52 83.3L286.88 83.3L287.10 84.2L287.45 85.6zM292.4 85.6v-0.4h0.7v0.4zM294.0 85.6v-0.4h0.7v0.4zM295.6 85.6v-0.5h0.7v0.5zM296.4 85.6v-0.4h0.7v0.4zM298.0 85.6v-0.7h0.7v0.7zM298.8 85.6v-0.8h0.7v0.8zM301.2 85.6v-0.3h0.7v0.3zM302.8 85.6v-0.3h0.7v0.3zM305.2 85.6v-0.8h0.7v0.8zM307.6 85.6v-0.5h0.7v0.5zM309.2 85.6v-0.3h0.7v0.3zM310.0 85.6v-0.3h0.7v0.3zM312.4 85.6v-0.3h0.7v0.3zM315.6 85.6v-0.4h0.7v0.4zM319.6 85.6v-0.4h0.7v0.4zM326.8 85.6v-0.6h0.7v0.6zM329.2 85.6v-0.8h0.7v0.8zM330.8 85.6v-0.4h0.7v0.4zM331.6 85.6v-0.3h0.7v0.3zM334.8 85.6v-0.2h0.7v0.2zM340.4 85.6v-0.5h0.7v0.5zM342.0 85.6v-0.6h0.7v0.6zM350.8 85.6v-0.8h0.7v0.8zM351.6 85.6v-0.3h0.7v0.3zM355.6 85.6v-0.8h0.7v0.8zM362.8 85.6v-0.5h0.7v0.5zM365.2 85.6v-0.7h0.7v0.7zM368.4 85.6v-0.5h0.7v0.5zM378.8 85.6v-0.4h0.7v0.4zM381.2 85.6v-0.3h0.7v0.3zM382.8 85.6v-0.3h0.7v0.3zM390.8 85.6v-0.7h0.7v0.7zM394.0 85.6v-0.3h0.7v0.3zM321.15 85.6L321.50 83.9L321.72 82.8L322.08 82.8L322.30 83.9L322.65 85.6zM324.25 85.6L324.60 84.2L324.82 83.3L325.18 83.3L325.40 84.2L325.75 85.6zM331.65 85.6L332.00 84.5L332.22 83.8L332.58 83.8L332.80 84.5L333.15 85.6zM343.55 85.6L343.90 83.6L344.12 82.3L344.48 82.3L344.70 83.6L345.05 85.6zM364.95 85.6L365.30 84.8L365.52 84.3L365.88 84.3L366.10 84.8L366.45 85.6zM370.25 85.6L370.60 84.6L370.82 84.0L371.18 84.0L371.40 84.6L371.75 85.6z" fill="#111"/>
<path d="M249.8 101.2v-0.3h0.7v0.3zM250.6 101.2v-0.3h0.7v0.3zM252.2 101.2v-0.4h0.7v0.4zM253.0 101.2v-0.6h0.7v0.6zM253.8 101.2v-0.7h0.7v0.7zM255.4 101.2v-0.3h0.7v0.3zM257.8 101.2v-0.5h0.7v0.5zM260.2 101.2v-0.3h0.7v0.3zM261.0 101.2v-0.5h0.7v0.5zM263.4 101.2v-0.5h0.7v0.5zM265.8 101.2v-0.5h0.7v0.5zM266.6 101.2v-0.7h0.7v0.7zM267.4 101.2v-0.9h0.7v0.9zM269.8 101.2v-0.4h0.7v0.4zM270.6 101.2v-0.8h0.7v0.8zM272.2 101.2v-0.9h0.7v0.9zM274.6 101.2v-0.5h0.7v0.5zM276.2 101.2v-0.6h0.7v0.6zM277.8 101.2v-0.8h0.7v0.8zM281.0 101.2v-0.3h0.7v0.3zM281.8 101.2v-0.5h0.7v0.5zM282.6 101.2v-0.8h0.7v0.8zM283.4 101.2v-0.8h0.7v0.8zM285.0 101.2v-0.8h0.7v0.8zM285.8 101.2v-0.4h0.7v0.4zM286.6 101.2v-0.3h0.7v0.3zM287.4 101.2v-0.5h0.7v0.5zM289.8 101.2v-0.5h0.7v0.5zM290.6 101.2v-0.4h0.7v0.4zM291.4 101.2v-0.4h0.7v0.4zM293.0 101.2v-0.3h0.7v0.3zM293.8 101.2v-0.5h0.7v0.5zM295.4 101.2v-0.7h0.7v0.7zM296.2 101.2v-0.7h0.7v0.7zM297.8 101.2v-0.7h0.7v0.7zM298.6 101.2v-0.6h0.7v0.6zM252.25 101.2L252.60 99.5L253.14 98.4L253.86 98.4L254.40 99.5L254.75 101.2zM254.55 101.2L254.90 99.4L255.44 98.2L256.16 98.2L256.70 99.4L257.05 101.2zM267.55 101.2L267.90 100.1L268.12 99.4L268.48 99.4L268.70 100.1L269.05 101.2zM271.95 101.2L272.30 99.8L272.52 98.9L272.88 98.9L273.10 99.8L273.45 101.2zM281.55 101.2L281.90 100.2L282.12 99.6L282.48 99.6L282.70 100.2L283.05 101.2zM285.95 101.2L286.30 100.1L286.52 99.4L286.88 99.4L287.10 100.1L287.45 101.2zM291.6 101.2v-0.7h0.7v0.7zM294.8 101.2v-0.7h0.7v0.7zM296.4 101.2v-0.7h0.7v0.7zM300.4 101.2v-0.6h0.7v0.6zM303.6 101.2v-0.5h0.7v0.5zM310.8 101.2v-0.3h0.7v0.3zM318.8 101.2v-0.2h0.7v0.2zM323.6 101.2v-0.6h0.7v0.6zM326.0 101.2v-0.6h0.7v0.6zM328.4 101.2v-0.5h0.7v0.5zM329.2 101.2v-0.5h0.7v0.5zM330.8 101.2v-0.3h0.7v0.3zM332.4 101.2v-0.5h0.7v0.5zM333.2 101.2v-0.3h0.7v0.3zM338.0 101.2v-0.4h0.7v0.4zM340.4 101.2v-0.8h0.7v0.8zM342.8 101.2v-0.8h0.7v0.8zM343.6 101.2v-0.6h0.7v0.6zM345.2 101.2v-0.4h0.7v0.4zM349.2 101.2v-0.6h0.7v0.6zM350.8 101.2v-0.5h0.7v0.5zM354.0 101.2v-0.6h0.7v0.6zM354.8 101.2v-0.5h0.7v0.5zM361.2 101.2v-0.5h0.7v0.5zM363.6 101.2v-0.3h0.7v0.3zM365.2 101.2v-0.7h0.7v0.7zM370.0 101.2v-0.6h0.7v0.6zM372.4 101.2v-0.3h0.7v0.3zM376.4 101.2v-0.5h0.7v0.5zM378.8 101.2v-0.3h0.7v0.3zM381.2 101.2v-0.2h0.7v0.2zM382.0 101.2v-0.7h0.7v0.7zM386.0 101.2v-0.6h0.7v0.6zM386.8 101.2v-0.4h0.7v0.4zM388.4 101.2v-0.3h0.7v0.3zM391.6 101.2v-0.7h0.7v0.7zM321.15 101.2L321.50 99.8L321.72 98.9L322.08 98.9L322.30 99.8L322.65 101.2zM324.25 101.2L324.60 100.0L324.82 99.3L325.18 99.3L325.40 100.0L325.75 101.2zM331.65 101.2L332.00 100.2L332.22 99.7L332.58 99.7L332.80 100.2L333.15 101.2zM343.55 101.2L343.90 99.6L344.12 98.5L344.48 98.5L344.70 99.6L345.05 101.2zM364.95 101.2L365.30 100.5L365.52 100.1L365.88 100.1L366.10 100.5L366.45 101.2zM370.25 101.2L370.60 100.3L370.82 99.9L371.18 99.9L371.40 100.3L371.75 101.2z" fill="#fa0808"/>
<path d="M249.0 116.5v-0.5h0.7v0.5zM249.8 116.5v-0.9h0.7v0.9zM250.6 116.5v-0.5h0.7v0.5zM251.4 116.5v-0.4h0.7v0.4zM252.2 116.5v-0.7h0.7v0.7zM253.0 116.5v-0.7h0.7v0.7zM253.8 116.5v-0.3h0.7v0.3zM254.6 116.5v-0.5h0.7v0.5zM255.4 116.5v-0.7h0.7v0.7zM256.2 116.5v-0.8h0.7v0.8zM259.4 116.5v-0.6h0.7v0.6zM260.2 116.5v-0.3h0.7v0.3zM261.8 116.5v-0.4h0.7v0.4zM263.4 116.5v-0.7h0.7v0.7zM264.2 116.5v-0.4h0.7v0.4zM265.8 116.5v-0.6h0.7v0.6zM267.4 116.5v-0.6h0.7v0.6zM268.2 116.5v-0.5h0.7v0.5zM269.8 116.5v-0.3h0.7v0.3zM270.6 116.5v-0.3h0.7v0.3zM273.8 116.5v-0.8h0.7v0.8zM274.6 116.5v-0.6h0.7v0.6zM275.4 116.5v-0.5h0.7v0.5zM276.2 116.5v-0.7h0.7v0.7zM277.0 116.5v-1.0h0.7v1.0zM277.8 116.5v-1.0h0.7v1.0zM278.6 116.5v-0.4h0.7v0.4zM280.2 116.5v-0.8h0.7v0.8zM281.0 116.5v-0.7h0.7v0.7zM281.8 116.5v-0.8h0.7v0.8zM282.6 116.5v-1.0h0.7v1.0zM283.4 116.5v-0.3h0.7v0.3zM285.8 116.5v-0.8h0.7v0.8zM286.6 116.5v-0.6h0.7v0.6zM287.4 116.5v-0.7h0.7v0.7zM288.2 116.5v-0.5h0.7v0.5zM289.8 116.5v-0.6h0.7v0.6zM290.6 116.5v-0.6h0.7v0.6zM293.8 116.5v-0.4h0.7v0.4zM294.6 116.5v-0.3h0.7v0.3zM295.4 116.5v-0.7h0.7v0.7zM297.0 116.5v-0.4h0.7v0.4zM297.8 116.5v-0.4h0.7v0.4zM298.6 116.5v-0.5h0.7v0.5zM251.85 116.5L252.20 112.9L252.55 110.2L253.05 110.2L253.40 112.9L253.75 116.5zM253.05 116.5L253.40 111.7L253.75 108.0L254.25 108.0L254.60 111.7L254.95 116.5zM254.35 116.5L254.70 112.1L255.05 108.7L255.55 108.7L255.90 112.1L256.25 116.5zM255.70 116.5L256.05 113.5L256.37 111.2L256.83 111.2L257.15 113.5L257.50 116.5zM256.95 116.5L257.30 114.5L257.58 113.2L258.02 113.2L258.30 114.5L258.65 116.5zM267.50 116.5L267.85 113.1L268.10 110.6L268.50 110.6L268.75 113.1L269.10 116.5zM271.80 116.5L272.15 111.2L272.47 107.1L272.93 107.1L273.25 111.2L273.60 116.5zM281.55 116.5L281.90 114.8L282.12 113.7L282.48 113.7L282.70 114.8L283.05 116.5zM285.95 116.5L286.30 115.1L286.52 114.2L286.88 114.2L287.10 115.1L287.45 116.5zM290.8 116.5v-0.5h0.7v0.5zM291.6 116.5v-0.7h0.7v0.7zM294.8 116.5v-0.4h0.7v0.4zM295.6 116.5v-0.4h0.7v0.4zM298.8 116.5v-0.8h0.7v0.8zM302.8 116.5v-0.5h0.7v0.5zM306.0 116.5v-0.8h0.7v0.8zM309.2 116.5v-0.8h0.7v0.8zM310.8 116.5v-0.6h0.7v0.6zM312.4 116.5v-0.8h0.7v0.8zM314.8 116.5v-0.4h0.7v0.4zM317.2 116.5v-0.5h0.7v0.5zM318.8 116.5v-0.3h0.7v0.3zM320.4 116.5v-0.5h0.7v0.5zM322.0 116.5v-0.3h0.7v0.3zM323.6 116.5v-0.4h0.7v0.4zM325.2 116.5v-0.8h0.7v0.8zM326.0 116.5v-0.5h0.7v0.5zM326.8 116.5v-0.6h0.7v0.6zM330.0 116.5v-0.8h0.7v0.8zM333.2 116.5v-0.4h0.7v0.4zM334.0 116.5v-0.4h0.7v0.4zM338.0 116.5v-0.5h0.7v0.5zM338.8 116.5v-0.8h0.7v0.8zM339.6 116.5v-0.5h0.7v0.5zM341.2 116.5v-0.9h0.7v0.9zM342.0 116.5v-0.7h0.7v0.7zM342.8 116.5v-0.8h0.7v0.8zM344.4 116.5v-0.7h0.7v0.7zM346.0 116.5v-0.3h0.7v0.3zM347.6 116.5v-0.8h0.7v0.8zM348.4 116.5v-0.4h0.7v0.4zM349.2 116.5v-0.3h0.7v0.3zM350.0 116.5v-0.6h0.7v0.6zM351.6 116.5v-0.5h0.7v0.5zM356.4 116.5v-0.4h0.7v0.4zM363.6 116.5v-0.6h0.7v0.6zM368.4 116.5v-0.9h0.7v0.9zM369.2 116.5v-0.8h0.7v0.8zM370.0 116.5v-0.8h0.7v0.8zM370.8 116.5v-0.3h0.7v0.3zM375.6 116.5v-0.5h0.7v0.5zM376.4 116.5v-0.7h0.7v0.7zM382.8 116.5v-0.8h0.7v0.8zM383.6 116.5v-0.3h0.7v0.3zM385.2 116.5v-0.7h0.7v0.7zM386.0 116.5v-0.4h0.7v0.4zM387.6 116.5v-0.6h0.7v0.6zM389.2 116.5v-0.7h0.7v0.7zM393.2 116.5v-0.4h0.7v0.4zM321.15 116.5L321.50 114.8L321.72 113.7L322.08 113.7L322.30 114.8L322.65 116.5zM324.25 116.5L324.60 115.1L324.82 114.2L325.18 114.2L325.40 115.1L325.75 116.5zM331.65 116.5L332.00 115.4L332.22 114.7L332.58 114.7L332.80 115.4L333.15 116.5zM343.55 116.5L343.90 114.5L344.12 113.2L344.48 113.2L344.70 114.5L345.05 116.5zM364.95 116.5L365.30 115.7L365.52 115.2L365.88 115.2L366.10 115.7L366.45 116.5zM370.25 116.5L370.60 115.5L370.82 114.9L371.18 114.9L371.40 115.5L371.75 116.5z" fill="#fa0808"/>
<line x1="252" y1="121.7" x2="379" y2="121.7" stroke="#3434c8" stroke-width="0.5" stroke-dasharray="1.5 0.7"/>
<rect x="252.20" y="120.40" width="4.6" height="2.6" fill="#10108a"/>
<rect x="267.90" y="120.20" width="0.8" height="3" fill="#10108a"/>
<rect x="272.20" y="120.20" width="1" height="3" fill="#10108a"/>
<rect x="278.40" y="120.20" width="0.8" height="3" fill="#10108a"/>
<rect x="280.20" y="120.20" width="0.8" height="3" fill="#10108a"/>
<rect x="282.30" y="120.20" width="0.8" height="3" fill="#10108a"/>
<rect x="286.30" y="120.20" width="0.8" height="3" fill="#10108a"/>
<rect x="320.30" y="120.20" width="0.8" height="3" fill="#10108a"/>
<rect x="324.60" y="120.20" width="0.8" height="3" fill="#10108a"/>
<rect x="326.20" y="120.20" width="0.8" height="3" fill="#10108a"/>
<rect x="332.00" y="120.20" width="0.8" height="3" fill="#10108a"/>
<rect x="337.80" y="120.20" width="0.8" height="3" fill="#10108a"/>
<rect x="343.90" y="120.20" width="0.8" height="3" fill="#10108a"/>
<rect x="348.60" y="120.20" width="0.8" height="3" fill="#10108a"/>
<rect x="364.70" y="120.20" width="0.8" height="3" fill="#10108a"/>
<rect x="370.50" y="120.20" width="0.8" height="3" fill="#10108a"/>
<rect x="377.80" y="120.20" width="1" height="3" fill="#10108a"/>
<text x="246" y="122.90" font-size="3.6" text-anchor="end" fill="#3a3ad8">Kdm4a</text>
<text x="285" y="120.12" font-size="3.7" fill="#3a3ad8" textLength="113.4" lengthAdjust="spacingAndGlyphs">UCSC Genes (RefSeq, GenBank, tRNAs &amp; Comparative Genomics)</text>
<g font-size="7.0" font-weight="bold" fill="#111">
<text x="283.7" y="33.6">Control_BV2</text>
<text x="283.7" y="50.6">LPS 2 h_BV2</text>
<text x="283.7" y="63.9">LPS 4 h_BV2</text>
<text x="283.7" y="81.8">Control _PM</text>
<text x="283.7" y="98.8">LPS 2 h _PM</text>
<text x="283.7" y="112.1">LPS 4 h _PM</text>
</g>
<text transform="translate(203.3,185.4) rotate(-90)" font-size="10.2" font-weight="bold" text-anchor="middle" fill="#000">NSD3</text>
<rect x="208.3" y="128.6" width="201.50" height="106.70" fill="#fff" stroke="#505050" stroke-width="1.1"/>
<line x1="246.4" y1="129.1" x2="246.4" y2="234.8" stroke="#f7a0a8" stroke-width="0.6" stroke-dasharray="1.2 0.8"/>
<line x1="246.4" y1="151.05" x2="409.40000000000003" y2="151.05" stroke="#7a7a7a" stroke-width="0.6"/>
<line x1="246.4" y1="165.65" x2="409.40000000000003" y2="165.65" stroke="#7a7a7a" stroke-width="0.6"/>
<line x1="246.4" y1="180.35" x2="409.40000000000003" y2="180.35" stroke="#7a7a7a" stroke-width="0.6"/>
<line x1="246.4" y1="194.65" x2="409.40000000000003" y2="194.65" stroke="#7a7a7a" stroke-width="0.6"/>
<line x1="246.4" y1="209.05" x2="409.40000000000003" y2="209.05" stroke="#7a7a7a" stroke-width="0.6"/>
<line x1="246.4" y1="223.45" x2="409.40000000000003" y2="223.45" stroke="#7a7a7a" stroke-width="0.6"/>
<g font-size="3.6" text-anchor="end">
<text x="245.6" y="133.20" fill="#444">Scale</text>
<text x="245.6" y="136.40" fill="#444">chr8:</text>
<text x="245.6" y="139.90" fill="#444">50 _</text>
<text x="245.6" y="150.90" fill="#444">0 _</text>
<text x="245.6" y="154.20" fill="#3a3ad8">50 _</text>
<text x="245.6" y="165.50" fill="#3a3ad8">0 _</text>
<text x="245.6" y="168.80" fill="#3a3ad8">50 _</text>
<text x="245.6" y="180.20" fill="#3a3ad8">0 _</text>
<text x="245.6" y="183.10" fill="#444">50 _</text>
<text x="245.6" y="194.50" fill="#444">0 _</text>
<text x="245.6" y="197.70" fill="#f03030">50 _</text>
<text x="245.6" y="208.90" fill="#f03030">0 _</text>
<text x="245.6" y="212.40" fill="#f03030">50 _</text>
<text x="245.6" y="223.30" fill="#f03030">0 _</text>
</g>
<g font-size="3.6" text-anchor="start">
<text x="209.5" y="144.20" fill="#444" textLength="36.1" lengthAdjust="spacingAndGlyphs">BV2-Cont Total Tags =</text>
<text x="209.5" y="158.70" fill="#3a3ad8" textLength="36.1" lengthAdjust="spacingAndGlyphs">BV2-LPS-2H Total Tag</text>
<text x="209.5" y="173.20" fill="#3a3ad8" textLength="36.1" lengthAdjust="spacingAndGlyphs">BV2-LPS-4H Total Tag</text>
<text x="209.5" y="187.70" fill="#444" textLength="36.1" lengthAdjust="spacingAndGlyphs">PMG-Cont Total Tags</text>
<text x="209.5" y="202.20" fill="#f03030" textLength="36.1" lengthAdjust="spacingAndGlyphs">PMG-LPS-2H Total Ta</text>
<text x="209.5" y="216.70" fill="#f03030" textLength="36.1" lengthAdjust="spacingAndGlyphs">PMG-LPS-4H Total Ta</text>
</g>
<g font-size="3.75">
<text x="291.5" y="140.49" fill="#444">BV2-Cont Total Tags = 1.39e+07, normalized to 1.00e+07</text>
<text x="291.5" y="154.79" fill="#3a3ad8">BV2-LPS-2H Total Tags = 1.72e+07, normalized to 1.00e+07</text>
<text x="291.5" y="169.39" fill="#3a3ad8">BV2-LPS-4H Total Tags = 1.58e+07, normalized to 1.00e+07</text>
<text x="291.5" y="183.69" fill="#444">PMG-Cont Total Tags = 1.60e+07, normalized to 1.00e+07</text>
<text x="291.5" y="198.29" fill="#f03030">PMG-LPS-2H Total Tags = 1.73e+07, normalized to 1.00e+07</text>
<text x="291.5" y="212.99" fill="#f03030">PMG-LPS-4H Total Tags = 1.60e+07, normalized to 1.00e+07</text>
</g>
<g font-size="3.82" text-anchor="end" fill="#2a2a2a">
<text x="314.6" y="136.40">20,650,000|</text>
<text x="394.8" y="136.40">20,700,000|</text>
</g>
<text x="300" y="132.20" font-size="3.24" text-anchor="end" fill="#444">50 kb</text>
<line x1="301" y1="131.1" x2="382.6" y2="131.1" stroke="#777" stroke-width="0.5"/>
<line x1="301" y1="130.1" x2="301" y2="132.1" stroke="#777" stroke-width="0.5"/>
<line x1="382.6" y1="130.1" x2="382.6" y2="132.1" stroke="#777" stroke-width="0.5"/>
<text x="386" y="131.90" font-size="2.88" fill="#444">mm10</text>
<path d="M253.8 151.0v-0.5h0.7v0.5zM257.0 151.0v-0.5h0.7v0.5zM257.8 151.0v-0.5h0.7v0.5zM259.4 151.0v-0.4h0.7v0.4zM260.2 151.0v-0.8h0.7v0.8zM261.8 151.0v-0.7h0.7v0.7zM262.6 151.0v-0.6h0.7v0.6zM263.4 151.0v-0.2h0.7v0.2zM265.0 151.0v-0.4h0.7v0.4zM267.4 151.0v-0.8h0.7v0.8zM269.8 151.0v-0.8h0.7v0.8zM273.0 151.0v-0.4h0.7v0.4zM273.8 151.0v-0.3h0.7v0.3zM274.6 151.0v-0.4h0.7v0.4zM276.2 151.0v-0.6h0.7v0.6zM277.0 151.0v-0.4h0.7v0.4zM279.4 151.0v-0.5h0.7v0.5zM281.0 151.0v-0.8h0.7v0.8zM281.8 151.0v-0.7h0.7v0.7zM283.4 151.0v-0.7h0.7v0.7zM285.8 151.0v-0.3h0.7v0.3zM286.6 151.0v-0.8h0.7v0.8zM287.4 151.0v-0.7h0.7v0.7zM289.8 151.0v-0.4h0.7v0.4zM292.2 151.0v-0.7h0.7v0.7zM294.6 151.0v-0.8h0.7v0.8zM295.4 151.0v-0.4h0.7v0.4zM297.8 151.0v-0.8h0.7v0.8zM299.4 151.0v-0.4h0.7v0.4zM300.2 151.0v-0.3h0.7v0.3zM301.0 151.0v-0.6h0.7v0.6zM302.6 151.0v-0.3h0.7v0.3zM305.8 151.0v-0.6h0.7v0.6zM309.0 151.0v-0.8h0.7v0.8zM309.8 151.0v-0.5h0.7v0.5zM311.4 151.0v-0.6h0.7v0.6zM314.6 151.0v-0.5h0.7v0.5zM315.4 151.0v-0.7h0.7v0.7zM316.2 151.0v-0.5h0.7v0.5zM322.6 151.0v-0.5h0.7v0.5zM323.4 151.0v-0.5h0.7v0.5zM327.4 151.0v-0.3h0.7v0.3zM328.2 151.0v-0.7h0.7v0.7zM336.2 151.0v-0.5h0.7v0.5zM338.6 151.0v-0.8h0.7v0.8zM341.0 151.0v-0.5h0.7v0.5zM341.8 151.0v-0.6h0.7v0.6zM345.8 151.0v-0.6h0.7v0.6zM354.6 151.0v-0.7h0.7v0.7zM359.4 151.0v-0.7h0.7v0.7zM365.8 151.0v-0.3h0.7v0.3zM368.2 151.0v-0.6h0.7v0.6zM369.8 151.0v-0.5h0.7v0.5zM370.6 151.0v-0.3h0.7v0.3zM371.4 151.0v-0.4h0.7v0.4zM372.2 151.0v-0.3h0.7v0.3zM373.0 151.0v-0.5h0.7v0.5zM376.2 151.0v-0.7h0.7v0.7zM377.0 151.0v-0.5h0.7v0.5zM377.8 151.0v-0.5h0.7v0.5zM378.6 151.0v-0.7h0.7v0.7zM380.2 151.0v-0.6h0.7v0.6zM381.0 151.0v-0.5h0.7v0.5zM381.8 151.0v-0.6h0.7v0.6zM387.4 151.0v-0.6h0.7v0.6zM393.0 151.0v-0.3h0.7v0.3zM395.4 151.0v-0.6h0.7v0.6zM398.6 151.0v-0.4h0.7v0.4zM403.4 151.0v-0.8h0.7v0.8zM299.55 151.0L299.90 149.9L300.12 149.2L300.48 149.2L300.70 149.9L301.05 151.0zM334.85 151.0L335.20 149.9L335.42 149.2L335.78 149.2L336.00 149.9L336.35 151.0z" fill="#111"/>
<path d="M249.8 165.6v-0.8h0.7v0.8zM251.4 165.6v-0.5h0.7v0.5zM252.2 165.6v-0.6h0.7v0.6zM253.8 165.6v-0.7h0.7v0.7zM255.4 165.6v-0.5h0.7v0.5zM256.2 165.6v-0.8h0.7v0.8zM257.8 165.6v-0.4h0.7v0.4zM258.6 165.6v-0.8h0.7v0.8zM259.4 165.6v-0.6h0.7v0.6zM263.4 165.6v-0.7h0.7v0.7zM264.2 165.6v-0.5h0.7v0.5zM265.0 165.6v-0.4h0.7v0.4zM267.4 165.6v-0.7h0.7v0.7zM269.0 165.6v-0.4h0.7v0.4zM273.0 165.6v-0.7h0.7v0.7zM278.6 165.6v-0.5h0.7v0.5zM280.2 165.6v-0.4h0.7v0.4zM281.8 165.6v-0.7h0.7v0.7zM284.2 165.6v-0.7h0.7v0.7zM285.8 165.6v-0.5h0.7v0.5zM288.2 165.6v-0.3h0.7v0.3zM290.6 165.6v-0.4h0.7v0.4zM293.8 165.6v-0.6h0.7v0.6zM297.0 165.6v-0.7h0.7v0.7zM297.8 165.6v-0.6h0.7v0.6zM300.2 165.6v-0.4h0.7v0.4zM301.8 165.6v-0.6h0.7v0.6zM303.4 165.6v-0.6h0.7v0.6zM304.2 165.6v-0.3h0.7v0.3zM305.0 165.6v-0.3h0.7v0.3zM305.8 165.6v-0.6h0.7v0.6zM308.2 165.6v-0.5h0.7v0.5zM309.0 165.6v-0.6h0.7v0.6zM311.4 165.6v-0.3h0.7v0.3zM313.0 165.6v-0.6h0.7v0.6zM317.0 165.6v-0.5h0.7v0.5zM317.8 165.6v-0.7h0.7v0.7zM319.4 165.6v-0.4h0.7v0.4zM320.2 165.6v-0.7h0.7v0.7zM321.0 165.6v-0.6h0.7v0.6zM322.6 165.6v-0.6h0.7v0.6zM323.4 165.6v-0.3h0.7v0.3zM325.0 165.6v-0.7h0.7v0.7zM326.6 165.6v-0.7h0.7v0.7zM327.4 165.6v-0.6h0.7v0.6zM328.2 165.6v-0.3h0.7v0.3zM330.6 165.6v-0.3h0.7v0.3zM333.8 165.6v-0.6h0.7v0.6zM334.6 165.6v-0.4h0.7v0.4zM335.4 165.6v-0.6h0.7v0.6zM336.2 165.6v-0.5h0.7v0.5zM337.0 165.6v-0.7h0.7v0.7zM344.2 165.6v-0.3h0.7v0.3zM345.0 165.6v-0.4h0.7v0.4zM345.8 165.6v-0.7h0.7v0.7zM348.2 165.6v-0.5h0.7v0.5zM352.2 165.6v-0.3h0.7v0.3zM353.0 165.6v-0.4h0.7v0.4zM353.8 165.6v-0.7h0.7v0.7zM354.6 165.6v-0.4h0.7v0.4zM355.4 165.6v-0.3h0.7v0.3zM356.2 165.6v-0.4h0.7v0.4zM357.8 165.6v-0.8h0.7v0.8zM358.6 165.6v-0.8h0.7v0.8zM362.6 165.6v-0.6h0.7v0.6zM363.4 165.6v-0.6h0.7v0.6zM365.0 165.6v-0.4h0.7v0.4zM365.8 165.6v-0.4h0.7v0.4zM366.6 165.6v-0.5h0.7v0.5zM368.2 165.6v-0.4h0.7v0.4zM369.8 165.6v-0.7h0.7v0.7zM371.4 165.6v-0.4h0.7v0.4zM376.2 165.6v-0.3h0.7v0.3zM378.6 165.6v-0.5h0.7v0.5zM381.0 165.6v-0.3h0.7v0.3zM381.8 165.6v-0.7h0.7v0.7zM384.2 165.6v-0.4h0.7v0.4zM385.0 165.6v-0.5h0.7v0.5zM385.8 165.6v-0.4h0.7v0.4zM387.4 165.6v-0.3h0.7v0.3zM388.2 165.6v-0.8h0.7v0.8zM389.0 165.6v-0.5h0.7v0.5zM391.4 165.6v-0.4h0.7v0.4zM392.2 165.6v-0.5h0.7v0.5zM395.4 165.6v-0.2h0.7v0.2zM398.6 165.6v-0.6h0.7v0.6zM401.0 165.6v-0.5h0.7v0.5zM402.6 165.6v-0.3h0.7v0.3zM403.4 165.6v-0.3h0.7v0.3zM299.55 165.6L299.90 164.5L300.12 163.8L300.48 163.8L300.70 164.5L301.05 165.6zM334.85 165.6L335.20 164.6L335.42 164.1L335.78 164.1L336.00 164.6L336.35 165.6z" fill="#0000f5"/>
<path d="M249.8 180.3v-0.3h0.7v0.3zM250.6 180.3v-0.4h0.7v0.4zM251.4 180.3v-0.5h0.7v0.5zM253.0 180.3v-0.3h0.7v0.3zM254.6 180.3v-0.4h0.7v0.4zM255.4 180.3v-0.4h0.7v0.4zM256.2 180.3v-0.5h0.7v0.5zM257.0 180.3v-0.7h0.7v0.7zM266.6 180.3v-0.7h0.7v0.7zM267.4 180.3v-0.3h0.7v0.3zM268.2 180.3v-0.3h0.7v0.3zM269.0 180.3v-0.6h0.7v0.6zM269.8 180.3v-0.3h0.7v0.3zM272.2 180.3v-0.3h0.7v0.3zM273.0 180.3v-0.4h0.7v0.4zM276.2 180.3v-0.5h0.7v0.5zM277.0 180.3v-0.4h0.7v0.4zM277.8 180.3v-0.6h0.7v0.6zM280.2 180.3v-0.5h0.7v0.5zM281.0 180.3v-0.6h0.7v0.6zM284.2 180.3v-0.4h0.7v0.4zM292.2 180.3v-0.7h0.7v0.7zM293.8 180.3v-0.8h0.7v0.8zM294.6 180.3v-0.6h0.7v0.6zM297.0 180.3v-0.4h0.7v0.4zM297.8 180.3v-0.4h0.7v0.4zM299.4 180.3v-0.7h0.7v0.7zM300.2 180.3v-0.4h0.7v0.4zM301.0 180.3v-0.8h0.7v0.8zM305.0 180.3v-0.7h0.7v0.7zM306.6 180.3v-0.3h0.7v0.3zM307.4 180.3v-0.6h0.7v0.6zM309.0 180.3v-0.7h0.7v0.7zM309.8 180.3v-0.6h0.7v0.6zM313.0 180.3v-0.2h0.7v0.2zM315.4 180.3v-0.5h0.7v0.5zM316.2 180.3v-0.3h0.7v0.3zM317.0 180.3v-0.5h0.7v0.5zM319.4 180.3v-0.8h0.7v0.8zM325.0 180.3v-0.6h0.7v0.6zM327.4 180.3v-0.3h0.7v0.3zM328.2 180.3v-0.4h0.7v0.4zM331.4 180.3v-0.8h0.7v0.8zM332.2 180.3v-0.6h0.7v0.6zM333.0 180.3v-0.7h0.7v0.7zM339.4 180.3v-0.5h0.7v0.5zM341.0 180.3v-0.8h0.7v0.8zM342.6 180.3v-0.2h0.7v0.2zM343.4 180.3v-0.3h0.7v0.3zM347.4 180.3v-0.3h0.7v0.3zM350.6 180.3v-0.7h0.7v0.7zM351.4 180.3v-0.4h0.7v0.4zM352.2 180.3v-0.6h0.7v0.6zM353.8 180.3v-0.6h0.7v0.6zM355.4 180.3v-0.3h0.7v0.3zM362.6 180.3v-0.4h0.7v0.4zM365.0 180.3v-0.3h0.7v0.3zM365.8 180.3v-0.6h0.7v0.6zM367.4 180.3v-0.3h0.7v0.3zM371.4 180.3v-0.5h0.7v0.5zM373.8 180.3v-0.7h0.7v0.7zM376.2 180.3v-0.6h0.7v0.6zM378.6 180.3v-0.3h0.7v0.3zM379.4 180.3v-0.3h0.7v0.3zM380.2 180.3v-0.6h0.7v0.6zM381.0 180.3v-0.7h0.7v0.7zM388.2 180.3v-0.3h0.7v0.3zM389.0 180.3v-0.4h0.7v0.4zM389.8 180.3v-0.5h0.7v0.5zM392.2 180.3v-0.5h0.7v0.5zM393.8 180.3v-0.3h0.7v0.3zM395.4 180.3v-0.6h0.7v0.6zM398.6 180.3v-0.7h0.7v0.7zM400.2 180.3v-0.3h0.7v0.3zM401.8 180.3v-0.7h0.7v0.7zM403.4 180.3v-0.4h0.7v0.4zM299.55 180.3L299.90 179.2L300.12 178.5L300.48 178.5L300.70 179.2L301.05 180.3zM334.85 180.3L335.20 179.2L335.42 178.5L335.78 178.5L336.00 179.2L336.35 180.3zM329.85 180.3L330.20 179.3L330.42 178.8L330.78 178.8L331.00 179.3L331.35 180.3z" fill="#0000f5"/>
<path d="M251.4 194.6v-0.4h0.7v0.4zM253.8 194.6v-0.5h0.7v0.5zM254.6 194.6v-0.6h0.7v0.6zM255.4 194.6v-0.4h0.7v0.4zM256.2 194.6v-0.5h0.7v0.5zM260.2 194.6v-0.4h0.7v0.4zM261.8 194.6v-0.7h0.7v0.7zM263.4 194.6v-0.4h0.7v0.4zM266.6 194.6v-0.4h0.7v0.4zM269.8 194.6v-0.4h0.7v0.4zM273.0 194.6v-0.5h0.7v0.5zM278.6 194.6v-0.3h0.7v0.3zM286.6 194.6v-0.7h0.7v0.7zM289.8 194.6v-0.5h0.7v0.5zM290.6 194.6v-0.5h0.7v0.5zM291.4 194.6v-0.6h0.7v0.6zM292.2 194.6v-0.3h0.7v0.3zM293.8 194.6v-0.5h0.7v0.5zM296.2 194.6v-0.3h0.7v0.3zM299.4 194.6v-0.4h0.7v0.4zM301.8 194.6v-0.3h0.7v0.3zM303.4 194.6v-0.7h0.7v0.7zM305.8 194.6v-0.5h0.7v0.5zM308.2 194.6v-0.3h0.7v0.3zM313.8 194.6v-0.6h0.7v0.6zM314.6 194.6v-0.5h0.7v0.5zM316.2 194.6v-0.5h0.7v0.5zM317.8 194.6v-0.7h0.7v0.7zM321.8 194.6v-0.5h0.7v0.5zM322.6 194.6v-0.5h0.7v0.5zM323.4 194.6v-0.3h0.7v0.3zM324.2 194.6v-0.5h0.7v0.5zM331.4 194.6v-0.3h0.7v0.3zM333.0 194.6v-0.5h0.7v0.5zM337.0 194.6v-0.5h0.7v0.5zM338.6 194.6v-0.4h0.7v0.4zM341.0 194.6v-0.5h0.7v0.5zM341.8 194.6v-0.3h0.7v0.3zM342.6 194.6v-0.3h0.7v0.3zM344.2 194.6v-0.4h0.7v0.4zM346.6 194.6v-0.7h0.7v0.7zM349.8 194.6v-0.4h0.7v0.4zM353.0 194.6v-0.3h0.7v0.3zM353.8 194.6v-0.7h0.7v0.7zM355.4 194.6v-0.3h0.7v0.3zM358.6 194.6v-0.6h0.7v0.6zM359.4 194.6v-0.6h0.7v0.6zM361.8 194.6v-0.8h0.7v0.8zM362.6 194.6v-0.3h0.7v0.3zM364.2 194.6v-0.3h0.7v0.3zM368.2 194.6v-0.6h0.7v0.6zM369.8 194.6v-0.7h0.7v0.7zM370.6 194.6v-0.4h0.7v0.4zM371.4 194.6v-0.7h0.7v0.7zM374.6 194.6v-0.4h0.7v0.4zM375.4 194.6v-0.8h0.7v0.8zM376.2 194.6v-0.3h0.7v0.3zM377.8 194.6v-0.5h0.7v0.5zM380.2 194.6v-0.3h0.7v0.3zM385.0 194.6v-0.4h0.7v0.4zM392.2 194.6v-0.3h0.7v0.3zM393.0 194.6v-0.4h0.7v0.4zM394.6 194.6v-0.6h0.7v0.6zM397.0 194.6v-0.7h0.7v0.7zM397.8 194.6v-0.3h0.7v0.3zM401.0 194.6v-0.8h0.7v0.8zM404.2 194.6v-0.5h0.7v0.5zM299.50 194.6L299.85 192.1L300.10 190.3L300.50 190.3L300.75 192.1L301.10 194.6zM313.55 194.6L313.90 192.9L314.12 191.8L314.48 191.8L314.70 192.9L315.05 194.6zM329.85 194.6L330.20 193.2L330.42 192.3L330.78 192.3L331.00 193.2L331.35 194.6zM334.85 194.6L335.20 192.4L335.42 190.8L335.78 190.8L336.00 192.4L336.35 194.6zM351.15 194.6L351.50 193.5L352.04 192.8L352.76 192.8L353.30 193.5L353.65 194.6zM356.75 194.6L357.10 193.2L357.64 192.3L358.36 192.3L358.90 193.2L359.25 194.6z" fill="#111"/>
<path d="M249.0 209.0v-0.3h0.7v0.3zM249.8 209.0v-0.6h0.7v0.6zM252.2 209.0v-0.4h0.7v0.4zM253.0 209.0v-0.8h0.7v0.8zM256.2 209.0v-0.5h0.7v0.5zM257.0 209.0v-0.3h0.7v0.3zM258.6 209.0v-0.3h0.7v0.3zM262.6 209.0v-0.7h0.7v0.7zM263.4 209.0v-0.5h0.7v0.5zM264.2 209.0v-0.8h0.7v0.8zM266.6 209.0v-0.5h0.7v0.5zM269.0 209.0v-0.5h0.7v0.5zM273.0 209.0v-0.7h0.7v0.7zM274.6 209.0v-0.3h0.7v0.3zM280.2 209.0v-0.7h0.7v0.7zM281.0 209.0v-0.5h0.7v0.5zM283.4 209.0v-0.4h0.7v0.4zM285.8 209.0v-0.8h0.7v0.8zM286.6 209.0v-0.3h0.7v0.3zM287.4 209.0v-0.5h0.7v0.5zM289.8 209.0v-0.6h0.7v0.6zM290.6 209.0v-0.6h0.7v0.6zM291.4 209.0v-0.4h0.7v0.4zM292.2 209.0v-0.6h0.7v0.6zM293.0 209.0v-0.7h0.7v0.7zM293.8 209.0v-0.6h0.7v0.6zM297.8 209.0v-0.4h0.7v0.4zM299.4 209.0v-0.5h0.7v0.5zM301.8 209.0v-0.6h0.7v0.6zM304.2 209.0v-0.8h0.7v0.8zM305.0 209.0v-0.7h0.7v0.7zM309.0 209.0v-0.6h0.7v0.6zM313.0 209.0v-0.5h0.7v0.5zM313.8 209.0v-0.7h0.7v0.7zM316.2 209.0v-0.5h0.7v0.5zM317.8 209.0v-0.4h0.7v0.4zM320.2 209.0v-0.7h0.7v0.7zM323.4 209.0v-0.4h0.7v0.4zM324.2 209.0v-0.6h0.7v0.6zM328.2 209.0v-0.7h0.7v0.7zM333.0 209.0v-0.4h0.7v0.4zM334.6 209.0v-0.3h0.7v0.3zM335.4 209.0v-0.7h0.7v0.7zM336.2 209.0v-0.5h0.7v0.5zM340.2 209.0v-0.7h0.7v0.7zM346.6 209.0v-0.7h0.7v0.7zM348.2 209.0v-0.3h0.7v0.3zM349.0 209.0v-0.3h0.7v0.3zM350.6 209.0v-0.4h0.7v0.4zM351.4 209.0v-0.5h0.7v0.5zM352.2 209.0v-0.6h0.7v0.6zM353.8 209.0v-0.8h0.7v0.8zM356.2 209.0v-0.5h0.7v0.5zM358.6 209.0v-0.5h0.7v0.5zM370.6 209.0v-0.4h0.7v0.4zM371.4 209.0v-0.6h0.7v0.6zM373.0 209.0v-0.5h0.7v0.5zM375.4 209.0v-0.6h0.7v0.6zM377.0 209.0v-0.4h0.7v0.4zM377.8 209.0v-0.3h0.7v0.3zM379.4 209.0v-0.2h0.7v0.2zM382.6 209.0v-0.8h0.7v0.8zM383.4 209.0v-0.3h0.7v0.3zM384.2 209.0v-0.3h0.7v0.3zM391.4 209.0v-0.5h0.7v0.5zM393.8 209.0v-0.4h0.7v0.4zM395.4 209.0v-0.5h0.7v0.5zM396.2 209.0v-0.6h0.7v0.6zM397.8 209.0v-0.6h0.7v0.6zM399.4 209.0v-0.7h0.7v0.7zM401.0 209.0v-0.6h0.7v0.6zM401.8 209.0v-0.5h0.7v0.5zM402.6 209.0v-0.6h0.7v0.6zM299.50 209.0L299.85 206.2L300.10 204.2L300.50 204.2L300.75 206.2L301.10 209.0zM313.55 209.0L313.90 208.0L314.12 207.5L314.48 207.5L314.70 208.0L315.05 209.0zM329.85 209.0L330.20 207.9L330.42 207.2L330.78 207.2L331.00 207.9L331.35 209.0zM334.85 209.0L335.20 207.0L335.42 205.7L335.78 205.7L336.00 207.0L336.35 209.0zM351.15 209.0L351.50 207.6L352.04 206.7L352.76 206.7L353.30 207.6L353.65 209.0zM356.75 209.0L357.10 207.9L357.64 207.2L358.36 207.2L358.90 207.9L359.25 209.0z" fill="#fa0808"/>
<path d="M249.0 223.4v-0.6h0.7v0.6zM251.4 223.4v-0.4h0.7v0.4zM253.0 223.4v-0.7h0.7v0.7zM253.8 223.4v-0.5h0.7v0.5zM254.6 223.4v-0.5h0.7v0.5zM256.2 223.4v-0.3h0.7v0.3zM257.0 223.4v-0.9h0.7v0.9zM257.8 223.4v-0.5h0.7v0.5zM258.6 223.4v-0.7h0.7v0.7zM260.2 223.4v-0.8h0.7v0.8zM261.0 223.4v-0.7h0.7v0.7zM263.4 223.4v-0.4h0.7v0.4zM264.2 223.4v-0.4h0.7v0.4zM266.6 223.4v-0.6h0.7v0.6zM273.0 223.4v-0.5h0.7v0.5zM274.6 223.4v-0.5h0.7v0.5zM277.0 223.4v-0.6h0.7v0.6zM278.6 223.4v-0.3h0.7v0.3zM281.0 223.4v-0.3h0.7v0.3zM282.6 223.4v-0.7h0.7v0.7zM283.4 223.4v-0.6h0.7v0.6zM284.2 223.4v-0.5h0.7v0.5zM289.8 223.4v-0.6h0.7v0.6zM290.6 223.4v-0.7h0.7v0.7zM291.4 223.4v-0.8h0.7v0.8zM292.2 223.4v-0.8h0.7v0.8zM294.6 223.4v-0.8h0.7v0.8zM296.2 223.4v-0.7h0.7v0.7zM298.6 223.4v-0.4h0.7v0.4zM301.8 223.4v-0.7h0.7v0.7zM305.0 223.4v-0.3h0.7v0.3zM307.4 223.4v-0.6h0.7v0.6zM311.4 223.4v-0.5h0.7v0.5zM313.0 223.4v-0.9h0.7v0.9zM313.8 223.4v-0.6h0.7v0.6zM314.6 223.4v-0.6h0.7v0.6zM315.4 223.4v-0.4h0.7v0.4zM317.8 223.4v-0.6h0.7v0.6zM318.6 223.4v-0.3h0.7v0.3zM319.4 223.4v-0.9h0.7v0.9zM320.2 223.4v-0.4h0.7v0.4zM321.0 223.4v-0.3h0.7v0.3zM325.8 223.4v-0.4h0.7v0.4zM326.6 223.4v-0.3h0.7v0.3zM327.4 223.4v-0.7h0.7v0.7zM329.0 223.4v-0.5h0.7v0.5zM334.6 223.4v-0.6h0.7v0.6zM335.4 223.4v-0.3h0.7v0.3zM336.2 223.4v-0.6h0.7v0.6zM337.0 223.4v-0.3h0.7v0.3zM337.8 223.4v-0.5h0.7v0.5zM342.6 223.4v-0.5h0.7v0.5zM343.4 223.4v-0.7h0.7v0.7zM345.8 223.4v-0.4h0.7v0.4zM346.6 223.4v-0.6h0.7v0.6zM347.4 223.4v-0.3h0.7v0.3zM348.2 223.4v-0.4h0.7v0.4zM349.0 223.4v-0.7h0.7v0.7zM350.6 223.4v-0.7h0.7v0.7zM351.4 223.4v-0.9h0.7v0.9zM352.2 223.4v-0.6h0.7v0.6zM357.8 223.4v-0.4h0.7v0.4zM360.2 223.4v-0.7h0.7v0.7zM361.0 223.4v-0.6h0.7v0.6zM363.4 223.4v-0.6h0.7v0.6zM365.8 223.4v-0.4h0.7v0.4zM369.0 223.4v-0.6h0.7v0.6zM370.6 223.4v-0.3h0.7v0.3zM372.2 223.4v-0.6h0.7v0.6zM373.0 223.4v-0.3h0.7v0.3zM373.8 223.4v-0.4h0.7v0.4zM376.2 223.4v-0.5h0.7v0.5zM378.6 223.4v-0.4h0.7v0.4zM379.4 223.4v-0.8h0.7v0.8zM381.0 223.4v-0.6h0.7v0.6zM382.6 223.4v-0.7h0.7v0.7zM388.2 223.4v-0.6h0.7v0.6zM389.8 223.4v-0.7h0.7v0.7zM390.6 223.4v-0.7h0.7v0.7zM396.2 223.4v-0.7h0.7v0.7zM397.8 223.4v-0.7h0.7v0.7zM398.6 223.4v-0.6h0.7v0.6zM299.45 223.4L299.80 217.6L300.08 213.1L300.52 213.1L300.80 217.6L301.15 223.4zM313.55 223.4L313.90 220.9L314.12 219.1L314.48 219.1L314.70 220.9L315.05 223.4zM329.85 223.4L330.20 219.8L330.42 217.1L330.78 217.1L331.00 219.8L331.35 223.4zM334.80 223.4L335.15 218.2L335.40 214.1L335.80 214.1L336.05 218.2L336.40 223.4zM340.15 223.4L340.50 221.4L340.72 220.1L341.08 220.1L341.30 221.4L341.65 223.4zM350.90 223.4L351.25 221.2L351.95 219.6L352.85 219.6L353.55 221.2L353.90 223.4zM356.50 223.4L356.85 220.9L357.55 219.1L358.45 219.1L359.15 220.9L359.50 223.4z" fill="#fa0808"/>
<line x1="248" y1="228.9" x2="408" y2="228.9" stroke="#3434c8" stroke-width="0.5" stroke-dasharray="1.5 0.7"/>
<rect x="299.60" y="226.90" width="1.4" height="4" fill="#10108a"/>
<rect x="312.70" y="226.90" width="1.6" height="4" fill="#10108a"/>
<rect x="330.25" y="226.90" width="0.7" height="4" fill="#10108a"/>
<rect x="335.10" y="226.90" width="1" height="4" fill="#10108a"/>
<rect x="340.60" y="227.40" width="0.6" height="3" fill="#10108a"/>
<rect x="351.90" y="227.40" width="1" height="3" fill="#10108a"/>
<rect x="393.50" y="227.40" width="1" height="3" fill="#10108a"/>
<rect x="404.25" y="227.40" width="1.5" height="3" fill="#10108a"/>
<text x="246" y="230.10" font-size="3.6" text-anchor="end" fill="#3a3ad8">Whsc1l1</text>
<text x="386" y="230.10" font-size="3.6" text-anchor="end" fill="#3a3ad8">Whsc1l1</text>
<line x1="248" y1="232.2" x2="408" y2="232.2" stroke="#3434c8" stroke-width="0.5" stroke-dasharray="1.5 0.7"/>
<rect x="299.60" y="230.20" width="1.4" height="4" fill="#10108a"/>
<rect x="312.70" y="230.20" width="1.6" height="4" fill="#10108a"/>
<rect x="330.25" y="230.20" width="0.7" height="4" fill="#10108a"/>
<rect x="335.10" y="230.20" width="1" height="4" fill="#10108a"/>
<rect x="340.60" y="230.70" width="0.6" height="3" fill="#10108a"/>
<rect x="351.90" y="230.70" width="1" height="3" fill="#10108a"/>
<rect x="393.50" y="230.70" width="1" height="3" fill="#10108a"/>
<rect x="404.25" y="230.70" width="1.5" height="3" fill="#10108a"/>
<text x="246" y="233.40" font-size="3.6" text-anchor="end" fill="#3a3ad8">Whsc1l1</text>
<text x="393" y="233.40" font-size="3.6" text-anchor="end" fill="#3a3ad8">Whsc1l1</text>
<text x="285.3" y="226.92" font-size="3.7" fill="#3a3ad8" textLength="114.7" lengthAdjust="spacingAndGlyphs">UCSC Genes (RefSeq, GenBank, tRNAs &amp; Comparative Genomics)</text>
<g font-size="6.9" font-weight="bold" fill="#111">
<text x="257.8" y="147.8">Control_BV2</text>
<text x="257.8" y="160.9">LPS 2 h_BV2</text>
<text x="257.8" y="178.4">LPS 4 h_BV2</text>
<text x="257.8" y="191.5">Control_PM</text>
<text x="257.8" y="204.7">LPS 2 h _PM</text>
<text x="257.8" y="217.8">LPS 4 h _PM</text>
</g>
<text transform="translate(203.3,293.1) rotate(-90)" font-size="10.2" font-weight="bold" text-anchor="middle" fill="#000">SETDB2</text>
<rect x="208.3" y="243.4" width="201.50" height="107.20" fill="#fff" stroke="#505050" stroke-width="1.1"/>
<line x1="242" y1="243.9" x2="242" y2="350.1" stroke="#f7a0a8" stroke-width="0.6" stroke-dasharray="1.2 0.8"/>
<line x1="242" y1="266.85" x2="409.40000000000003" y2="266.85" stroke="#7a7a7a" stroke-width="0.6"/>
<line x1="242" y1="281.85" x2="409.40000000000003" y2="281.85" stroke="#7a7a7a" stroke-width="0.6"/>
<line x1="242" y1="296.95" x2="409.40000000000003" y2="296.95" stroke="#7a7a7a" stroke-width="0.6"/>
<line x1="242" y1="312.05" x2="409.40000000000003" y2="312.05" stroke="#7a7a7a" stroke-width="0.6"/>
<line x1="242" y1="327.25" x2="409.40000000000003" y2="327.25" stroke="#7a7a7a" stroke-width="0.6"/>
<line x1="242" y1="342.45" x2="409.40000000000003" y2="342.45" stroke="#7a7a7a" stroke-width="0.6"/>
<g font-size="3.2" text-anchor="end">
<text x="241.2" y="247.60" fill="#444">Scale</text>
<text x="241.2" y="251.60" fill="#444">chr14:</text>
<text x="241.2" y="254.60" fill="#444">30 _</text>
<text x="241.2" y="266.70" fill="#444">0 _</text>
<text x="241.2" y="269.80" fill="#3a3ad8">30 _</text>
<text x="241.2" y="281.70" fill="#3a3ad8">0 _</text>
<text x="241.2" y="284.90" fill="#3a3ad8">30 _</text>
<text x="241.2" y="296.80" fill="#3a3ad8">0 _</text>
<text x="241.2" y="300.50" fill="#444">30 _</text>
<text x="241.2" y="311.90" fill="#444">0 _</text>
<text x="241.2" y="315.90" fill="#f03030">30 _</text>
<text x="241.2" y="327.10" fill="#f03030">0 _</text>
<text x="241.2" y="330.80" fill="#f03030">30 _</text>
<text x="241.2" y="342.30" fill="#f03030">0 _</text>
</g>
<g font-size="3.2" text-anchor="start">
<text x="209.5" y="259.70" fill="#444" textLength="31.7" lengthAdjust="spacingAndGlyphs">BV2-Cont Total Tags =</text>
<text x="209.5" y="274.70" fill="#3a3ad8" textLength="31.7" lengthAdjust="spacingAndGlyphs">BV2-LPS-2H Total Tag</text>
<text x="209.5" y="289.70" fill="#3a3ad8" textLength="31.7" lengthAdjust="spacingAndGlyphs">BV2-LPS-4H Total Tag</text>
<text x="209.5" y="305.20" fill="#444" textLength="31.7" lengthAdjust="spacingAndGlyphs">PMG-Cont Total Tags</text>
<text x="209.5" y="320.20" fill="#f03030" textLength="31.7" lengthAdjust="spacingAndGlyphs">PMG-LPS-2H Total Ta</text>
<text x="209.5" y="335.70" fill="#f03030" textLength="31.7" lengthAdjust="spacingAndGlyphs">PMG-LPS-4H Total Ta</text>
</g>
<g font-size="3.35">
<text x="281" y="255.06" fill="#444">BV2-Cont Total Tags = 1.39e+07, normalized to 1.00e+07</text>
<text x="281" y="270.26" fill="#3a3ad8">BV2-LPS-2H Total Tags = 1.72e+07, normalized to 1.00e+07</text>
<text x="281" y="285.36" fill="#3a3ad8">BV2-LPS-4H Total Tags = 1.58e+07, normalized to 1.00e+07</text>
<text x="281" y="300.96" fill="#444">PMG-Cont Total Tags = 1.60e+07, normalized to 1.00e+07</text>
<text x="281" y="316.36" fill="#f03030">PMG-LPS-2H Total Tags = 1.73e+07, normalized to 1.00e+07</text>
<text x="281" y="331.26" fill="#f03030">PMG-LPS-4H Total Tags = 1.60e+07, normalized to 1.00e+07</text>
</g>
<g font-size="3.39" text-anchor="end" fill="#2a2a2a">
<text x="249.5" y="251.60">|</text>
<text x="269.8" y="251.60">59,380,000|</text>
<text x="289.1" y="251.60">59,390,000|</text>
<text x="308.4" y="251.60">59,400,000|</text>
<text x="327.7" y="251.60">59,410,000|</text>
<text x="347" y="251.60">59,420,000|</text>
<text x="366.3" y="251.60">59,430,000|</text>
<text x="385.7" y="251.60">59,440,000|</text>
<text x="405" y="251.60">59,450,000|</text>
</g>
<text x="306" y="247.00" font-size="2.88" text-anchor="end" fill="#444">20 kb</text>
<line x1="307" y1="245.9" x2="345.8" y2="245.9" stroke="#777" stroke-width="0.5"/>
<line x1="307" y1="244.9" x2="307" y2="246.9" stroke="#777" stroke-width="0.5"/>
<line x1="345.8" y1="244.9" x2="345.8" y2="246.9" stroke="#777" stroke-width="0.5"/>
<text x="347.5" y="246.70" font-size="2.56" fill="#444">mm10</text>
<path d="M245.0 266.8v-0.3h0.7v0.3zM246.6 266.8v-0.5h0.7v0.5zM248.2 266.8v-0.5h0.7v0.5zM249.0 266.8v-0.5h0.7v0.5zM249.8 266.8v-0.3h0.7v0.3zM252.2 266.8v-0.4h0.7v0.4zM257.0 266.8v-0.7h0.7v0.7zM257.8 266.8v-0.3h0.7v0.3zM258.6 266.8v-0.4h0.7v0.4zM260.2 266.8v-0.6h0.7v0.6zM263.4 266.8v-0.3h0.7v0.3zM264.2 266.8v-0.6h0.7v0.6zM265.8 266.8v-0.6h0.7v0.6zM267.4 266.8v-0.7h0.7v0.7zM269.0 266.8v-0.6h0.7v0.6zM272.2 266.8v-0.8h0.7v0.8zM273.0 266.8v-0.5h0.7v0.5zM274.6 266.8v-0.5h0.7v0.5zM275.4 266.8v-0.6h0.7v0.6zM278.6 266.8v-0.6h0.7v0.6zM285.0 266.8v-0.6h0.7v0.6zM288.2 266.8v-0.5h0.7v0.5zM289.8 266.8v-0.5h0.7v0.5zM290.6 266.8v-0.3h0.7v0.3zM291.4 266.8v-0.7h0.7v0.7zM292.2 266.8v-0.4h0.7v0.4zM294.6 266.8v-0.5h0.7v0.5zM298.6 266.8v-0.5h0.7v0.5zM301.8 266.8v-0.3h0.7v0.3zM302.6 266.8v-0.4h0.7v0.4zM305.0 266.8v-0.2h0.7v0.2zM312.2 266.8v-0.7h0.7v0.7zM317.0 266.8v-0.6h0.7v0.6zM317.8 266.8v-0.3h0.7v0.3zM318.6 266.8v-0.3h0.7v0.3zM319.4 266.8v-0.3h0.7v0.3zM320.2 266.8v-0.3h0.7v0.3zM321.0 266.8v-0.4h0.7v0.4zM321.8 266.8v-0.7h0.7v0.7zM323.4 266.8v-0.4h0.7v0.4zM324.2 266.8v-0.4h0.7v0.4zM325.0 266.8v-0.7h0.7v0.7zM328.2 266.8v-0.3h0.7v0.3zM329.0 266.8v-0.4h0.7v0.4zM330.6 266.8v-0.3h0.7v0.3zM333.0 266.8v-0.5h0.7v0.5zM333.8 266.8v-0.5h0.7v0.5zM337.0 266.8v-0.4h0.7v0.4zM337.8 266.8v-0.7h0.7v0.7zM340.2 266.8v-0.4h0.7v0.4zM345.8 266.8v-0.5h0.7v0.5zM347.4 266.8v-0.3h0.7v0.3zM348.2 266.8v-0.4h0.7v0.4zM354.6 266.8v-0.4h0.7v0.4zM355.4 266.8v-0.4h0.7v0.4zM361.0 266.8v-0.6h0.7v0.6zM365.0 266.8v-0.7h0.7v0.7zM365.8 266.8v-0.7h0.7v0.7zM370.6 266.8v-0.3h0.7v0.3zM371.4 266.8v-0.7h0.7v0.7zM373.0 266.8v-0.7h0.7v0.7zM377.0 266.8v-0.2h0.7v0.2zM383.4 266.8v-0.4h0.7v0.4zM384.2 266.8v-0.4h0.7v0.4zM385.8 266.8v-0.5h0.7v0.5zM386.6 266.8v-0.7h0.7v0.7zM394.6 266.8v-0.5h0.7v0.5zM395.4 266.8v-0.2h0.7v0.2zM397.0 266.8v-0.5h0.7v0.5zM399.4 266.8v-0.5h0.7v0.5zM401.8 266.8v-0.6h0.7v0.6zM402.6 266.8v-0.4h0.7v0.4zM325.45 266.8L325.80 265.9L326.02 265.5L326.38 265.5L326.60 265.9L326.95 266.8zM344.15 266.8L344.50 265.7L344.72 265.0L345.08 265.0L345.30 265.7L345.65 266.8z" fill="#111"/>
<path d="M257.0 281.8v-0.6h0.7v0.6zM259.4 281.8v-0.3h0.7v0.3zM261.0 281.8v-0.4h0.7v0.4zM261.8 281.8v-0.6h0.7v0.6zM264.2 281.8v-0.6h0.7v0.6zM265.8 281.8v-0.7h0.7v0.7zM267.4 281.8v-0.8h0.7v0.8zM268.2 281.8v-0.5h0.7v0.5zM270.6 281.8v-0.5h0.7v0.5zM272.2 281.8v-0.3h0.7v0.3zM273.0 281.8v-0.6h0.7v0.6zM273.8 281.8v-0.6h0.7v0.6zM275.4 281.8v-0.4h0.7v0.4zM277.8 281.8v-0.8h0.7v0.8zM280.2 281.8v-0.4h0.7v0.4zM281.0 281.8v-0.7h0.7v0.7zM281.8 281.8v-0.3h0.7v0.3zM285.0 281.8v-0.3h0.7v0.3zM288.2 281.8v-0.3h0.7v0.3zM290.6 281.8v-0.8h0.7v0.8zM293.0 281.8v-0.7h0.7v0.7zM293.8 281.8v-0.7h0.7v0.7zM295.4 281.8v-0.5h0.7v0.5zM297.0 281.8v-0.3h0.7v0.3zM298.6 281.8v-0.3h0.7v0.3zM299.4 281.8v-0.3h0.7v0.3zM300.2 281.8v-0.4h0.7v0.4zM301.0 281.8v-0.7h0.7v0.7zM301.8 281.8v-0.5h0.7v0.5zM302.6 281.8v-0.4h0.7v0.4zM303.4 281.8v-0.4h0.7v0.4zM304.2 281.8v-0.7h0.7v0.7zM305.8 281.8v-0.5h0.7v0.5zM307.4 281.8v-0.7h0.7v0.7zM310.6 281.8v-0.5h0.7v0.5zM313.0 281.8v-0.7h0.7v0.7zM316.2 281.8v-0.3h0.7v0.3zM317.0 281.8v-0.3h0.7v0.3zM318.6 281.8v-0.3h0.7v0.3zM319.4 281.8v-0.7h0.7v0.7zM321.8 281.8v-0.4h0.7v0.4zM322.6 281.8v-0.5h0.7v0.5zM323.4 281.8v-0.5h0.7v0.5zM324.2 281.8v-0.8h0.7v0.8zM326.6 281.8v-0.8h0.7v0.8zM327.4 281.8v-0.4h0.7v0.4zM328.2 281.8v-0.5h0.7v0.5zM330.6 281.8v-0.5h0.7v0.5zM331.4 281.8v-0.4h0.7v0.4zM332.2 281.8v-0.5h0.7v0.5zM333.0 281.8v-0.3h0.7v0.3zM333.8 281.8v-0.4h0.7v0.4zM339.4 281.8v-0.4h0.7v0.4zM341.0 281.8v-0.6h0.7v0.6zM342.6 281.8v-0.7h0.7v0.7zM346.6 281.8v-0.5h0.7v0.5zM353.8 281.8v-0.3h0.7v0.3zM354.6 281.8v-0.4h0.7v0.4zM355.4 281.8v-0.7h0.7v0.7zM360.2 281.8v-0.7h0.7v0.7zM364.2 281.8v-0.7h0.7v0.7zM365.0 281.8v-0.3h0.7v0.3zM365.8 281.8v-0.6h0.7v0.6zM366.6 281.8v-0.7h0.7v0.7zM369.0 281.8v-0.5h0.7v0.5zM373.0 281.8v-0.3h0.7v0.3zM373.8 281.8v-0.7h0.7v0.7zM374.6 281.8v-0.6h0.7v0.6zM375.4 281.8v-0.3h0.7v0.3zM376.2 281.8v-0.6h0.7v0.6zM378.6 281.8v-0.5h0.7v0.5zM381.0 281.8v-0.7h0.7v0.7zM381.8 281.8v-0.8h0.7v0.8zM383.4 281.8v-0.5h0.7v0.5zM386.6 281.8v-0.4h0.7v0.4zM388.2 281.8v-0.6h0.7v0.6zM389.0 281.8v-0.5h0.7v0.5zM390.6 281.8v-0.7h0.7v0.7zM393.8 281.8v-0.7h0.7v0.7zM395.4 281.8v-0.2h0.7v0.2zM397.8 281.8v-0.3h0.7v0.3zM398.6 281.8v-0.4h0.7v0.4zM400.2 281.8v-0.7h0.7v0.7zM401.8 281.8v-0.8h0.7v0.8zM404.2 281.8v-0.4h0.7v0.4zM344.15 281.8L344.50 280.4L344.72 279.5L345.08 279.5L345.30 280.4L345.65 281.8zM379.75 281.8L380.10 280.7L380.32 280.0L380.68 280.0L380.90 280.7L381.25 281.8zM385.65 281.8L386.00 280.7L386.22 280.0L386.58 280.0L386.80 280.7L387.15 281.8z" fill="#0000f5"/>
<path d="M245.0 296.9v-1.0h0.7v1.0zM245.8 296.9v-0.6h0.7v0.6zM246.6 296.9v-0.5h0.7v0.5zM247.4 296.9v-0.4h0.7v0.4zM249.0 296.9v-1.0h0.7v1.0zM249.8 296.9v-0.5h0.7v0.5zM250.6 296.9v-0.4h0.7v0.4zM251.4 296.9v-1.0h0.7v1.0zM256.2 296.9v-0.8h0.7v0.8zM257.0 296.9v-0.8h0.7v0.8zM257.8 296.9v-0.8h0.7v0.8zM259.4 296.9v-0.3h0.7v0.3zM261.0 296.9v-0.6h0.7v0.6zM261.8 296.9v-0.5h0.7v0.5zM264.2 296.9v-0.8h0.7v0.8zM265.0 296.9v-0.7h0.7v0.7zM265.8 296.9v-0.4h0.7v0.4zM266.6 296.9v-0.4h0.7v0.4zM268.2 296.9v-0.5h0.7v0.5zM270.6 296.9v-0.4h0.7v0.4zM271.4 296.9v-0.4h0.7v0.4zM272.2 296.9v-0.4h0.7v0.4zM273.0 296.9v-0.5h0.7v0.5zM273.8 296.9v-0.9h0.7v0.9zM275.4 296.9v-0.6h0.7v0.6zM276.2 296.9v-0.6h0.7v0.6zM277.0 296.9v-0.3h0.7v0.3zM277.8 296.9v-1.0h0.7v1.0zM278.6 296.9v-0.7h0.7v0.7zM281.0 296.9v-0.5h0.7v0.5zM281.8 296.9v-0.6h0.7v0.6zM282.6 296.9v-1.0h0.7v1.0zM285.0 296.9v-0.3h0.7v0.3zM287.4 296.9v-0.7h0.7v0.7zM288.2 296.9v-0.6h0.7v0.6zM292.2 296.9v-0.4h0.7v0.4zM293.0 296.9v-0.7h0.7v0.7zM297.8 296.9v-0.7h0.7v0.7zM298.6 296.9v-0.8h0.7v0.8zM299.4 296.9v-0.9h0.7v0.9zM301.0 296.9v-0.4h0.7v0.4zM301.8 296.9v-0.7h0.7v0.7zM303.4 296.9v-0.3h0.7v0.3zM304.2 296.9v-0.7h0.7v0.7zM305.0 296.9v-0.5h0.7v0.5zM306.6 296.9v-0.5h0.7v0.5zM307.4 296.9v-1.0h0.7v1.0zM309.8 296.9v-0.5h0.7v0.5zM310.6 296.9v-1.0h0.7v1.0zM312.2 296.9v-0.3h0.7v0.3zM313.0 296.9v-0.8h0.7v0.8zM313.8 296.9v-0.5h0.7v0.5zM316.2 296.9v-0.3h0.7v0.3zM317.0 296.9v-0.6h0.7v0.6zM318.6 296.9v-0.9h0.7v0.9zM320.2 296.9v-0.4h0.7v0.4zM321.8 296.9v-0.9h0.7v0.9zM322.6 296.9v-0.5h0.7v0.5zM324.2 296.9v-1.0h0.7v1.0zM325.0 296.9v-0.4h0.7v0.4zM325.8 296.9v-0.6h0.7v0.6zM328.2 296.9v-0.6h0.7v0.6zM329.0 296.9v-1.0h0.7v1.0zM329.8 296.9v-0.3h0.7v0.3zM330.6 296.9v-0.6h0.7v0.6zM335.4 296.9v-0.4h0.7v0.4zM337.8 296.9v-0.8h0.7v0.8zM338.6 296.9v-0.6h0.7v0.6zM339.4 296.9v-0.4h0.7v0.4zM340.2 296.9v-0.5h0.7v0.5zM341.0 296.9v-1.0h0.7v1.0zM341.8 296.9v-1.0h0.7v1.0zM342.6 296.9v-0.5h0.7v0.5zM345.0 296.9v-0.3h0.7v0.3zM345.8 296.9v-0.6h0.7v0.6zM347.4 296.9v-0.6h0.7v0.6zM349.0 296.9v-0.6h0.7v0.6zM351.4 296.9v-0.3h0.7v0.3zM352.2 296.9v-0.9h0.7v0.9zM353.0 296.9v-0.8h0.7v0.8zM354.6 296.9v-0.5h0.7v0.5zM357.0 296.9v-0.8h0.7v0.8zM357.8 296.9v-0.5h0.7v0.5zM358.6 296.9v-0.8h0.7v0.8zM361.8 296.9v-0.5h0.7v0.5zM362.6 296.9v-1.0h0.7v1.0zM364.2 296.9v-0.5h0.7v0.5zM365.0 296.9v-0.6h0.7v0.6zM366.6 296.9v-0.9h0.7v0.9zM370.6 296.9v-0.5h0.7v0.5zM371.4 296.9v-0.8h0.7v0.8zM372.2 296.9v-0.4h0.7v0.4zM373.8 296.9v-0.3h0.7v0.3zM374.6 296.9v-0.7h0.7v0.7zM375.4 296.9v-1.0h0.7v1.0zM377.8 296.9v-0.4h0.7v0.4zM378.6 296.9v-0.6h0.7v0.6zM380.2 296.9v-0.5h0.7v0.5zM381.0 296.9v-0.7h0.7v0.7zM385.0 296.9v-0.9h0.7v0.9zM385.8 296.9v-0.7h0.7v0.7zM386.6 296.9v-0.8h0.7v0.8zM387.4 296.9v-0.5h0.7v0.5zM388.2 296.9v-0.4h0.7v0.4zM389.8 296.9v-0.5h0.7v0.5zM390.6 296.9v-1.0h0.7v1.0zM391.4 296.9v-0.5h0.7v0.5zM394.6 296.9v-0.6h0.7v0.6zM397.8 296.9v-0.5h0.7v0.5zM398.6 296.9v-0.4h0.7v0.4zM400.2 296.9v-1.0h0.7v1.0zM401.0 296.9v-0.9h0.7v0.9zM401.8 296.9v-0.5h0.7v0.5zM404.2 296.9v-0.7h0.7v0.7zM325.45 296.9L325.80 295.0L326.02 293.6L326.38 293.6L326.60 295.0L326.95 296.9zM333.15 296.9L333.50 295.5L333.72 294.6L334.08 294.6L334.30 295.5L334.65 296.9zM337.15 296.9L337.50 295.5L337.72 294.6L338.08 294.6L338.30 295.5L338.65 296.9zM344.10 296.9L344.45 293.6L344.70 291.1L345.10 291.1L345.35 293.6L345.70 296.9zM367.25 296.9L367.60 295.8L367.82 295.1L368.18 295.1L368.40 295.8L368.75 296.9zM379.75 296.9L380.10 295.0L380.32 293.6L380.68 293.6L380.90 295.0L381.25 296.9zM385.65 296.9L386.00 293.9L386.22 291.6L386.58 291.6L386.80 293.9L387.15 296.9z" fill="#0000f5"/>
<path d="M245.8 312.0v-0.4h0.7v0.4zM246.6 312.0v-0.4h0.7v0.4zM247.4 312.0v-0.6h0.7v0.6zM249.0 312.0v-0.2h0.7v0.2zM249.8 312.0v-0.6h0.7v0.6zM250.6 312.0v-0.4h0.7v0.4zM251.4 312.0v-0.7h0.7v0.7zM253.0 312.0v-0.3h0.7v0.3zM253.8 312.0v-0.5h0.7v0.5zM255.4 312.0v-0.3h0.7v0.3zM257.8 312.0v-0.4h0.7v0.4zM259.4 312.0v-0.6h0.7v0.6zM260.2 312.0v-0.5h0.7v0.5zM262.6 312.0v-0.4h0.7v0.4zM264.2 312.0v-0.2h0.7v0.2zM269.8 312.0v-0.2h0.7v0.2zM273.0 312.0v-0.6h0.7v0.6zM273.8 312.0v-0.5h0.7v0.5zM274.6 312.0v-0.4h0.7v0.4zM277.0 312.0v-0.5h0.7v0.5zM279.4 312.0v-0.3h0.7v0.3zM282.6 312.0v-0.8h0.7v0.8zM283.4 312.0v-0.7h0.7v0.7zM285.8 312.0v-0.7h0.7v0.7zM286.6 312.0v-0.5h0.7v0.5zM289.0 312.0v-0.4h0.7v0.4zM289.8 312.0v-0.5h0.7v0.5zM290.6 312.0v-0.3h0.7v0.3zM291.4 312.0v-0.6h0.7v0.6zM293.0 312.0v-0.6h0.7v0.6zM294.6 312.0v-0.7h0.7v0.7zM295.4 312.0v-0.6h0.7v0.6zM297.8 312.0v-0.5h0.7v0.5zM302.6 312.0v-0.6h0.7v0.6zM304.2 312.0v-0.7h0.7v0.7zM306.6 312.0v-0.5h0.7v0.5zM307.4 312.0v-0.3h0.7v0.3zM309.0 312.0v-0.5h0.7v0.5zM310.6 312.0v-0.6h0.7v0.6zM311.4 312.0v-0.7h0.7v0.7zM313.8 312.0v-0.5h0.7v0.5zM314.6 312.0v-0.8h0.7v0.8zM315.4 312.0v-0.7h0.7v0.7zM318.6 312.0v-0.8h0.7v0.8zM321.8 312.0v-0.7h0.7v0.7zM323.4 312.0v-0.4h0.7v0.4zM325.0 312.0v-0.7h0.7v0.7zM325.8 312.0v-0.7h0.7v0.7zM326.6 312.0v-0.5h0.7v0.5zM328.2 312.0v-0.4h0.7v0.4zM329.8 312.0v-0.3h0.7v0.3zM330.6 312.0v-0.3h0.7v0.3zM333.8 312.0v-0.7h0.7v0.7zM334.6 312.0v-0.5h0.7v0.5zM336.2 312.0v-0.7h0.7v0.7zM339.4 312.0v-0.8h0.7v0.8zM341.0 312.0v-0.7h0.7v0.7zM341.8 312.0v-0.8h0.7v0.8zM343.4 312.0v-0.7h0.7v0.7zM345.0 312.0v-0.7h0.7v0.7zM345.8 312.0v-0.7h0.7v0.7zM346.6 312.0v-0.6h0.7v0.6zM349.8 312.0v-0.2h0.7v0.2zM350.6 312.0v-0.3h0.7v0.3zM354.6 312.0v-0.4h0.7v0.4zM356.2 312.0v-0.2h0.7v0.2zM357.0 312.0v-0.3h0.7v0.3zM357.8 312.0v-0.4h0.7v0.4zM360.2 312.0v-0.6h0.7v0.6zM361.8 312.0v-0.8h0.7v0.8zM362.6 312.0v-0.3h0.7v0.3zM363.4 312.0v-0.6h0.7v0.6zM366.6 312.0v-0.2h0.7v0.2zM369.0 312.0v-0.6h0.7v0.6zM372.2 312.0v-0.7h0.7v0.7zM373.0 312.0v-0.5h0.7v0.5zM374.6 312.0v-0.3h0.7v0.3zM376.2 312.0v-0.5h0.7v0.5zM377.8 312.0v-0.4h0.7v0.4zM381.8 312.0v-0.4h0.7v0.4zM382.6 312.0v-0.3h0.7v0.3zM385.8 312.0v-0.7h0.7v0.7zM389.8 312.0v-0.3h0.7v0.3zM390.6 312.0v-0.3h0.7v0.3zM391.4 312.0v-0.7h0.7v0.7zM394.6 312.0v-0.6h0.7v0.6zM397.8 312.0v-0.6h0.7v0.6zM399.4 312.0v-0.7h0.7v0.7zM400.2 312.0v-0.4h0.7v0.4zM401.0 312.0v-0.7h0.7v0.7zM403.4 312.0v-0.7h0.7v0.7zM404.2 312.0v-0.4h0.7v0.4zM344.15 312.0L344.50 310.3L344.72 309.2L345.08 309.2L345.30 310.3L345.65 312.0zM385.25 312.0L385.60 311.1L385.82 310.7L386.18 310.7L386.40 311.1L386.75 312.0z" fill="#111"/>
<path d="M249.0 327.2v-0.9h0.7v0.9zM251.4 327.2v-0.8h0.7v0.8zM252.2 327.2v-0.5h0.7v0.5zM253.0 327.2v-0.7h0.7v0.7zM253.8 327.2v-0.9h0.7v0.9zM254.6 327.2v-0.3h0.7v0.3zM255.4 327.2v-1.0h0.7v1.0zM256.2 327.2v-0.4h0.7v0.4zM257.0 327.2v-0.3h0.7v0.3zM261.0 327.2v-0.7h0.7v0.7zM261.8 327.2v-0.9h0.7v0.9zM264.2 327.2v-0.9h0.7v0.9zM266.6 327.2v-0.4h0.7v0.4zM267.4 327.2v-0.3h0.7v0.3zM272.2 327.2v-0.4h0.7v0.4zM273.0 327.2v-0.8h0.7v0.8zM273.8 327.2v-0.5h0.7v0.5zM274.6 327.2v-0.3h0.7v0.3zM275.4 327.2v-0.5h0.7v0.5zM277.0 327.2v-0.5h0.7v0.5zM278.6 327.2v-0.9h0.7v0.9zM280.2 327.2v-0.6h0.7v0.6zM281.0 327.2v-0.8h0.7v0.8zM281.8 327.2v-0.8h0.7v0.8zM282.6 327.2v-0.5h0.7v0.5zM284.2 327.2v-0.9h0.7v0.9zM285.0 327.2v-0.3h0.7v0.3zM285.8 327.2v-0.8h0.7v0.8zM287.4 327.2v-0.6h0.7v0.6zM288.2 327.2v-0.9h0.7v0.9zM289.0 327.2v-0.6h0.7v0.6zM289.8 327.2v-0.9h0.7v0.9zM290.6 327.2v-1.0h0.7v1.0zM291.4 327.2v-0.5h0.7v0.5zM293.0 327.2v-0.4h0.7v0.4zM294.6 327.2v-0.9h0.7v0.9zM297.8 327.2v-0.6h0.7v0.6zM298.6 327.2v-0.9h0.7v0.9zM299.4 327.2v-0.9h0.7v0.9zM300.2 327.2v-0.4h0.7v0.4zM301.0 327.2v-0.9h0.7v0.9zM301.8 327.2v-0.6h0.7v0.6zM303.4 327.2v-0.6h0.7v0.6zM304.2 327.2v-0.8h0.7v0.8zM306.6 327.2v-0.5h0.7v0.5zM307.4 327.2v-0.9h0.7v0.9zM309.8 327.2v-0.6h0.7v0.6zM311.4 327.2v-0.4h0.7v0.4zM312.2 327.2v-0.9h0.7v0.9zM313.0 327.2v-0.4h0.7v0.4zM313.8 327.2v-0.8h0.7v0.8zM315.4 327.2v-0.4h0.7v0.4zM316.2 327.2v-0.5h0.7v0.5zM317.0 327.2v-0.4h0.7v0.4zM317.8 327.2v-0.4h0.7v0.4zM320.2 327.2v-1.0h0.7v1.0zM321.0 327.2v-0.6h0.7v0.6zM324.2 327.2v-0.4h0.7v0.4zM325.8 327.2v-0.4h0.7v0.4zM326.6 327.2v-0.3h0.7v0.3zM327.4 327.2v-0.9h0.7v0.9zM329.0 327.2v-0.7h0.7v0.7zM329.8 327.2v-0.4h0.7v0.4zM331.4 327.2v-0.8h0.7v0.8zM333.0 327.2v-0.7h0.7v0.7zM334.6 327.2v-0.5h0.7v0.5zM341.0 327.2v-0.5h0.7v0.5zM342.6 327.2v-0.6h0.7v0.6zM345.8 327.2v-0.6h0.7v0.6zM346.6 327.2v-0.7h0.7v0.7zM347.4 327.2v-0.8h0.7v0.8zM349.0 327.2v-0.8h0.7v0.8zM350.6 327.2v-0.6h0.7v0.6zM352.2 327.2v-0.7h0.7v0.7zM353.0 327.2v-0.8h0.7v0.8zM354.6 327.2v-0.4h0.7v0.4zM355.4 327.2v-0.7h0.7v0.7zM357.0 327.2v-0.7h0.7v0.7zM358.6 327.2v-0.6h0.7v0.6zM360.2 327.2v-0.8h0.7v0.8zM361.0 327.2v-0.8h0.7v0.8zM361.8 327.2v-1.0h0.7v1.0zM362.6 327.2v-0.3h0.7v0.3zM363.4 327.2v-0.6h0.7v0.6zM364.2 327.2v-0.6h0.7v0.6zM365.0 327.2v-0.8h0.7v0.8zM365.8 327.2v-0.5h0.7v0.5zM366.6 327.2v-0.8h0.7v0.8zM368.2 327.2v-0.5h0.7v0.5zM369.8 327.2v-0.4h0.7v0.4zM370.6 327.2v-0.8h0.7v0.8zM373.0 327.2v-0.7h0.7v0.7zM373.8 327.2v-1.0h0.7v1.0zM374.6 327.2v-0.7h0.7v0.7zM377.0 327.2v-0.5h0.7v0.5zM377.8 327.2v-0.4h0.7v0.4zM379.4 327.2v-0.9h0.7v0.9zM380.2 327.2v-0.6h0.7v0.6zM381.0 327.2v-0.6h0.7v0.6zM381.8 327.2v-0.3h0.7v0.3zM383.4 327.2v-0.5h0.7v0.5zM384.2 327.2v-0.6h0.7v0.6zM385.0 327.2v-0.7h0.7v0.7zM386.6 327.2v-1.0h0.7v1.0zM388.2 327.2v-0.9h0.7v0.9zM390.6 327.2v-0.9h0.7v0.9zM392.2 327.2v-0.3h0.7v0.3zM394.6 327.2v-0.4h0.7v0.4zM395.4 327.2v-0.5h0.7v0.5zM397.0 327.2v-0.4h0.7v0.4zM399.4 327.2v-0.9h0.7v0.9zM325.45 327.2L325.80 325.8L326.02 324.9L326.38 324.9L326.60 325.8L326.95 327.2zM344.15 327.2L344.50 325.8L344.72 324.9L345.08 324.9L345.30 325.8L345.65 327.2zM379.75 327.2L380.10 325.8L380.32 324.9L380.68 324.9L380.90 325.8L381.25 327.2zM385.65 327.2L386.00 325.5L386.22 324.4L386.58 324.4L386.80 325.5L387.15 327.2z" fill="#fa0808"/>
<path d="M255.0 342.4v-1.4h0.7v1.4zM255.8 342.4v-1.5h0.7v1.5zM256.6 342.4v-1.7h0.7v1.7zM257.4 342.4v-0.9h0.7v0.9zM258.2 342.4v-0.7h0.7v0.7zM259.0 342.4v-0.6h0.7v0.6zM259.8 342.4v-0.7h0.7v0.7zM260.6 342.4v-1.2h0.7v1.2zM261.4 342.4v-1.6h0.7v1.6zM262.2 342.4v-1.6h0.7v1.6zM263.0 342.4v-1.2h0.7v1.2zM263.8 342.4v-1.6h0.7v1.6zM264.6 342.4v-1.1h0.7v1.1zM266.2 342.4v-1.3h0.7v1.3zM267.0 342.4v-0.6h0.7v0.6zM267.8 342.4v-1.4h0.7v1.4zM269.4 342.4v-1.8h0.7v1.8zM270.2 342.4v-1.2h0.7v1.2zM271.8 342.4v-1.4h0.7v1.4zM272.6 342.4v-1.0h0.7v1.0zM274.2 342.4v-1.1h0.7v1.1zM275.0 342.4v-1.5h0.7v1.5zM275.8 342.4v-1.1h0.7v1.1zM276.6 342.4v-1.2h0.7v1.2zM277.4 342.4v-0.9h0.7v0.9zM278.2 342.4v-1.0h0.7v1.0zM279.0 342.4v-0.9h0.7v0.9zM279.8 342.4v-1.8h0.7v1.8zM280.6 342.4v-1.5h0.7v1.5zM281.4 342.4v-0.9h0.7v0.9zM282.2 342.4v-1.3h0.7v1.3zM283.0 342.4v-1.5h0.7v1.5zM283.8 342.4v-1.5h0.7v1.5zM285.4 342.4v-0.6h0.7v0.6zM286.2 342.4v-0.5h0.7v0.5zM287.0 342.4v-1.7h0.7v1.7zM287.8 342.4v-1.4h0.7v1.4zM288.6 342.4v-1.7h0.7v1.7zM289.4 342.4v-1.3h0.7v1.3zM290.2 342.4v-1.4h0.7v1.4zM291.0 342.4v-1.4h0.7v1.4zM291.8 342.4v-1.4h0.7v1.4zM292.6 342.4v-1.5h0.7v1.5zM293.4 342.4v-0.8h0.7v0.8zM294.2 342.4v-1.5h0.7v1.5zM295.8 342.4v-1.0h0.7v1.0zM296.6 342.4v-1.5h0.7v1.5zM297.4 342.4v-0.9h0.7v0.9zM298.2 342.4v-1.1h0.7v1.1zM299.0 342.4v-1.1h0.7v1.1zM299.8 342.4v-1.7h0.7v1.7zM300.6 342.4v-1.3h0.7v1.3zM301.4 342.4v-0.7h0.7v0.7zM302.2 342.4v-1.3h0.7v1.3zM303.8 342.4v-0.6h0.7v0.6zM304.6 342.4v-1.3h0.7v1.3zM307.0 342.4v-1.1h0.7v1.1zM307.8 342.4v-1.4h0.7v1.4zM308.6 342.4v-0.7h0.7v0.7zM309.4 342.4v-0.5h0.7v0.5zM310.2 342.4v-0.7h0.7v0.7zM311.8 342.4v-1.6h0.7v1.6zM312.6 342.4v-0.6h0.7v0.6zM313.4 342.4v-0.8h0.7v0.8zM314.2 342.4v-0.8h0.7v0.8zM315.0 342.4v-1.5h0.7v1.5zM315.8 342.4v-1.6h0.7v1.6zM316.6 342.4v-0.6h0.7v0.6zM317.4 342.4v-1.4h0.7v1.4zM318.2 342.4v-1.7h0.7v1.7zM319.0 342.4v-1.8h0.7v1.8zM319.8 342.4v-0.6h0.7v0.6zM320.6 342.4v-1.4h0.7v1.4zM321.4 342.4v-0.6h0.7v0.6zM322.2 342.4v-1.5h0.7v1.5zM323.0 342.4v-1.6h0.7v1.6zM323.8 342.4v-0.6h0.7v0.6zM324.6 342.4v-1.3h0.7v1.3zM325.4 342.4v-1.4h0.7v1.4zM326.2 342.4v-1.5h0.7v1.5zM327.0 342.4v-1.4h0.7v1.4zM327.8 342.4v-1.1h0.7v1.1zM328.6 342.4v-1.5h0.7v1.5zM330.2 342.4v-1.3h0.7v1.3zM331.0 342.4v-0.6h0.7v0.6zM332.6 342.4v-1.6h0.7v1.6zM333.4 342.4v-1.3h0.7v1.3zM335.0 342.4v-1.3h0.7v1.3zM335.8 342.4v-1.1h0.7v1.1zM337.4 342.4v-1.4h0.7v1.4zM338.2 342.4v-1.7h0.7v1.7zM339.0 342.4v-0.9h0.7v0.9zM339.8 342.4v-0.9h0.7v0.9zM340.6 342.4v-1.3h0.7v1.3zM341.4 342.4v-1.7h0.7v1.7zM342.2 342.4v-1.6h0.7v1.6zM343.0 342.4v-1.6h0.7v1.6zM343.8 342.4v-0.9h0.7v0.9zM345.4 342.4v-1.4h0.7v1.4zM347.0 342.4v-0.6h0.7v0.6zM347.8 342.4v-1.5h0.7v1.5zM348.6 342.4v-1.5h0.7v1.5zM350.2 342.4v-1.3h0.7v1.3zM351.0 342.4v-1.1h0.7v1.1zM351.8 342.4v-0.9h0.7v0.9zM352.6 342.4v-1.5h0.7v1.5zM353.4 342.4v-0.7h0.7v0.7zM354.2 342.4v-1.5h0.7v1.5zM355.0 342.4v-1.3h0.7v1.3zM357.4 342.4v-1.1h0.7v1.1zM358.2 342.4v-0.8h0.7v0.8zM359.0 342.4v-0.8h0.7v0.8zM359.8 342.4v-1.0h0.7v1.0zM360.6 342.4v-1.0h0.7v1.0zM361.4 342.4v-0.7h0.7v0.7zM362.2 342.4v-1.8h0.7v1.8zM363.0 342.4v-0.7h0.7v0.7zM363.8 342.4v-1.5h0.7v1.5zM364.6 342.4v-1.3h0.7v1.3zM365.4 342.4v-1.2h0.7v1.2zM366.2 342.4v-0.6h0.7v0.6zM368.6 342.4v-1.3h0.7v1.3zM369.4 342.4v-1.5h0.7v1.5zM370.2 342.4v-1.7h0.7v1.7zM371.0 342.4v-1.6h0.7v1.6zM372.6 342.4v-0.6h0.7v0.6zM373.4 342.4v-0.8h0.7v0.8zM374.2 342.4v-0.6h0.7v0.6zM375.0 342.4v-1.6h0.7v1.6zM375.8 342.4v-1.7h0.7v1.7zM377.4 342.4v-1.3h0.7v1.3zM378.2 342.4v-0.7h0.7v0.7zM379.8 342.4v-1.3h0.7v1.3zM380.6 342.4v-1.7h0.7v1.7zM381.4 342.4v-1.0h0.7v1.0zM382.2 342.4v-0.7h0.7v0.7zM384.6 342.4v-0.6h0.7v0.6zM385.4 342.4v-1.0h0.7v1.0zM387.8 342.4v-0.6h0.7v0.6zM388.6 342.4v-1.4h0.7v1.4zM389.4 342.4v-1.8h0.7v1.8zM390.2 342.4v-0.7h0.7v0.7zM391.0 342.4v-1.7h0.7v1.7zM391.8 342.4v-0.9h0.7v0.9zM292.0 342.4v-2.7h0.7v2.7zM292.8 342.4v-1.7h0.7v1.7zM293.6 342.4v-1.2h0.7v1.2zM294.4 342.4v-1.3h0.7v1.3zM295.2 342.4v-1.3h0.7v1.3zM296.0 342.4v-1.0h0.7v1.0zM296.8 342.4v-1.4h0.7v1.4zM297.6 342.4v-3.0h0.7v3.0zM298.4 342.4v-3.1h0.7v3.1zM299.2 342.4v-3.0h0.7v3.0zM300.0 342.4v-2.0h0.7v2.0zM300.8 342.4v-3.0h0.7v3.0zM301.6 342.4v-2.4h0.7v2.4zM302.4 342.4v-1.7h0.7v1.7zM303.2 342.4v-2.0h0.7v2.0zM304.0 342.4v-1.3h0.7v1.3zM304.8 342.4v-1.1h0.7v1.1zM305.6 342.4v-2.2h0.7v2.2zM306.4 342.4v-2.9h0.7v2.9zM307.2 342.4v-1.9h0.7v1.9zM308.0 342.4v-1.6h0.7v1.6zM308.8 342.4v-1.7h0.7v1.7zM309.6 342.4v-2.1h0.7v2.1zM310.4 342.4v-3.0h0.7v3.0zM311.2 342.4v-3.2h0.7v3.2zM312.0 342.4v-3.0h0.7v3.0zM312.8 342.4v-1.4h0.7v1.4zM269.25 342.4L269.60 339.9L269.82 338.1L270.18 338.1L270.40 339.9L270.75 342.4zM309.55 342.4L309.90 339.6L310.12 337.6L310.48 337.6L310.70 339.6L311.05 342.4zM325.40 342.4L325.75 337.2L326.00 333.1L326.40 333.1L326.65 337.2L327.00 342.4zM333.10 342.4L333.45 337.7L333.70 334.1L334.10 334.1L334.35 337.7L334.70 342.4zM337.10 342.4L337.45 337.2L337.70 333.1L338.10 333.1L338.35 337.2L338.70 342.4zM344.05 342.4L344.40 336.1L344.68 331.1L345.12 331.1L345.40 336.1L345.75 342.4zM352.05 342.4L352.40 339.4L352.62 337.1L352.98 337.1L353.20 339.4L353.55 342.4zM367.45 342.4L367.80 338.2L368.02 335.1L368.38 335.1L368.60 338.2L368.95 342.4zM379.70 342.4L380.05 337.2L380.30 333.1L380.70 333.1L380.95 337.2L381.30 342.4zM385.55 342.4L385.90 336.1L386.18 331.1L386.62 331.1L386.90 336.1L387.25 342.4zM392.8 342.4v-0.4h0.7v0.4zM393.6 342.4v-0.4h0.7v0.4zM396.8 342.4v-0.4h0.7v0.4zM398.4 342.4v-0.6h0.7v0.6zM399.2 342.4v-0.8h0.7v0.8zM400.0 342.4v-0.7h0.7v0.7zM401.6 342.4v-0.2h0.7v0.2zM404.0 342.4v-0.5h0.7v0.5z" fill="#fa0808"/>
<line x1="268" y1="348" x2="390" y2="348" stroke="#3434c8" stroke-width="0.5" stroke-dasharray="1.5 0.7"/>
<rect x="269.60" y="347.00" width="0.8" height="2" fill="#10108a"/>
<rect x="325.60" y="347.00" width="0.8" height="2" fill="#10108a"/>
<rect x="337.60" y="347.00" width="0.8" height="2" fill="#10108a"/>
<rect x="344.50" y="347.00" width="1" height="2" fill="#10108a"/>
<rect x="367.60" y="347.00" width="0.8" height="2" fill="#10108a"/>
<rect x="385.50" y="347.00" width="1" height="2" fill="#10108a"/>
<text x="241" y="349.20" font-size="3.2" text-anchor="end" fill="#3a3ad8">Setdb2</text>
<text x="276.2" y="346.09" font-size="3.3" fill="#3a3ad8" textLength="99.7" lengthAdjust="spacingAndGlyphs">UCSC Genes (RefSeq, GenBank, tRNAs &amp; Comparative Genomics)</text>
<g font-size="6.75" font-weight="bold" fill="#111">
<text x="255.2" y="261.6">Control _BV2</text>
<text x="255.2" y="279.3">LPS 2 h_BV2</text>
<text x="255.2" y="292.4">LPS 4 h_BV2</text>
<text x="255.2" y="310">Control _PM</text>
<text x="257.3" y="323.1">LPS 2 h _PM</text>
<text x="257.3" y="336.6">LPS 4 h _PM</text>
</g>
<text x="425.5" y="419.5" font-size="20" font-weight="bold">g</text>
<text transform="translate(444.7,465.7) rotate(-90)" font-size="10.2" font-weight="bold" text-anchor="middle" fill="#000">NLRP3</text>
<rect x="446.5" y="401.9" width="236.80" height="114.60" fill="#fff" stroke="#505050" stroke-width="1.1"/>
<line x1="493.5" y1="402.4" x2="493.5" y2="516.0" stroke="#f7a0a8" stroke-width="0.6" stroke-dasharray="1.2 0.8"/>
<line x1="493.5" y1="427.25" x2="682.9" y2="427.25" stroke="#7a7a7a" stroke-width="0.6"/>
<line x1="493.5" y1="443.35" x2="682.9" y2="443.35" stroke="#7a7a7a" stroke-width="0.6"/>
<line x1="493.5" y1="459.55" x2="682.9" y2="459.55" stroke="#7a7a7a" stroke-width="0.6"/>
<line x1="493.5" y1="475.75" x2="682.9" y2="475.75" stroke="#7a7a7a" stroke-width="0.6"/>
<line x1="493.5" y1="491.95" x2="682.9" y2="491.95" stroke="#7a7a7a" stroke-width="0.6"/>
<line x1="493.5" y1="508.15" x2="682.9" y2="508.15" stroke="#7a7a7a" stroke-width="0.6"/>
<g font-size="4.2" text-anchor="end">
<text x="492.7" y="406.60" fill="#444">Scale</text>
<text x="492.7" y="410.40" fill="#444">chr11:</text>
<text x="492.7" y="414.40" fill="#444">200 _</text>
<text x="492.7" y="427.10" fill="#444">0 _</text>
<text x="492.7" y="430.90" fill="#3a3ad8">200 _</text>
<text x="492.7" y="443.20" fill="#3a3ad8">0 _</text>
<text x="492.7" y="446.70" fill="#3a3ad8">200 _</text>
<text x="492.7" y="459.40" fill="#3a3ad8">0 _</text>
<text x="492.7" y="463.20" fill="#444">200 _</text>
<text x="492.7" y="475.60" fill="#444">0 _</text>
<text x="492.7" y="479.20" fill="#f03030">200 _</text>
<text x="492.7" y="491.80" fill="#f03030">0 _</text>
<text x="492.7" y="495.30" fill="#f03030">200 _</text>
<text x="492.7" y="508.00" fill="#f03030">0 _</text>
</g>
<g font-size="4.2" text-anchor="start">
<text x="447.7" y="419.90" fill="#444" textLength="45.0" lengthAdjust="spacingAndGlyphs">BV2-Cont Total Tags =</text>
<text x="447.7" y="435.80" fill="#3a3ad8" textLength="45.0" lengthAdjust="spacingAndGlyphs">BV2-LPS-2H Total Tag</text>
<text x="447.7" y="451.90" fill="#3a3ad8" textLength="45.0" lengthAdjust="spacingAndGlyphs">BV2-LPS-4H Total Tag</text>
<text x="447.7" y="468.30" fill="#444" textLength="45.0" lengthAdjust="spacingAndGlyphs">PMG-Cont Total Tags</text>
<text x="447.7" y="484.70" fill="#f03030" textLength="45.0" lengthAdjust="spacingAndGlyphs">PMG-LPS-2H Total Ta</text>
<text x="447.7" y="500.80" fill="#f03030" textLength="45.0" lengthAdjust="spacingAndGlyphs">PMG-LPS-4H Total Ta</text>
</g>
<g font-size="4.2">
<text x="547.3" y="415.14" fill="#444" textLength="121.2" lengthAdjust="spacingAndGlyphs">BV2-Cont Total Tags = 1.39e+07, normalized to 1.00e+07</text>
<text x="547.3" y="431.64" fill="#3a3ad8" textLength="124.4" lengthAdjust="spacingAndGlyphs">BV2-LPS-2H Total Tags = 1.72e+07, normalized to 1.00e+07</text>
<text x="547.3" y="447.44" fill="#3a3ad8" textLength="124.4" lengthAdjust="spacingAndGlyphs">BV2-LPS-4H Total Tags = 1.58e+07, normalized to 1.00e+07</text>
<text x="547.3" y="463.94" fill="#444" textLength="121.2" lengthAdjust="spacingAndGlyphs">PMG-Cont Total Tags = 1.60e+07, normalized to 1.00e+07</text>
<text x="547.3" y="479.94" fill="#f03030" textLength="124.4" lengthAdjust="spacingAndGlyphs">PMG-LPS-2H Total Tags = 1.73e+07, normalized to 1.00e+07</text>
<text x="547.3" y="496.04" fill="#f03030" textLength="124.4" lengthAdjust="spacingAndGlyphs">PMG-LPS-4H Total Tags = 1.60e+07, normalized to 1.00e+07</text>
</g>
<g font-size="4.45" text-anchor="end" fill="#2a2a2a">
<text x="539.5" y="410.40">59,540,000|</text>
<text x="586.8" y="410.40">59,550,000|</text>
<text x="634" y="410.40">59,560,000|</text>
<text x="681.4" y="410.40">59,570,000|</text>
</g>
<text x="585.5" y="405.20" font-size="3.78" text-anchor="end" fill="#444">10 kb</text>
<line x1="586.5" y1="404.1" x2="633" y2="404.1" stroke="#777" stroke-width="0.5"/>
<line x1="586.5" y1="403.1" x2="586.5" y2="405.1" stroke="#777" stroke-width="0.5"/>
<line x1="633" y1="403.1" x2="633" y2="405.1" stroke="#777" stroke-width="0.5"/>
<text x="636.6" y="404.90" font-size="3.36" fill="#444">mm10</text>
<path d="M500.8 427.2v-0.5h0.7v0.5zM503.2 427.2v-0.4h0.7v0.4zM504.0 427.2v-0.6h0.7v0.6zM505.6 427.2v-0.7h0.7v0.7zM508.8 427.2v-0.2h0.7v0.2zM510.4 427.2v-0.3h0.7v0.3zM511.2 427.2v-0.2h0.7v0.2zM518.4 427.2v-0.7h0.7v0.7zM522.4 427.2v-0.4h0.7v0.4zM523.2 427.2v-0.6h0.7v0.6zM528.0 427.2v-0.3h0.7v0.3zM532.0 427.2v-0.5h0.7v0.5zM533.6 427.2v-0.3h0.7v0.3zM536.8 427.2v-0.3h0.7v0.3zM537.6 427.2v-0.2h0.7v0.2zM539.2 427.2v-0.5h0.7v0.5zM540.8 427.2v-0.6h0.7v0.6zM541.6 427.2v-0.5h0.7v0.5zM542.4 427.2v-0.4h0.7v0.4zM543.2 427.2v-0.3h0.7v0.3zM547.2 427.2v-0.4h0.7v0.4zM549.6 427.2v-0.7h0.7v0.7zM550.4 427.2v-0.3h0.7v0.3zM552.8 427.2v-0.2h0.7v0.2zM553.6 427.2v-0.5h0.7v0.5zM554.4 427.2v-0.5h0.7v0.5zM560.0 427.2v-0.3h0.7v0.3zM562.4 427.2v-0.3h0.7v0.3zM564.8 427.2v-0.7h0.7v0.7zM568.0 427.2v-0.2h0.7v0.2zM569.6 427.2v-0.6h0.7v0.6zM570.4 427.2v-0.6h0.7v0.6zM572.0 427.2v-0.3h0.7v0.3zM573.6 427.2v-0.3h0.7v0.3zM576.8 427.2v-0.7h0.7v0.7zM577.6 427.2v-0.2h0.7v0.2zM578.4 427.2v-0.4h0.7v0.4zM579.2 427.2v-0.3h0.7v0.3zM581.6 427.2v-0.4h0.7v0.4zM586.4 427.2v-0.2h0.7v0.2zM587.2 427.2v-0.7h0.7v0.7zM589.6 427.2v-0.5h0.7v0.5zM593.6 427.2v-0.5h0.7v0.5zM608.8 427.2v-0.5h0.7v0.5zM616.0 427.2v-0.6h0.7v0.6zM616.8 427.2v-0.5h0.7v0.5zM618.4 427.2v-0.6h0.7v0.6zM621.6 427.2v-0.2h0.7v0.2zM624.0 427.2v-0.3h0.7v0.3zM629.6 427.2v-0.4h0.7v0.4zM635.2 427.2v-0.5h0.7v0.5zM639.2 427.2v-0.3h0.7v0.3zM640.8 427.2v-0.3h0.7v0.3zM647.2 427.2v-0.2h0.7v0.2zM648.8 427.2v-0.6h0.7v0.6zM652.0 427.2v-0.3h0.7v0.3zM653.6 427.2v-0.6h0.7v0.6zM654.4 427.2v-0.3h0.7v0.3zM655.2 427.2v-0.5h0.7v0.5zM660.8 427.2v-0.4h0.7v0.4zM661.6 427.2v-0.2h0.7v0.2zM664.0 427.2v-0.3h0.7v0.3zM671.2 427.2v-0.7h0.7v0.7zM672.8 427.2v-0.4h0.7v0.4z" fill="#111"/>
<path d="M496.0 443.3v-0.6h0.7v0.6zM499.2 443.3v-0.7h0.7v0.7zM503.2 443.3v-0.7h0.7v0.7zM504.8 443.3v-0.3h0.7v0.3zM508.8 443.3v-0.7h0.7v0.7zM509.6 443.3v-0.7h0.7v0.7zM510.4 443.3v-0.4h0.7v0.4zM512.0 443.3v-0.3h0.7v0.3zM518.4 443.3v-0.4h0.7v0.4zM520.0 443.3v-0.6h0.7v0.6zM524.0 443.3v-0.5h0.7v0.5zM526.4 443.3v-0.7h0.7v0.7zM529.6 443.3v-0.5h0.7v0.5zM532.0 443.3v-0.8h0.7v0.8zM537.6 443.3v-0.5h0.7v0.5zM540.8 443.3v-0.5h0.7v0.5zM541.6 443.3v-0.5h0.7v0.5zM544.8 443.3v-0.3h0.7v0.3zM547.2 443.3v-0.7h0.7v0.7zM548.0 443.3v-0.3h0.7v0.3zM548.8 443.3v-0.6h0.7v0.6zM549.6 443.3v-0.4h0.7v0.4zM551.2 443.3v-0.6h0.7v0.6zM552.0 443.3v-0.5h0.7v0.5zM552.8 443.3v-0.4h0.7v0.4zM557.6 443.3v-0.4h0.7v0.4zM563.2 443.3v-0.7h0.7v0.7zM565.6 443.3v-0.4h0.7v0.4zM567.2 443.3v-0.8h0.7v0.8zM568.8 443.3v-0.4h0.7v0.4zM570.4 443.3v-0.3h0.7v0.3zM573.6 443.3v-0.5h0.7v0.5zM575.2 443.3v-0.4h0.7v0.4zM578.4 443.3v-0.5h0.7v0.5zM581.6 443.3v-0.3h0.7v0.3zM582.4 443.3v-0.3h0.7v0.3zM585.6 443.3v-0.3h0.7v0.3zM586.4 443.3v-0.7h0.7v0.7zM588.8 443.3v-0.3h0.7v0.3zM592.0 443.3v-0.5h0.7v0.5zM595.2 443.3v-0.6h0.7v0.6zM596.8 443.3v-0.5h0.7v0.5zM599.2 443.3v-0.3h0.7v0.3zM600.8 443.3v-0.7h0.7v0.7zM608.8 443.3v-0.8h0.7v0.8zM618.4 443.3v-0.4h0.7v0.4zM620.0 443.3v-0.4h0.7v0.4zM622.4 443.3v-0.8h0.7v0.8zM624.0 443.3v-0.6h0.7v0.6zM631.2 443.3v-0.6h0.7v0.6zM632.8 443.3v-0.5h0.7v0.5zM633.6 443.3v-0.3h0.7v0.3zM635.2 443.3v-0.4h0.7v0.4zM642.4 443.3v-0.6h0.7v0.6zM644.0 443.3v-0.8h0.7v0.8zM644.8 443.3v-0.5h0.7v0.5zM645.6 443.3v-0.5h0.7v0.5zM647.2 443.3v-0.8h0.7v0.8zM651.2 443.3v-0.6h0.7v0.6zM652.8 443.3v-0.6h0.7v0.6zM653.6 443.3v-0.2h0.7v0.2zM654.4 443.3v-0.3h0.7v0.3zM655.2 443.3v-0.7h0.7v0.7zM658.4 443.3v-0.8h0.7v0.8zM660.0 443.3v-0.7h0.7v0.7zM663.2 443.3v-0.5h0.7v0.5zM668.8 443.3v-0.6h0.7v0.6zM670.4 443.3v-0.3h0.7v0.3zM672.0 443.3v-0.5h0.7v0.5zM674.4 443.3v-0.6h0.7v0.6zM680.0 443.3v-0.3h0.7v0.3zM553.05 443.3L553.40 441.4L553.75 440.0L554.25 440.0L554.60 441.4L554.95 443.3zM576.8 443.3L576.8 440.6L577.7 440.6L578.6 440.7L579.5 440.9L580.4 441.0L581.3 440.7L582.2 440.8L583.1 440.8L584.0 440.7L584.9 440.7L585.5 443.3zM593.95 443.3L594.30 442.2L594.52 441.5L594.88 441.5L595.10 442.2L595.45 443.3zM613.45 443.3L613.80 442.4L614.02 442.0L614.38 442.0L614.60 442.4L614.95 443.3zM625.45 443.3L625.80 442.3L626.02 441.8L626.38 441.8L626.60 442.3L626.95 443.3zM657.75 443.3L658.10 441.9L658.32 441.0L658.68 441.0L658.90 441.9L659.25 443.3zM661.3 443.3L661.3 441.0L662.2 441.0L663.1 440.5L664.0 440.6L664.9 440.6L665.8 441.1L666.4 443.3z" fill="#0000f5"/>
<path d="M496.0 459.5v-0.4h0.7v0.4zM496.8 459.5v-0.6h0.7v0.6zM497.6 459.5v-0.5h0.7v0.5zM498.4 459.5v-0.3h0.7v0.3zM501.6 459.5v-0.5h0.7v0.5zM502.4 459.5v-0.4h0.7v0.4zM504.8 459.5v-0.3h0.7v0.3zM508.0 459.5v-0.5h0.7v0.5zM508.8 459.5v-0.7h0.7v0.7zM509.6 459.5v-0.6h0.7v0.6zM511.2 459.5v-0.5h0.7v0.5zM513.6 459.5v-0.4h0.7v0.4zM514.4 459.5v-0.7h0.7v0.7zM515.2 459.5v-0.3h0.7v0.3zM518.4 459.5v-0.7h0.7v0.7zM519.2 459.5v-0.4h0.7v0.4zM520.8 459.5v-0.4h0.7v0.4zM523.2 459.5v-0.3h0.7v0.3zM524.0 459.5v-0.6h0.7v0.6zM524.8 459.5v-0.3h0.7v0.3zM529.6 459.5v-0.7h0.7v0.7zM530.4 459.5v-0.4h0.7v0.4zM531.2 459.5v-0.8h0.7v0.8zM532.8 459.5v-0.4h0.7v0.4zM533.6 459.5v-0.4h0.7v0.4zM534.4 459.5v-0.5h0.7v0.5zM535.2 459.5v-0.6h0.7v0.6zM539.2 459.5v-0.7h0.7v0.7zM540.8 459.5v-0.3h0.7v0.3zM546.4 459.5v-0.5h0.7v0.5zM548.0 459.5v-0.3h0.7v0.3zM550.4 459.5v-0.6h0.7v0.6zM551.2 459.5v-0.7h0.7v0.7zM552.8 459.5v-0.4h0.7v0.4zM556.0 459.5v-0.4h0.7v0.4zM562.4 459.5v-0.7h0.7v0.7zM571.2 459.5v-0.5h0.7v0.5zM572.0 459.5v-0.7h0.7v0.7zM573.6 459.5v-0.3h0.7v0.3zM574.4 459.5v-0.5h0.7v0.5zM575.2 459.5v-0.8h0.7v0.8zM576.0 459.5v-0.4h0.7v0.4zM576.8 459.5v-0.6h0.7v0.6zM578.4 459.5v-0.3h0.7v0.3zM581.6 459.5v-0.3h0.7v0.3zM582.4 459.5v-0.4h0.7v0.4zM583.2 459.5v-0.6h0.7v0.6zM584.8 459.5v-0.3h0.7v0.3zM585.6 459.5v-0.3h0.7v0.3zM587.2 459.5v-0.5h0.7v0.5zM589.6 459.5v-0.7h0.7v0.7zM591.2 459.5v-0.5h0.7v0.5zM593.6 459.5v-0.3h0.7v0.3zM596.0 459.5v-0.5h0.7v0.5zM597.6 459.5v-0.8h0.7v0.8zM599.2 459.5v-0.2h0.7v0.2zM600.8 459.5v-0.7h0.7v0.7zM603.2 459.5v-0.3h0.7v0.3zM604.0 459.5v-0.4h0.7v0.4zM608.0 459.5v-0.5h0.7v0.5zM608.8 459.5v-0.7h0.7v0.7zM609.6 459.5v-0.7h0.7v0.7zM612.0 459.5v-0.4h0.7v0.4zM613.6 459.5v-0.5h0.7v0.5zM617.6 459.5v-0.7h0.7v0.7zM618.4 459.5v-0.8h0.7v0.8zM619.2 459.5v-0.7h0.7v0.7zM620.0 459.5v-0.5h0.7v0.5zM621.6 459.5v-0.7h0.7v0.7zM622.4 459.5v-0.4h0.7v0.4zM623.2 459.5v-0.4h0.7v0.4zM625.6 459.5v-0.6h0.7v0.6zM626.4 459.5v-0.5h0.7v0.5zM630.4 459.5v-0.5h0.7v0.5zM632.0 459.5v-0.6h0.7v0.6zM633.6 459.5v-0.8h0.7v0.8zM635.2 459.5v-0.6h0.7v0.6zM636.0 459.5v-0.5h0.7v0.5zM637.6 459.5v-0.4h0.7v0.4zM638.4 459.5v-0.6h0.7v0.6zM639.2 459.5v-0.4h0.7v0.4zM640.8 459.5v-0.8h0.7v0.8zM643.2 459.5v-0.7h0.7v0.7zM644.0 459.5v-0.3h0.7v0.3zM644.8 459.5v-0.6h0.7v0.6zM646.4 459.5v-0.5h0.7v0.5zM648.8 459.5v-0.4h0.7v0.4zM649.6 459.5v-0.3h0.7v0.3zM650.4 459.5v-0.3h0.7v0.3zM652.0 459.5v-0.5h0.7v0.5zM655.2 459.5v-0.4h0.7v0.4zM656.0 459.5v-0.2h0.7v0.2zM656.8 459.5v-0.6h0.7v0.6zM660.8 459.5v-0.4h0.7v0.4zM661.6 459.5v-0.6h0.7v0.6zM662.4 459.5v-0.5h0.7v0.5zM666.4 459.5v-0.7h0.7v0.7zM668.8 459.5v-0.5h0.7v0.5zM669.6 459.5v-0.6h0.7v0.6zM673.6 459.5v-0.8h0.7v0.8zM675.2 459.5v-0.3h0.7v0.3zM676.0 459.5v-0.6h0.7v0.6zM677.6 459.5v-0.8h0.7v0.8zM678.4 459.5v-0.5h0.7v0.5zM679.2 459.5v-0.8h0.7v0.8zM680.0 459.5v-0.7h0.7v0.7zM553.05 459.5L553.40 458.1L553.75 457.2L554.25 457.2L554.60 458.1L554.95 459.5zM576.8 459.5L576.8 457.6L577.7 457.6L578.6 457.6L579.5 457.7L580.4 457.4L581.3 457.4L582.2 457.5L583.1 457.6L584.0 457.8L584.9 457.5L585.5 459.5zM593.95 459.5L594.30 458.6L594.52 458.2L594.88 458.2L595.10 458.6L595.45 459.5zM625.45 459.5L625.80 458.6L626.02 458.2L626.38 458.2L626.60 458.6L626.95 459.5zM657.75 459.5L658.10 458.4L658.32 457.7L658.68 457.7L658.90 458.4L659.25 459.5zM661.3 459.5L661.3 458.0L662.2 457.7L663.1 458.0L664.0 457.9L664.9 457.8L665.8 458.0L666.4 459.5z" fill="#0000f5"/>
<path d="M496.8 475.7v-0.2h0.7v0.2zM497.6 475.7v-0.7h0.7v0.7zM504.8 475.7v-0.3h0.7v0.3zM506.4 475.7v-0.4h0.7v0.4zM508.0 475.7v-0.5h0.7v0.5zM508.8 475.7v-0.5h0.7v0.5zM511.2 475.7v-0.5h0.7v0.5zM512.0 475.7v-0.7h0.7v0.7zM528.8 475.7v-0.6h0.7v0.6zM534.4 475.7v-0.3h0.7v0.3zM537.6 475.7v-0.6h0.7v0.6zM539.2 475.7v-0.4h0.7v0.4zM540.8 475.7v-0.2h0.7v0.2zM546.4 475.7v-0.6h0.7v0.6zM548.8 475.7v-0.6h0.7v0.6zM549.6 475.7v-0.5h0.7v0.5zM551.2 475.7v-0.3h0.7v0.3zM552.0 475.7v-0.4h0.7v0.4zM552.8 475.7v-0.6h0.7v0.6zM556.8 475.7v-0.2h0.7v0.2zM562.4 475.7v-0.4h0.7v0.4zM564.8 475.7v-0.6h0.7v0.6zM567.2 475.7v-0.6h0.7v0.6zM568.8 475.7v-0.5h0.7v0.5zM569.6 475.7v-0.6h0.7v0.6zM570.4 475.7v-0.3h0.7v0.3zM575.2 475.7v-0.6h0.7v0.6zM577.6 475.7v-0.3h0.7v0.3zM580.0 475.7v-0.3h0.7v0.3zM580.8 475.7v-0.5h0.7v0.5zM585.6 475.7v-0.4h0.7v0.4zM588.0 475.7v-0.5h0.7v0.5zM588.8 475.7v-0.7h0.7v0.7zM592.0 475.7v-0.5h0.7v0.5zM592.8 475.7v-0.3h0.7v0.3zM594.4 475.7v-0.3h0.7v0.3zM596.0 475.7v-0.3h0.7v0.3zM597.6 475.7v-0.6h0.7v0.6zM599.2 475.7v-0.4h0.7v0.4zM603.2 475.7v-0.5h0.7v0.5zM612.0 475.7v-0.6h0.7v0.6zM612.8 475.7v-0.5h0.7v0.5zM613.6 475.7v-0.4h0.7v0.4zM616.8 475.7v-0.4h0.7v0.4zM617.6 475.7v-0.5h0.7v0.5zM619.2 475.7v-0.5h0.7v0.5zM622.4 475.7v-0.3h0.7v0.3zM623.2 475.7v-0.5h0.7v0.5zM625.6 475.7v-0.6h0.7v0.6zM626.4 475.7v-0.7h0.7v0.7zM629.6 475.7v-0.3h0.7v0.3zM631.2 475.7v-0.4h0.7v0.4zM633.6 475.7v-0.5h0.7v0.5zM634.4 475.7v-0.6h0.7v0.6zM635.2 475.7v-0.3h0.7v0.3zM636.0 475.7v-0.5h0.7v0.5zM638.4 475.7v-0.4h0.7v0.4zM640.0 475.7v-0.7h0.7v0.7zM640.8 475.7v-0.4h0.7v0.4zM643.2 475.7v-0.4h0.7v0.4zM644.8 475.7v-0.3h0.7v0.3zM646.4 475.7v-0.4h0.7v0.4zM647.2 475.7v-0.4h0.7v0.4zM648.0 475.7v-0.2h0.7v0.2zM651.2 475.7v-0.3h0.7v0.3zM652.8 475.7v-0.4h0.7v0.4zM657.6 475.7v-0.4h0.7v0.4zM659.2 475.7v-0.4h0.7v0.4zM667.2 475.7v-0.4h0.7v0.4zM668.0 475.7v-0.5h0.7v0.5zM668.8 475.7v-0.3h0.7v0.3zM669.6 475.7v-0.4h0.7v0.4zM674.4 475.7v-0.4h0.7v0.4zM675.2 475.7v-0.5h0.7v0.5zM676.8 475.7v-0.2h0.7v0.2zM677.6 475.7v-0.3h0.7v0.3z" fill="#111"/>
<path d="M496.0 491.9v-0.5h0.7v0.5zM496.8 491.9v-0.9h0.7v0.9zM497.6 491.9v-0.8h0.7v0.8zM500.0 491.9v-0.5h0.7v0.5zM500.8 491.9v-0.3h0.7v0.3zM502.4 491.9v-0.8h0.7v0.8zM504.0 491.9v-0.5h0.7v0.5zM504.8 491.9v-0.3h0.7v0.3zM505.6 491.9v-0.6h0.7v0.6zM506.4 491.9v-0.5h0.7v0.5zM508.8 491.9v-0.7h0.7v0.7zM509.6 491.9v-0.7h0.7v0.7zM511.2 491.9v-0.4h0.7v0.4zM512.0 491.9v-0.7h0.7v0.7zM513.6 491.9v-0.8h0.7v0.8zM514.4 491.9v-0.5h0.7v0.5zM515.2 491.9v-0.4h0.7v0.4zM516.0 491.9v-0.3h0.7v0.3zM520.0 491.9v-0.7h0.7v0.7zM521.6 491.9v-0.7h0.7v0.7zM524.8 491.9v-0.7h0.7v0.7zM525.6 491.9v-0.5h0.7v0.5zM526.4 491.9v-0.3h0.7v0.3zM527.2 491.9v-0.5h0.7v0.5zM528.8 491.9v-0.4h0.7v0.4zM531.2 491.9v-0.7h0.7v0.7zM532.0 491.9v-0.3h0.7v0.3zM532.8 491.9v-0.5h0.7v0.5zM533.6 491.9v-0.6h0.7v0.6zM536.8 491.9v-0.5h0.7v0.5zM537.6 491.9v-0.3h0.7v0.3zM539.2 491.9v-0.6h0.7v0.6zM541.6 491.9v-0.4h0.7v0.4zM542.4 491.9v-0.5h0.7v0.5zM544.8 491.9v-0.7h0.7v0.7zM545.6 491.9v-0.6h0.7v0.6zM548.0 491.9v-0.6h0.7v0.6zM553.6 491.9v-0.8h0.7v0.8zM555.2 491.9v-0.8h0.7v0.8zM556.0 491.9v-0.4h0.7v0.4zM557.6 491.9v-0.5h0.7v0.5zM559.2 491.9v-0.4h0.7v0.4zM560.0 491.9v-0.7h0.7v0.7zM560.8 491.9v-0.3h0.7v0.3zM562.4 491.9v-0.4h0.7v0.4zM568.8 491.9v-0.5h0.7v0.5zM570.4 491.9v-0.7h0.7v0.7zM574.4 491.9v-0.7h0.7v0.7zM576.8 491.9v-0.4h0.7v0.4zM579.2 491.9v-0.4h0.7v0.4zM580.0 491.9v-0.4h0.7v0.4zM581.6 491.9v-0.3h0.7v0.3zM582.4 491.9v-0.3h0.7v0.3zM584.0 491.9v-0.6h0.7v0.6zM586.4 491.9v-0.8h0.7v0.8zM588.0 491.9v-0.4h0.7v0.4zM590.4 491.9v-0.7h0.7v0.7zM591.2 491.9v-0.7h0.7v0.7zM592.0 491.9v-0.5h0.7v0.5zM600.0 491.9v-0.5h0.7v0.5zM601.6 491.9v-0.4h0.7v0.4zM602.4 491.9v-0.6h0.7v0.6zM604.8 491.9v-0.7h0.7v0.7zM607.2 491.9v-0.9h0.7v0.9zM608.8 491.9v-0.7h0.7v0.7zM609.6 491.9v-0.3h0.7v0.3zM610.4 491.9v-0.7h0.7v0.7zM612.0 491.9v-0.5h0.7v0.5zM612.8 491.9v-0.6h0.7v0.6zM614.4 491.9v-0.5h0.7v0.5zM616.8 491.9v-0.5h0.7v0.5zM620.0 491.9v-0.7h0.7v0.7zM622.4 491.9v-0.4h0.7v0.4zM623.2 491.9v-0.9h0.7v0.9zM624.0 491.9v-0.6h0.7v0.6zM624.8 491.9v-0.5h0.7v0.5zM625.6 491.9v-0.6h0.7v0.6zM626.4 491.9v-0.7h0.7v0.7zM627.2 491.9v-0.4h0.7v0.4zM628.8 491.9v-0.4h0.7v0.4zM629.6 491.9v-0.3h0.7v0.3zM631.2 491.9v-0.3h0.7v0.3zM632.0 491.9v-0.6h0.7v0.6zM633.6 491.9v-0.8h0.7v0.8zM636.8 491.9v-0.3h0.7v0.3zM640.0 491.9v-0.9h0.7v0.9zM644.8 491.9v-0.3h0.7v0.3zM645.6 491.9v-0.3h0.7v0.3zM646.4 491.9v-0.5h0.7v0.5zM648.0 491.9v-0.6h0.7v0.6zM648.8 491.9v-0.4h0.7v0.4zM650.4 491.9v-0.6h0.7v0.6zM653.6 491.9v-0.8h0.7v0.8zM656.8 491.9v-0.9h0.7v0.9zM659.2 491.9v-0.8h0.7v0.8zM660.0 491.9v-0.6h0.7v0.6zM660.8 491.9v-0.5h0.7v0.5zM661.6 491.9v-0.7h0.7v0.7zM663.2 491.9v-0.7h0.7v0.7zM664.0 491.9v-0.4h0.7v0.4zM665.6 491.9v-0.3h0.7v0.3zM666.4 491.9v-0.7h0.7v0.7zM667.2 491.9v-0.7h0.7v0.7zM669.6 491.9v-0.3h0.7v0.3zM670.4 491.9v-0.5h0.7v0.5zM672.0 491.9v-0.6h0.7v0.6zM673.6 491.9v-0.6h0.7v0.6zM675.2 491.9v-0.8h0.7v0.8zM676.0 491.9v-0.7h0.7v0.7zM676.8 491.9v-0.9h0.7v0.9zM679.2 491.9v-0.5h0.7v0.5zM553.05 491.9L553.40 488.6L553.75 486.1L554.25 486.1L554.60 488.6L554.95 491.9zM576.8 491.9L576.8 487.2L577.7 487.1L578.6 486.5L579.5 486.2L580.4 487.0L581.3 487.2L582.2 487.0L583.1 486.1L584.0 487.3L584.9 486.6L585.5 491.9zM593.95 491.9L594.30 489.7L594.52 488.1L594.88 488.1L595.10 489.7L595.45 491.9zM613.45 491.9L613.80 490.2L614.02 489.1L614.38 489.1L614.60 490.2L614.95 491.9zM625.45 491.9L625.80 490.0L626.02 488.6L626.38 488.6L626.60 490.0L626.95 491.9zM657.75 491.9L658.10 489.4L658.32 487.6L658.68 487.6L658.90 489.4L659.25 491.9zM661.3 491.9L661.3 487.8L662.2 487.5L663.1 488.0L664.0 487.5L664.9 487.2L665.8 487.3L666.4 491.9z" fill="#fa0808"/>
<path d="M498.4 508.1v-0.8h0.7v0.8zM502.4 508.1v-0.4h0.7v0.4zM505.6 508.1v-0.7h0.7v0.7zM509.6 508.1v-0.6h0.7v0.6zM512.0 508.1v-0.7h0.7v0.7zM515.2 508.1v-0.9h0.7v0.9zM516.8 508.1v-0.8h0.7v0.8zM522.4 508.1v-0.8h0.7v0.8zM524.0 508.1v-0.8h0.7v0.8zM527.2 508.1v-0.4h0.7v0.4zM528.8 508.1v-0.6h0.7v0.6zM531.2 508.1v-0.8h0.7v0.8zM536.0 508.1v-0.5h0.7v0.5zM536.8 508.1v-0.3h0.7v0.3zM537.6 508.1v-0.8h0.7v0.8zM539.2 508.1v-0.4h0.7v0.4zM540.0 508.1v-0.8h0.7v0.8zM542.4 508.1v-0.9h0.7v0.9zM543.2 508.1v-0.7h0.7v0.7zM545.6 508.1v-0.7h0.7v0.7zM547.2 508.1v-0.5h0.7v0.5zM548.0 508.1v-0.7h0.7v0.7zM548.8 508.1v-0.6h0.7v0.6zM550.4 508.1v-0.4h0.7v0.4zM552.8 508.1v-0.3h0.7v0.3zM555.2 508.1v-0.4h0.7v0.4zM558.4 508.1v-0.5h0.7v0.5zM560.0 508.1v-0.7h0.7v0.7zM565.6 508.1v-0.7h0.7v0.7zM566.4 508.1v-0.6h0.7v0.6zM567.2 508.1v-0.8h0.7v0.8zM568.0 508.1v-0.8h0.7v0.8zM571.2 508.1v-0.7h0.7v0.7zM573.6 508.1v-0.5h0.7v0.5zM574.4 508.1v-0.5h0.7v0.5zM576.0 508.1v-0.7h0.7v0.7zM577.6 508.1v-0.5h0.7v0.5zM578.4 508.1v-0.8h0.7v0.8zM579.2 508.1v-0.5h0.7v0.5zM580.0 508.1v-0.8h0.7v0.8zM583.2 508.1v-0.8h0.7v0.8zM584.0 508.1v-0.5h0.7v0.5zM584.8 508.1v-0.7h0.7v0.7zM586.4 508.1v-0.8h0.7v0.8zM588.0 508.1v-0.7h0.7v0.7zM589.6 508.1v-0.6h0.7v0.6zM590.4 508.1v-0.7h0.7v0.7zM594.4 508.1v-0.8h0.7v0.8zM597.6 508.1v-0.6h0.7v0.6zM600.0 508.1v-0.9h0.7v0.9zM600.8 508.1v-0.5h0.7v0.5zM601.6 508.1v-0.5h0.7v0.5zM603.2 508.1v-0.4h0.7v0.4zM606.4 508.1v-0.8h0.7v0.8zM608.8 508.1v-0.6h0.7v0.6zM609.6 508.1v-0.8h0.7v0.8zM612.0 508.1v-0.5h0.7v0.5zM614.4 508.1v-0.8h0.7v0.8zM615.2 508.1v-0.6h0.7v0.6zM616.0 508.1v-0.6h0.7v0.6zM616.8 508.1v-0.3h0.7v0.3zM618.4 508.1v-0.8h0.7v0.8zM619.2 508.1v-0.5h0.7v0.5zM620.0 508.1v-0.4h0.7v0.4zM624.0 508.1v-0.8h0.7v0.8zM624.8 508.1v-0.9h0.7v0.9zM630.4 508.1v-0.4h0.7v0.4zM633.6 508.1v-0.6h0.7v0.6zM634.4 508.1v-0.3h0.7v0.3zM635.2 508.1v-0.9h0.7v0.9zM637.6 508.1v-0.5h0.7v0.5zM638.4 508.1v-0.4h0.7v0.4zM639.2 508.1v-0.8h0.7v0.8zM640.0 508.1v-0.6h0.7v0.6zM645.6 508.1v-0.5h0.7v0.5zM647.2 508.1v-0.5h0.7v0.5zM649.6 508.1v-0.5h0.7v0.5zM651.2 508.1v-0.8h0.7v0.8zM652.0 508.1v-0.6h0.7v0.6zM653.6 508.1v-0.4h0.7v0.4zM654.4 508.1v-0.5h0.7v0.5zM655.2 508.1v-0.6h0.7v0.6zM656.0 508.1v-0.7h0.7v0.7zM657.6 508.1v-0.5h0.7v0.5zM659.2 508.1v-0.6h0.7v0.6zM660.8 508.1v-0.6h0.7v0.6zM661.6 508.1v-0.5h0.7v0.5zM664.0 508.1v-0.6h0.7v0.6zM666.4 508.1v-0.3h0.7v0.3zM667.2 508.1v-0.4h0.7v0.4zM671.2 508.1v-0.7h0.7v0.7zM672.0 508.1v-0.9h0.7v0.9zM673.6 508.1v-0.5h0.7v0.5zM676.8 508.1v-0.8h0.7v0.8zM677.6 508.1v-0.7h0.7v0.7zM553.00 508.1L553.35 501.8L553.73 496.8L554.27 496.8L554.65 501.8L555.00 508.1zM570.25 508.1L570.60 507.0L570.82 506.3L571.18 506.3L571.40 507.0L571.75 508.1zM576.8 508.1L576.8 500.5L577.7 498.3L578.6 498.7L579.5 499.1L580.4 500.5L581.3 498.7L582.2 499.5L583.1 498.9L584.0 498.1L584.9 498.3L585.5 508.1zM593.90 508.1L594.25 503.4L594.50 499.8L594.90 499.8L595.15 503.4L595.50 508.1zM613.45 508.1L613.80 504.8L614.02 502.3L614.38 502.3L614.60 504.8L614.95 508.1zM625.45 508.1L625.80 503.9L626.02 500.8L626.38 500.8L626.60 503.9L626.95 508.1zM657.70 508.1L658.05 503.4L658.30 499.8L658.70 499.8L658.95 503.4L659.30 508.1zM661.3 508.1L661.3 500.9L662.2 499.3L663.1 500.1L664.0 499.4L664.9 500.2L665.8 500.0L666.4 508.1z" fill="#fa0808"/>
<line x1="550" y1="514.4" x2="668" y2="514.4" stroke="#3434c8" stroke-width="0.5" stroke-dasharray="1.5 0.7"/>
<rect x="553.40" y="512.80" width="1.2" height="3.2" fill="#10108a"/>
<rect x="570.60" y="512.80" width="0.8" height="3.2" fill="#10108a"/>
<rect x="576.75" y="512.80" width="8.7" height="3.2" fill="#10108a"/>
<rect x="594.20" y="512.80" width="1" height="3.2" fill="#10108a"/>
<rect x="613.80" y="512.80" width="0.8" height="3.2" fill="#10108a"/>
<rect x="625.70" y="512.80" width="1" height="3.2" fill="#10108a"/>
<rect x="658.00" y="512.80" width="1" height="3.2" fill="#10108a"/>
<rect x="661.30" y="512.80" width="5" height="3.2" fill="#10108a"/>
<text x="548.5" y="515.60" font-size="4.2" text-anchor="end" fill="#3a3ad8">Nlrp3</text>
<text x="540.4" y="512.29" font-size="4.2" fill="#3a3ad8" textLength="138.2" lengthAdjust="spacingAndGlyphs">UCSC Genes (RefSeq, GenBank, tRNAs &amp; Comparative Genomics)</text>
<g font-size="6.9" font-weight="bold" fill="#111">
<text x="503.3" y="424.6">Control_BV2</text>
<text x="503.3" y="437.9">LPS 2 h_BV2</text>
<text x="503.3" y="450.7">LPS 4 h_BV2</text>
<text x="503.3" y="468.4">Control_PM</text>
<text x="505.1" y="485.9">LPS 2 h _PM</text>
<text x="505.1" y="503.6">LPS 4 h _PM</text>
</g>
<text transform="translate(444.7,579.4) rotate(-90)" font-size="10.2" font-weight="bold" text-anchor="middle" fill="#000">MMP12</text>
<rect x="446.5" y="521.3" width="236.90" height="123.40" fill="#fff" stroke="#505050" stroke-width="1.1"/>
<line x1="491.7" y1="521.8" x2="491.7" y2="644.2" stroke="#f7a0a8" stroke-width="0.6" stroke-dasharray="1.2 0.8"/>
<line x1="491.7" y1="546.75" x2="683.0" y2="546.75" stroke="#7a7a7a" stroke-width="0.6"/>
<line x1="491.7" y1="563.85" x2="683.0" y2="563.85" stroke="#7a7a7a" stroke-width="0.6"/>
<line x1="491.7" y1="580.85" x2="683.0" y2="580.85" stroke="#7a7a7a" stroke-width="0.6"/>
<line x1="491.7" y1="597.85" x2="683.0" y2="597.85" stroke="#7a7a7a" stroke-width="0.6"/>
<line x1="491.7" y1="614.65" x2="683.0" y2="614.65" stroke="#7a7a7a" stroke-width="0.6"/>
<line x1="491.7" y1="631.85" x2="683.0" y2="631.85" stroke="#7a7a7a" stroke-width="0.6"/>
<g font-size="4.2" text-anchor="end">
<text x="490.9" y="525.00" fill="#444">Scale</text>
<text x="490.9" y="529.40" fill="#444">chr9:</text>
<text x="490.9" y="533.50" fill="#444">200 _</text>
<text x="490.9" y="546.60" fill="#444">0 _</text>
<text x="490.9" y="550.60" fill="#3a3ad8">200 _</text>
<text x="490.9" y="563.70" fill="#3a3ad8">0 _</text>
<text x="490.9" y="567.70" fill="#3a3ad8">200 _</text>
<text x="490.9" y="580.70" fill="#3a3ad8">0 _</text>
<text x="490.9" y="584.60" fill="#444">200 _</text>
<text x="490.9" y="597.70" fill="#444">0 _</text>
<text x="490.9" y="601.70" fill="#f03030">200 _</text>
<text x="490.9" y="614.50" fill="#f03030">0 _</text>
<text x="490.9" y="618.40" fill="#f03030">200 _</text>
<text x="490.9" y="631.70" fill="#f03030">0 _</text>
</g>
<g font-size="4.2" text-anchor="start">
<text x="447.7" y="538.80" fill="#444" textLength="43.2" lengthAdjust="spacingAndGlyphs">BV2-Cont Total Tags =</text>
<text x="447.7" y="555.50" fill="#3a3ad8" textLength="43.2" lengthAdjust="spacingAndGlyphs">BV2-LPS-2H Total Tag</text>
<text x="447.7" y="572.80" fill="#3a3ad8" textLength="43.2" lengthAdjust="spacingAndGlyphs">BV2-LPS-4H Total Tag</text>
<text x="447.7" y="589.90" fill="#444" textLength="43.2" lengthAdjust="spacingAndGlyphs">PMG-Cont Total Tags</text>
<text x="447.7" y="606.60" fill="#f03030" textLength="43.2" lengthAdjust="spacingAndGlyphs">PMG-LPS-2H Total Ta</text>
<text x="447.7" y="623.70" fill="#f03030" textLength="43.2" lengthAdjust="spacingAndGlyphs">PMG-LPS-4H Total Ta</text>
</g>
<g font-size="4.2">
<text x="544.5" y="534.24" fill="#444" textLength="119.0" lengthAdjust="spacingAndGlyphs">BV2-Cont Total Tags = 1.39e+07, normalized to 1.00e+07</text>
<text x="544.5" y="551.34" fill="#3a3ad8" textLength="122.2" lengthAdjust="spacingAndGlyphs">BV2-LPS-2H Total Tags = 1.72e+07, normalized to 1.00e+07</text>
<text x="544.5" y="568.44" fill="#3a3ad8" textLength="122.2" lengthAdjust="spacingAndGlyphs">BV2-LPS-4H Total Tags = 1.58e+07, normalized to 1.00e+07</text>
<text x="544.5" y="585.34" fill="#444" textLength="119.0" lengthAdjust="spacingAndGlyphs">PMG-Cont Total Tags = 1.60e+07, normalized to 1.00e+07</text>
<text x="544.5" y="602.44" fill="#f03030" textLength="122.2" lengthAdjust="spacingAndGlyphs">PMG-LPS-2H Total Tags = 1.73e+07, normalized to 1.00e+07</text>
<text x="544.5" y="619.14" fill="#f03030" textLength="122.2" lengthAdjust="spacingAndGlyphs">PMG-LPS-4H Total Tags = 1.60e+07, normalized to 1.00e+07</text>
</g>
<g font-size="4.45" text-anchor="end" fill="#2a2a2a">
<text x="504" y="529.40">|</text>
<text x="561" y="529.40">7,350,000|</text>
<text x="618" y="529.40">7,355,000|</text>
<text x="675" y="529.40">7,360,000|</text>
</g>
<text x="577" y="524.90" font-size="3.78" text-anchor="end" fill="#444">5 kb</text>
<line x1="577.7" y1="523.8" x2="633.7" y2="523.8" stroke="#777" stroke-width="0.5"/>
<line x1="577.7" y1="522.8" x2="577.7" y2="524.8" stroke="#777" stroke-width="0.5"/>
<line x1="633.7" y1="522.8" x2="633.7" y2="524.8" stroke="#777" stroke-width="0.5"/>
<text x="637.6" y="524.60" font-size="3.36" fill="#444">mm10</text>
<path d="M494.0 546.7v-0.5h0.7v0.5zM496.4 546.7v-0.3h0.7v0.3zM497.2 546.7v-0.3h0.7v0.3zM498.8 546.7v-0.5h0.7v0.5zM499.6 546.7v-0.4h0.7v0.4zM502.8 546.7v-0.3h0.7v0.3zM503.6 546.7v-0.6h0.7v0.6zM509.2 546.7v-0.6h0.7v0.6zM515.6 546.7v-0.6h0.7v0.6zM520.4 546.7v-0.5h0.7v0.5zM522.0 546.7v-0.3h0.7v0.3zM523.6 546.7v-0.4h0.7v0.4zM526.0 546.7v-0.5h0.7v0.5zM526.8 546.7v-0.3h0.7v0.3zM527.6 546.7v-0.4h0.7v0.4zM528.4 546.7v-0.5h0.7v0.5zM532.4 546.7v-0.3h0.7v0.3zM535.6 546.7v-0.4h0.7v0.4zM538.8 546.7v-0.6h0.7v0.6zM541.2 546.7v-0.7h0.7v0.7zM543.6 546.7v-0.5h0.7v0.5zM548.4 546.7v-0.3h0.7v0.3zM550.0 546.7v-0.3h0.7v0.3zM550.8 546.7v-0.5h0.7v0.5zM553.2 546.7v-0.4h0.7v0.4zM554.8 546.7v-0.2h0.7v0.2zM556.4 546.7v-0.4h0.7v0.4zM557.2 546.7v-0.5h0.7v0.5zM558.0 546.7v-0.4h0.7v0.4zM560.4 546.7v-0.4h0.7v0.4zM565.2 546.7v-0.2h0.7v0.2zM568.4 546.7v-0.5h0.7v0.5zM570.0 546.7v-0.5h0.7v0.5zM571.6 546.7v-0.4h0.7v0.4zM572.4 546.7v-0.4h0.7v0.4zM573.2 546.7v-0.4h0.7v0.4zM574.0 546.7v-0.6h0.7v0.6zM575.6 546.7v-0.6h0.7v0.6zM576.4 546.7v-0.4h0.7v0.4zM578.8 546.7v-0.4h0.7v0.4zM579.6 546.7v-0.6h0.7v0.6zM580.4 546.7v-0.6h0.7v0.6zM581.2 546.7v-0.4h0.7v0.4zM582.8 546.7v-0.3h0.7v0.3zM586.8 546.7v-0.5h0.7v0.5zM587.6 546.7v-0.6h0.7v0.6zM590.8 546.7v-0.2h0.7v0.2zM591.6 546.7v-0.6h0.7v0.6zM592.4 546.7v-0.4h0.7v0.4zM595.6 546.7v-0.6h0.7v0.6zM603.6 546.7v-0.3h0.7v0.3zM606.8 546.7v-0.7h0.7v0.7zM607.6 546.7v-0.3h0.7v0.3zM608.4 546.7v-0.2h0.7v0.2zM610.0 546.7v-0.6h0.7v0.6zM616.4 546.7v-0.6h0.7v0.6zM617.2 546.7v-0.4h0.7v0.4zM619.6 546.7v-0.6h0.7v0.6zM621.2 546.7v-0.2h0.7v0.2zM622.0 546.7v-0.4h0.7v0.4zM623.6 546.7v-0.6h0.7v0.6zM628.4 546.7v-0.4h0.7v0.4zM630.8 546.7v-0.4h0.7v0.4zM632.4 546.7v-0.5h0.7v0.5zM633.2 546.7v-0.6h0.7v0.6zM634.0 546.7v-0.3h0.7v0.3zM639.6 546.7v-0.6h0.7v0.6zM642.8 546.7v-0.6h0.7v0.6zM643.6 546.7v-0.6h0.7v0.6zM644.4 546.7v-0.2h0.7v0.2zM646.8 546.7v-0.4h0.7v0.4zM648.4 546.7v-0.5h0.7v0.5zM649.2 546.7v-0.4h0.7v0.4zM651.6 546.7v-0.2h0.7v0.2zM655.6 546.7v-0.7h0.7v0.7zM662.0 546.7v-0.3h0.7v0.3zM664.4 546.7v-0.5h0.7v0.5zM678.8 546.7v-0.4h0.7v0.4zM530.65 546.7L531.00 545.9L531.22 545.4L531.58 545.4L531.80 545.9L532.15 546.7zM544.70 546.7L545.05 545.7L545.43 545.2L545.97 545.2L546.35 545.7L546.70 546.7z" fill="#111"/>
<path d="M499.6 563.8v-0.4h0.7v0.4zM500.4 563.8v-0.4h0.7v0.4zM501.2 563.8v-0.8h0.7v0.8zM502.0 563.8v-0.8h0.7v0.8zM502.8 563.8v-0.4h0.7v0.4zM504.4 563.8v-0.3h0.7v0.3zM505.2 563.8v-0.3h0.7v0.3zM506.0 563.8v-0.4h0.7v0.4zM506.8 563.8v-0.2h0.7v0.2zM508.4 563.8v-0.4h0.7v0.4zM514.8 563.8v-0.3h0.7v0.3zM518.8 563.8v-0.6h0.7v0.6zM521.2 563.8v-0.4h0.7v0.4zM524.4 563.8v-0.6h0.7v0.6zM525.2 563.8v-0.6h0.7v0.6zM526.0 563.8v-0.7h0.7v0.7zM527.6 563.8v-0.7h0.7v0.7zM528.4 563.8v-0.4h0.7v0.4zM529.2 563.8v-0.5h0.7v0.5zM530.0 563.8v-0.6h0.7v0.6zM533.2 563.8v-0.4h0.7v0.4zM534.0 563.8v-0.2h0.7v0.2zM535.6 563.8v-0.3h0.7v0.3zM539.6 563.8v-0.2h0.7v0.2zM541.2 563.8v-0.3h0.7v0.3zM542.8 563.8v-0.4h0.7v0.4zM545.2 563.8v-0.7h0.7v0.7zM554.0 563.8v-0.3h0.7v0.3zM555.6 563.8v-0.5h0.7v0.5zM556.4 563.8v-0.6h0.7v0.6zM567.6 563.8v-0.4h0.7v0.4zM570.8 563.8v-0.4h0.7v0.4zM574.0 563.8v-0.7h0.7v0.7zM576.4 563.8v-0.5h0.7v0.5zM580.4 563.8v-0.6h0.7v0.6zM585.2 563.8v-0.8h0.7v0.8zM586.0 563.8v-0.8h0.7v0.8zM590.8 563.8v-0.7h0.7v0.7zM592.4 563.8v-0.3h0.7v0.3zM596.4 563.8v-0.7h0.7v0.7zM597.2 563.8v-0.6h0.7v0.6zM599.6 563.8v-0.7h0.7v0.7zM601.2 563.8v-0.6h0.7v0.6zM602.0 563.8v-0.6h0.7v0.6zM606.0 563.8v-0.5h0.7v0.5zM606.8 563.8v-0.6h0.7v0.6zM607.6 563.8v-0.5h0.7v0.5zM608.4 563.8v-0.6h0.7v0.6zM609.2 563.8v-0.3h0.7v0.3zM614.0 563.8v-0.6h0.7v0.6zM615.6 563.8v-0.3h0.7v0.3zM616.4 563.8v-0.5h0.7v0.5zM619.6 563.8v-0.6h0.7v0.6zM621.2 563.8v-0.6h0.7v0.6zM622.0 563.8v-0.4h0.7v0.4zM624.4 563.8v-0.5h0.7v0.5zM625.2 563.8v-0.6h0.7v0.6zM626.8 563.8v-0.6h0.7v0.6zM628.4 563.8v-0.4h0.7v0.4zM631.6 563.8v-0.7h0.7v0.7zM634.0 563.8v-0.5h0.7v0.5zM635.6 563.8v-0.3h0.7v0.3zM638.0 563.8v-0.7h0.7v0.7zM638.8 563.8v-0.4h0.7v0.4zM642.0 563.8v-0.6h0.7v0.6zM647.6 563.8v-0.7h0.7v0.7zM648.4 563.8v-0.7h0.7v0.7zM653.2 563.8v-0.6h0.7v0.6zM654.0 563.8v-0.6h0.7v0.6zM655.6 563.8v-0.7h0.7v0.7zM657.2 563.8v-0.3h0.7v0.3zM658.8 563.8v-0.3h0.7v0.3zM659.6 563.8v-0.8h0.7v0.8zM662.8 563.8v-0.6h0.7v0.6zM663.6 563.8v-0.3h0.7v0.3zM666.0 563.8v-0.8h0.7v0.8zM666.8 563.8v-0.3h0.7v0.3zM667.6 563.8v-0.7h0.7v0.7zM671.6 563.8v-0.8h0.7v0.8zM672.4 563.8v-0.3h0.7v0.3zM675.6 563.8v-0.7h0.7v0.7zM677.2 563.8v-0.3h0.7v0.3zM678.8 563.8v-0.4h0.7v0.4zM679.6 563.8v-0.7h0.7v0.7zM530.65 563.8L531.00 563.0L531.22 562.5L531.58 562.5L531.80 563.0L532.15 563.8zM544.70 563.8L545.05 562.8L545.43 562.3L545.97 562.3L546.35 562.8L546.70 563.8zM655.25 563.8L655.60 562.8L656.46 562.3L657.54 562.3L658.40 562.8L658.75 563.8z" fill="#0000f5"/>
<path d="M496.4 580.8v-0.7h0.7v0.7zM497.2 580.8v-0.8h0.7v0.8zM498.8 580.8v-0.6h0.7v0.6zM499.6 580.8v-0.3h0.7v0.3zM502.0 580.8v-0.6h0.7v0.6zM502.8 580.8v-0.5h0.7v0.5zM505.2 580.8v-0.7h0.7v0.7zM506.0 580.8v-0.4h0.7v0.4zM506.8 580.8v-0.3h0.7v0.3zM507.6 580.8v-0.6h0.7v0.6zM508.4 580.8v-0.3h0.7v0.3zM510.0 580.8v-0.6h0.7v0.6zM513.2 580.8v-0.4h0.7v0.4zM514.8 580.8v-0.4h0.7v0.4zM517.2 580.8v-0.3h0.7v0.3zM518.8 580.8v-0.7h0.7v0.7zM521.2 580.8v-0.6h0.7v0.6zM524.4 580.8v-0.4h0.7v0.4zM528.4 580.8v-0.6h0.7v0.6zM529.2 580.8v-0.7h0.7v0.7zM530.0 580.8v-0.5h0.7v0.5zM531.6 580.8v-0.6h0.7v0.6zM534.8 580.8v-0.3h0.7v0.3zM535.6 580.8v-0.7h0.7v0.7zM537.2 580.8v-0.4h0.7v0.4zM538.0 580.8v-0.7h0.7v0.7zM538.8 580.8v-0.3h0.7v0.3zM539.6 580.8v-0.3h0.7v0.3zM540.4 580.8v-0.4h0.7v0.4zM542.8 580.8v-0.4h0.7v0.4zM544.4 580.8v-0.3h0.7v0.3zM546.8 580.8v-0.5h0.7v0.5zM547.6 580.8v-0.4h0.7v0.4zM548.4 580.8v-0.4h0.7v0.4zM549.2 580.8v-0.7h0.7v0.7zM550.0 580.8v-0.5h0.7v0.5zM550.8 580.8v-0.4h0.7v0.4zM554.0 580.8v-0.5h0.7v0.5zM555.6 580.8v-0.5h0.7v0.5zM557.2 580.8v-0.7h0.7v0.7zM558.8 580.8v-0.7h0.7v0.7zM560.4 580.8v-0.7h0.7v0.7zM566.0 580.8v-0.7h0.7v0.7zM570.8 580.8v-0.4h0.7v0.4zM571.6 580.8v-0.8h0.7v0.8zM573.2 580.8v-0.4h0.7v0.4zM577.2 580.8v-0.5h0.7v0.5zM578.8 580.8v-0.6h0.7v0.6zM579.6 580.8v-0.5h0.7v0.5zM583.6 580.8v-0.7h0.7v0.7zM585.2 580.8v-0.5h0.7v0.5zM586.8 580.8v-0.4h0.7v0.4zM588.4 580.8v-0.5h0.7v0.5zM589.2 580.8v-0.5h0.7v0.5zM590.8 580.8v-0.3h0.7v0.3zM594.0 580.8v-0.4h0.7v0.4zM598.0 580.8v-0.5h0.7v0.5zM603.6 580.8v-0.3h0.7v0.3zM605.2 580.8v-0.5h0.7v0.5zM606.0 580.8v-0.8h0.7v0.8zM606.8 580.8v-0.6h0.7v0.6zM608.4 580.8v-0.4h0.7v0.4zM610.0 580.8v-0.3h0.7v0.3zM610.8 580.8v-0.3h0.7v0.3zM612.4 580.8v-0.8h0.7v0.8zM615.6 580.8v-0.3h0.7v0.3zM619.6 580.8v-0.6h0.7v0.6zM622.0 580.8v-0.8h0.7v0.8zM622.8 580.8v-0.6h0.7v0.6zM623.6 580.8v-0.5h0.7v0.5zM624.4 580.8v-0.5h0.7v0.5zM625.2 580.8v-0.5h0.7v0.5zM626.8 580.8v-0.3h0.7v0.3zM630.0 580.8v-0.6h0.7v0.6zM630.8 580.8v-0.4h0.7v0.4zM632.4 580.8v-0.3h0.7v0.3zM637.2 580.8v-0.4h0.7v0.4zM640.4 580.8v-0.4h0.7v0.4zM644.4 580.8v-0.3h0.7v0.3zM645.2 580.8v-0.6h0.7v0.6zM650.8 580.8v-0.7h0.7v0.7zM654.8 580.8v-0.4h0.7v0.4zM657.2 580.8v-0.5h0.7v0.5zM658.8 580.8v-0.6h0.7v0.6zM659.6 580.8v-0.5h0.7v0.5zM666.0 580.8v-0.3h0.7v0.3zM670.0 580.8v-0.3h0.7v0.3zM674.0 580.8v-0.4h0.7v0.4zM679.6 580.8v-0.8h0.7v0.8zM530.65 580.8L531.00 580.0L531.22 579.5L531.58 579.5L531.80 580.0L532.15 580.8zM544.70 580.8L545.05 579.8L545.43 579.2L545.97 579.2L546.35 579.8L546.70 580.8zM655.25 580.8L655.60 579.8L656.46 579.3L657.54 579.3L658.40 579.8L658.75 580.8z" fill="#0000f5"/>
<path d="M494.0 597.8v-0.5h0.7v0.5zM496.4 597.8v-0.2h0.7v0.2zM500.4 597.8v-0.2h0.7v0.2zM502.0 597.8v-0.5h0.7v0.5zM506.0 597.8v-0.5h0.7v0.5zM506.8 597.8v-0.3h0.7v0.3zM510.0 597.8v-0.3h0.7v0.3zM512.4 597.8v-0.5h0.7v0.5zM516.4 597.8v-0.3h0.7v0.3zM517.2 597.8v-0.6h0.7v0.6zM518.0 597.8v-0.5h0.7v0.5zM518.8 597.8v-0.6h0.7v0.6zM519.6 597.8v-0.6h0.7v0.6zM522.8 597.8v-0.2h0.7v0.2zM523.6 597.8v-0.2h0.7v0.2zM525.2 597.8v-0.5h0.7v0.5zM530.8 597.8v-0.5h0.7v0.5zM533.2 597.8v-0.7h0.7v0.7zM538.0 597.8v-0.6h0.7v0.6zM538.8 597.8v-0.3h0.7v0.3zM539.6 597.8v-0.4h0.7v0.4zM542.0 597.8v-0.5h0.7v0.5zM543.6 597.8v-0.7h0.7v0.7zM550.8 597.8v-0.4h0.7v0.4zM552.4 597.8v-0.5h0.7v0.5zM553.2 597.8v-0.3h0.7v0.3zM556.4 597.8v-0.3h0.7v0.3zM558.0 597.8v-0.3h0.7v0.3zM566.8 597.8v-0.3h0.7v0.3zM568.4 597.8v-0.5h0.7v0.5zM570.0 597.8v-0.6h0.7v0.6zM570.8 597.8v-0.4h0.7v0.4zM571.6 597.8v-0.7h0.7v0.7zM572.4 597.8v-0.4h0.7v0.4zM575.6 597.8v-0.2h0.7v0.2zM576.4 597.8v-0.5h0.7v0.5zM580.4 597.8v-0.3h0.7v0.3zM581.2 597.8v-0.6h0.7v0.6zM582.8 597.8v-0.2h0.7v0.2zM585.2 597.8v-0.5h0.7v0.5zM586.0 597.8v-0.5h0.7v0.5zM586.8 597.8v-0.5h0.7v0.5zM587.6 597.8v-0.5h0.7v0.5zM593.2 597.8v-0.3h0.7v0.3zM595.6 597.8v-0.6h0.7v0.6zM596.4 597.8v-0.5h0.7v0.5zM598.8 597.8v-0.3h0.7v0.3zM599.6 597.8v-0.5h0.7v0.5zM610.0 597.8v-0.5h0.7v0.5zM619.6 597.8v-0.6h0.7v0.6zM620.4 597.8v-0.6h0.7v0.6zM621.2 597.8v-0.5h0.7v0.5zM622.0 597.8v-0.3h0.7v0.3zM623.6 597.8v-0.5h0.7v0.5zM624.4 597.8v-0.3h0.7v0.3zM629.2 597.8v-0.3h0.7v0.3zM635.6 597.8v-0.4h0.7v0.4zM638.8 597.8v-0.3h0.7v0.3zM640.4 597.8v-0.6h0.7v0.6zM642.8 597.8v-0.5h0.7v0.5zM643.6 597.8v-0.3h0.7v0.3zM644.4 597.8v-0.5h0.7v0.5zM646.8 597.8v-0.5h0.7v0.5zM651.6 597.8v-0.5h0.7v0.5zM652.4 597.8v-0.6h0.7v0.6zM654.0 597.8v-0.2h0.7v0.2zM658.8 597.8v-0.6h0.7v0.6zM662.8 597.8v-0.4h0.7v0.4zM666.8 597.8v-0.3h0.7v0.3zM671.6 597.8v-0.4h0.7v0.4zM672.4 597.8v-0.4h0.7v0.4zM673.2 597.8v-0.7h0.7v0.7zM674.0 597.8v-0.4h0.7v0.4zM674.8 597.8v-0.3h0.7v0.3zM679.6 597.8v-0.6h0.7v0.6zM530.55 597.8L530.90 594.8L531.18 592.5L531.62 592.5L531.90 594.8L532.25 597.8zM543.95 597.8L544.30 593.6L545.16 590.5L546.24 590.5L547.10 593.6L547.45 597.8zM556.65 597.8L557.00 595.9L557.28 594.5L557.72 594.5L558.00 595.9L558.35 597.8zM560.35 597.8L560.70 595.9L560.98 594.5L561.42 594.5L561.70 595.9L562.05 597.8zM593.50 597.8L593.85 594.8L594.17 592.5L594.63 592.5L594.95 594.8L595.30 597.8zM599.85 597.8L600.20 595.9L600.48 594.5L600.92 594.5L601.20 595.9L601.55 597.8zM614.55 597.8L614.90 596.1L615.18 595.0L615.62 595.0L615.90 596.1L616.25 597.8zM621.65 597.8L622.00 595.6L622.28 594.0L622.72 594.0L623.00 595.6L623.35 597.8zM649.95 597.8L650.30 596.4L650.58 595.5L651.02 595.5L651.30 596.4L651.65 597.8zM654.80 597.8L655.15 594.8L656.49 592.5L658.11 592.5L659.45 594.8L659.80 597.8z" fill="#111"/>
<path d="M498.0 614.6v-0.7h0.7v0.7zM499.6 614.6v-0.7h0.7v0.7zM503.6 614.6v-0.3h0.7v0.3zM510.8 614.6v-0.6h0.7v0.6zM517.2 614.6v-0.6h0.7v0.6zM518.8 614.6v-0.5h0.7v0.5zM521.2 614.6v-0.6h0.7v0.6zM522.0 614.6v-0.8h0.7v0.8zM522.8 614.6v-0.6h0.7v0.6zM525.2 614.6v-0.4h0.7v0.4zM533.2 614.6v-0.4h0.7v0.4zM534.0 614.6v-0.4h0.7v0.4zM537.2 614.6v-0.8h0.7v0.8zM538.8 614.6v-0.6h0.7v0.6zM539.6 614.6v-0.3h0.7v0.3zM542.8 614.6v-0.6h0.7v0.6zM543.6 614.6v-0.4h0.7v0.4zM544.4 614.6v-0.6h0.7v0.6zM545.2 614.6v-0.3h0.7v0.3zM547.6 614.6v-0.3h0.7v0.3zM551.6 614.6v-0.3h0.7v0.3zM552.4 614.6v-0.6h0.7v0.6zM553.2 614.6v-0.6h0.7v0.6zM556.4 614.6v-0.5h0.7v0.5zM565.2 614.6v-0.7h0.7v0.7zM566.8 614.6v-0.8h0.7v0.8zM568.4 614.6v-0.7h0.7v0.7zM569.2 614.6v-0.3h0.7v0.3zM570.8 614.6v-0.6h0.7v0.6zM571.6 614.6v-0.4h0.7v0.4zM575.6 614.6v-0.7h0.7v0.7zM576.4 614.6v-0.5h0.7v0.5zM577.2 614.6v-0.7h0.7v0.7zM580.4 614.6v-0.6h0.7v0.6zM582.0 614.6v-0.7h0.7v0.7zM582.8 614.6v-0.6h0.7v0.6zM584.4 614.6v-0.5h0.7v0.5zM586.0 614.6v-0.6h0.7v0.6zM596.4 614.6v-0.5h0.7v0.5zM601.2 614.6v-0.6h0.7v0.6zM604.4 614.6v-0.8h0.7v0.8zM607.6 614.6v-0.5h0.7v0.5zM612.4 614.6v-0.6h0.7v0.6zM614.0 614.6v-0.7h0.7v0.7zM617.2 614.6v-0.6h0.7v0.6zM618.8 614.6v-0.7h0.7v0.7zM625.2 614.6v-0.7h0.7v0.7zM626.0 614.6v-0.7h0.7v0.7zM630.8 614.6v-0.8h0.7v0.8zM632.4 614.6v-0.5h0.7v0.5zM633.2 614.6v-0.5h0.7v0.5zM636.4 614.6v-0.4h0.7v0.4zM637.2 614.6v-0.7h0.7v0.7zM638.0 614.6v-0.3h0.7v0.3zM640.4 614.6v-0.5h0.7v0.5zM641.2 614.6v-0.7h0.7v0.7zM642.8 614.6v-0.7h0.7v0.7zM643.6 614.6v-0.8h0.7v0.8zM644.4 614.6v-0.8h0.7v0.8zM645.2 614.6v-0.6h0.7v0.6zM650.8 614.6v-0.5h0.7v0.5zM651.6 614.6v-0.8h0.7v0.8zM654.8 614.6v-0.3h0.7v0.3zM656.4 614.6v-0.5h0.7v0.5zM659.6 614.6v-0.4h0.7v0.4zM662.0 614.6v-0.6h0.7v0.6zM662.8 614.6v-0.6h0.7v0.6zM664.4 614.6v-0.7h0.7v0.7zM667.6 614.6v-0.4h0.7v0.4zM669.2 614.6v-0.8h0.7v0.8zM670.8 614.6v-0.4h0.7v0.4zM671.6 614.6v-0.5h0.7v0.5zM674.0 614.6v-0.4h0.7v0.4zM674.8 614.6v-0.6h0.7v0.6zM675.6 614.6v-0.3h0.7v0.3zM676.4 614.6v-0.5h0.7v0.5zM677.2 614.6v-0.7h0.7v0.7zM679.6 614.6v-0.5h0.7v0.5zM530.55 614.6L530.90 612.4L531.18 610.8L531.62 610.8L531.90 612.4L532.25 614.6zM543.95 614.6L544.30 611.5L545.16 609.3L546.24 609.3L547.10 611.5L547.45 614.6zM556.65 614.6L557.00 612.9L557.28 611.8L557.72 611.8L558.00 612.9L558.35 614.6zM560.35 614.6L560.70 612.6L560.98 611.3L561.42 611.3L561.70 612.6L562.05 614.6zM593.50 614.6L593.85 612.1L594.17 610.3L594.63 610.3L594.95 612.1L595.30 614.6zM599.85 614.6L600.20 612.9L600.48 611.8L600.92 611.8L601.20 612.9L601.55 614.6zM614.55 614.6L614.90 612.9L615.18 611.8L615.62 611.8L615.90 612.9L616.25 614.6zM621.65 614.6L622.00 612.6L622.28 611.3L622.72 611.3L623.00 612.6L623.35 614.6zM649.95 614.6L650.30 613.2L650.58 612.3L651.02 612.3L651.30 613.2L651.65 614.6zM654.80 614.6L655.15 612.1L656.49 610.3L658.11 610.3L659.45 612.1L659.80 614.6z" fill="#fa0808"/>
<path d="M499.6 631.8v-0.5h0.7v0.5zM502.8 631.8v-0.7h0.7v0.7zM504.4 631.8v-0.8h0.7v0.8zM510.8 631.8v-0.7h0.7v0.7zM511.6 631.8v-0.5h0.7v0.5zM512.4 631.8v-0.5h0.7v0.5zM513.2 631.8v-0.4h0.7v0.4zM516.4 631.8v-0.3h0.7v0.3zM520.4 631.8v-0.4h0.7v0.4zM523.6 631.8v-0.5h0.7v0.5zM527.6 631.8v-0.6h0.7v0.6zM529.2 631.8v-0.6h0.7v0.6zM530.0 631.8v-0.5h0.7v0.5zM532.4 631.8v-0.5h0.7v0.5zM534.0 631.8v-0.7h0.7v0.7zM534.8 631.8v-0.5h0.7v0.5zM536.4 631.8v-0.7h0.7v0.7zM538.0 631.8v-0.8h0.7v0.8zM542.0 631.8v-0.5h0.7v0.5zM542.8 631.8v-0.3h0.7v0.3zM550.0 631.8v-0.8h0.7v0.8zM554.0 631.8v-0.6h0.7v0.6zM560.4 631.8v-0.7h0.7v0.7zM566.0 631.8v-0.8h0.7v0.8zM566.8 631.8v-0.5h0.7v0.5zM567.6 631.8v-0.3h0.7v0.3zM570.0 631.8v-0.7h0.7v0.7zM572.4 631.8v-0.4h0.7v0.4zM575.6 631.8v-0.7h0.7v0.7zM577.2 631.8v-0.6h0.7v0.6zM579.6 631.8v-0.5h0.7v0.5zM580.4 631.8v-0.3h0.7v0.3zM584.4 631.8v-0.6h0.7v0.6zM586.8 631.8v-0.8h0.7v0.8zM587.6 631.8v-0.3h0.7v0.3zM589.2 631.8v-0.4h0.7v0.4zM590.0 631.8v-0.7h0.7v0.7zM590.8 631.8v-0.4h0.7v0.4zM592.4 631.8v-0.6h0.7v0.6zM595.6 631.8v-0.7h0.7v0.7zM598.0 631.8v-0.4h0.7v0.4zM598.8 631.8v-0.8h0.7v0.8zM599.6 631.8v-0.7h0.7v0.7zM602.0 631.8v-0.7h0.7v0.7zM602.8 631.8v-0.5h0.7v0.5zM605.2 631.8v-0.6h0.7v0.6zM608.4 631.8v-0.7h0.7v0.7zM609.2 631.8v-0.4h0.7v0.4zM614.0 631.8v-0.5h0.7v0.5zM615.6 631.8v-0.4h0.7v0.4zM618.0 631.8v-0.3h0.7v0.3zM619.6 631.8v-0.7h0.7v0.7zM621.2 631.8v-0.4h0.7v0.4zM622.8 631.8v-0.3h0.7v0.3zM626.8 631.8v-0.7h0.7v0.7zM628.4 631.8v-0.4h0.7v0.4zM635.6 631.8v-0.7h0.7v0.7zM636.4 631.8v-0.6h0.7v0.6zM638.8 631.8v-0.6h0.7v0.6zM640.4 631.8v-0.5h0.7v0.5zM646.0 631.8v-0.4h0.7v0.4zM647.6 631.8v-0.3h0.7v0.3zM648.4 631.8v-0.3h0.7v0.3zM650.0 631.8v-0.7h0.7v0.7zM656.4 631.8v-0.6h0.7v0.6zM663.6 631.8v-0.7h0.7v0.7zM665.2 631.8v-0.3h0.7v0.3zM668.4 631.8v-0.4h0.7v0.4zM670.0 631.8v-0.3h0.7v0.3zM672.4 631.8v-0.8h0.7v0.8zM673.2 631.8v-0.4h0.7v0.4zM674.0 631.8v-0.5h0.7v0.5zM674.8 631.8v-0.5h0.7v0.5zM675.6 631.8v-0.5h0.7v0.5zM678.0 631.8v-0.6h0.7v0.6zM530.45 631.8L530.80 626.5L531.15 622.5L531.65 622.5L532.00 626.5L532.35 631.8zM543.75 631.8L544.10 624.4L545.09 618.5L546.31 618.5L547.30 624.4L547.65 631.8zM556.55 631.8L556.90 627.1L557.25 623.5L557.75 623.5L558.10 627.1L558.45 631.8zM560.25 631.8L560.60 626.5L560.95 622.5L561.45 622.5L561.80 626.5L562.15 631.8zM593.40 631.8L593.75 624.9L594.13 619.5L594.67 619.5L595.05 624.9L595.40 631.8zM599.80 631.8L600.15 627.1L600.47 623.5L600.93 623.5L601.25 627.1L601.60 631.8zM614.50 631.8L614.85 628.2L615.17 625.5L615.63 625.5L615.95 628.2L616.30 631.8zM621.55 631.8L621.90 626.0L622.25 621.5L622.75 621.5L623.10 626.0L623.45 631.8zM649.90 631.8L650.25 629.3L650.57 627.5L651.03 627.5L651.35 629.3L651.70 631.8zM654.65 631.8L655.00 624.9L655.73 619.5L656.67 619.5L657.40 624.9L657.75 631.8zM656.85 631.8L657.20 624.9L657.93 619.5L658.87 619.5L659.60 624.9L659.95 631.8z" fill="#fa0808"/>
<line x1="496" y1="637.4" x2="680" y2="637.4" stroke="#3434c8" stroke-width="0.5" stroke-dasharray="1.5 0.7"/>
<rect x="530.60" y="635.70" width="1.6" height="3.4" fill="#10108a"/>
<rect x="544.50" y="635.70" width="2.4" height="3.4" fill="#10108a"/>
<rect x="556.80" y="635.70" width="1.4" height="3.4" fill="#10108a"/>
<rect x="560.50" y="635.70" width="1.4" height="3.4" fill="#10108a"/>
<rect x="593.60" y="635.70" width="1.6" height="3.4" fill="#10108a"/>
<rect x="600.10" y="635.70" width="1.2" height="3.4" fill="#10108a"/>
<rect x="614.80" y="635.70" width="1.2" height="3.4" fill="#10108a"/>
<rect x="621.80" y="635.70" width="1.4" height="3.4" fill="#10108a"/>
<rect x="650.20" y="635.70" width="1.2" height="3.4" fill="#10108a"/>
<rect x="655.00" y="636.30" width="25" height="2.2" fill="#10108a"/>
<text x="491" y="638.60" font-size="4.2" text-anchor="end" fill="#3a3ad8">Mmp12</text>
<line x1="530" y1="641.7" x2="680" y2="641.7" stroke="#3434c8" stroke-width="0.5" stroke-dasharray="1.5 0.7"/>
<rect x="530.60" y="640.00" width="1.6" height="3.4" fill="#10108a"/>
<rect x="544.50" y="640.00" width="2.4" height="3.4" fill="#10108a"/>
<rect x="556.80" y="640.00" width="1.4" height="3.4" fill="#10108a"/>
<rect x="560.50" y="640.00" width="1.4" height="3.4" fill="#10108a"/>
<rect x="593.60" y="640.00" width="1.6" height="3.4" fill="#10108a"/>
<rect x="600.10" y="640.00" width="1.2" height="3.4" fill="#10108a"/>
<rect x="614.80" y="640.00" width="1.2" height="3.4" fill="#10108a"/>
<rect x="621.80" y="640.00" width="1.4" height="3.4" fill="#10108a"/>
<rect x="650.20" y="640.00" width="1.2" height="3.4" fill="#10108a"/>
<rect x="655.00" y="640.60" width="25" height="2.2" fill="#10108a"/>
<text x="529" y="642.90" font-size="4.2" text-anchor="end" fill="#3a3ad8">Mmp12</text>
<text x="538.3" y="635.29" font-size="4.2" fill="#3a3ad8" textLength="134.7" lengthAdjust="spacingAndGlyphs">UCSC Genes (RefSeq, GenBank, tRNAs &amp; Comparative Genomics)</text>
<g font-size="6.75" font-weight="bold" fill="#111">
<text x="492.5" y="538.6">Control _BV2</text>
<text x="492.5" y="556.7">LPS 2 h_BV2</text>
<text x="492.5" y="574">LPS 4 h_BV2</text>
<text x="492.5" y="591.2">Control _PM</text>
<text x="494.4" y="608.9">LPS 2 h _PM</text>
<text x="494.4" y="622.7">LPS 4 h _PM</text>
</g>
</svg>
</body></html>
